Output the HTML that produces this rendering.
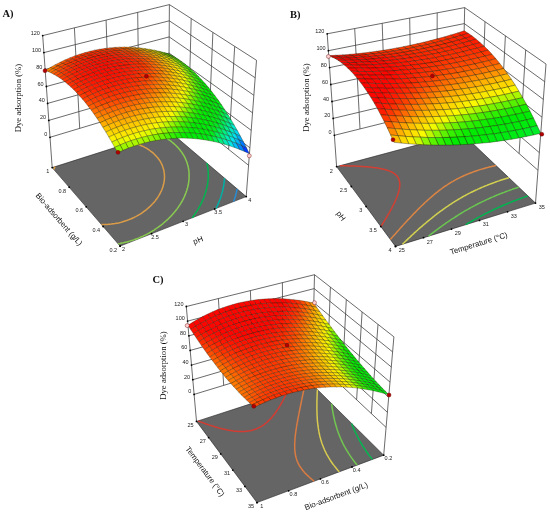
<!DOCTYPE html><html><head><meta charset="utf-8"><title>Response surface plots</title><style>html,body{margin:0;padding:0;background:#fff}svg{display:block}
.tk{font:5.5px "Liberation Sans",sans-serif;fill:#222}
.at{font:7.8px "Liberation Sans",sans-serif;fill:#111}
.zt{font:8.7px "Liberation Serif",serif;fill:#111}
.pl{font:bold 10.5px "Liberation Serif",serif;fill:#111}</style></head><body><svg width="550" height="516" viewBox="0 0 550 516"><rect width="550" height="516" fill="#fff"/><g><path d="M50 137.3L168.7 101.6L248.6 165.3M48.8 120.4L168.8 85.4L249.9 147.8M47.6 103.4L168.9 69.3L251.2 130.3M46.4 86.5L169.1 53.1L252.5 112.8M45.1 69.5L169.2 36.9L253.9 95.3M43.9 52.6L169.3 20.8L255.2 77.8M42.7 35.6L169.4 4.6L256.5 60.3M52.2 167.6L42.7 35.6M79.7 128.4L74.4 27.8M109.4 119.5L106.1 20.1M139 110.5L137.7 12.3M168.5 130.5L169.4 4.6M188.7 117.5L191.2 18.5M208.6 133.5L212.9 32.4M228.6 149.4L234.7 46.4M246.2 196.6L256.5 60.3" fill="none" stroke="#3a3a3a" stroke-width="0.75"/><circle cx="50" cy="137.3" r="0.9" fill="#000"/><text x="47.2" y="136.3" text-anchor="end" class="tk">0</text><circle cx="48.8" cy="120.4" r="0.9" fill="#000"/><text x="46" y="119.4" text-anchor="end" class="tk">20</text><circle cx="47.6" cy="103.4" r="0.9" fill="#000"/><text x="44.8" y="102.4" text-anchor="end" class="tk">40</text><circle cx="46.4" cy="86.5" r="0.9" fill="#000"/><text x="43.6" y="85.5" text-anchor="end" class="tk">60</text><circle cx="45.1" cy="69.5" r="0.9" fill="#000"/><text x="42.3" y="68.5" text-anchor="end" class="tk">80</text><circle cx="43.9" cy="52.6" r="0.9" fill="#000"/><text x="41.1" y="51.6" text-anchor="end" class="tk">100</text><circle cx="42.7" cy="35.6" r="0.9" fill="#000"/><text x="39.9" y="34.6" text-anchor="end" class="tk">120</text><polygon points="52.2,167.6 120.1,246.1 246.2,196.6 168.5,130.5" fill="#656565" stroke="#222" stroke-width="0.6"/><polyline points="233.6,201.5 234.1,200.1 234.2,200.1 234.6,198.7 234.7,198.5 235,197.3 235.2,197 235.5,196 235.6,195.4 235.8,194.6 236.1,193.8 236.2,193.3 236.5,192.2 236.5,191.9 236.8,190.6 236.8,190.6 237.1,189.3 237.2,188.9" fill="none" stroke="#288cd2" stroke-width="1.5"/><polyline points="216,208.5 216.1,208.2 216.8,206.9 216.8,206.8 217.5,205.4 217.5,205.4 218.1,203.9 218.1,203.9 218.7,202.5 218.8,202.4 219.3,201 219.3,201 219.9,199.6 219.9,199.5 220.4,198.2 220.5,197.9 220.9,196.8 221,196.4 221.3,195.4 221.5,194.9 221.7,194 221.9,193.3 222.1,192.6 222.4,191.7 222.5,191.3 222.8,190.1 222.8,190 223.1,188.6 223.1,188.5 223.4,187.3 223.5,186.8 223.6,186 223.8,185.1 223.8,184.8 224,183.5 224,183.4 224.2,182.2 224.2,181.7 224.3,181 224.4,180 224.4,179.8 224.5,178.5 224.6,178.2" fill="none" stroke="#00afa5" stroke-width="1.5"/><polyline points="192.3,217.8 192.5,217.5 193.4,216.3 193.6,216 194.3,215 194.8,214.3 195.2,213.7 195.9,212.6 196,212.4 196.9,211.1 197,210.9 197.7,209.8 198,209.3 198.5,208.5 198.9,207.7 199.3,207.1 199.8,206.1 200,205.7 200.6,204.6 200.7,204.3 201.4,203 201.4,202.9 202.1,201.5 202.1,201.5 202.8,200.1 202.8,200.1 203.4,198.6 203.4,198.6 204,197.2 204,197.1 204.5,195.7 204.5,195.6 205,194.3 205.1,194.1 205.4,192.9 205.6,192.5 205.9,191.6 206,191 206.2,190.2 206.5,189.4 206.6,188.9 206.8,187.8 206.9,187.5 207.2,186.2 207.2,186.1 207.4,184.9 207.5,184.4 207.6,183.6 207.8,182.7 207.8,182.4 208,181.1 208,181 208.1,179.9 208.1,179.2 208.2,178.6 208.3,177.4 208.3,177.4 208.3,176.2 208.3,175.5 208.3,175 208.3,173.8 208.3,173.6 208.2,172.7 208.2,171.7 208.2,171.5 208.1,170.4 208,169.7 208,169.2 207.8,168.1 207.7,167.6 207.7,167 207.5,165.9 207.4,165.4 207.2,164.8 207,163.7 206.9,163.1" fill="none" stroke="#00b450" stroke-width="1.5"/><polyline points="118.1,243.8 120,243.5 120.1,243.5 121.8,243.1 123.5,242.8 125.3,242.3 127,241.9 128.6,241.5 128.7,241.4 130.4,240.9 132,240.4 133.7,239.9 135.3,239.3 136.9,238.7 138.5,238.1 140,237.4 141.5,236.7 143,236.1 144.5,235.3 145.8,234.7 146,234.6 147.5,233.9 148.9,233.1 150.3,232.3 151.7,231.5 153.1,230.7 153.3,230.5 154.4,229.8 155.7,228.9 157,228 157.9,227.4 158.3,227.1 159.6,226.2 160.8,225.3 161.5,224.7 162.1,224.3 163.3,223.3 164.4,222.3 164.5,222.3 165.6,221.3 166.8,220.2 167,220.1 167.9,219.2 169,218.1 169.2,218 170.1,217 171.1,215.9 171.2,215.9 172.2,214.8 172.9,214 173.2,213.6 174.2,212.5 174.5,212.1 175.2,211.3 176,210.3 176.1,210.1 177.1,208.9 177.3,208.6 178,207.6 178.5,206.9 178.8,206.4 179.6,205.2 179.7,205.1 180.5,203.8 180.6,203.6 181.3,202.5 181.6,202 182.1,201.1 182.5,200.4 182.8,199.8 183.3,198.9 183.5,198.4 184,197.4 184.2,197 184.7,195.9 184.8,195.5 185.3,194.4 185.4,194.1 185.8,193 186,192.6 186.4,191.6 186.5,191.1 186.8,190.2 187,189.5 187.2,188.8 187.5,187.9 187.6,187.5 187.9,186.3 187.9,186.1 188.2,184.8 188.2,184.7 188.5,183.5 188.5,183 188.7,182.2 188.8,181.2 188.8,181 189,179.7 189,179.5 189,178.5 189.1,177.6 189.1,177.2 189.1,176 189.1,175.7 189.1,174.8 189.1,173.8 189.1,173.7 189,172.5 188.9,171.7 188.9,171.3 188.8,170.2 188.7,169.6 188.6,169.1 188.4,167.9 188.3,167.4 188.2,166.8 187.9,165.7 187.7,165 187.6,164.7 187.3,163.6 187,162.5 186.9,162.4 186.6,161.5 186.2,160.5 185.8,159.6 185.7,159.4 185.3,158.4 184.8,157.4 184.3,156.4 184.3,156.4 183.7,155.4 183.1,154.5 182.5,153.5 181.9,152.6 181.9,152.5 181.2,151.6 180.5,150.7 179.8,149.8 179.1,148.9 178.3,148 177.5,147.1 176.6,146.2 176.4,146 175.8,145.3 174.8,144.5 173.9,143.6 172.9,142.8 171.9,142 170.9,141.2 170.6,140.9 169.8,140.4 168.7,139.6 167.6,138.8 166.4,138 165.2,137.3 163.9,136.5 162.7,135.9 162.6,135.8 161.3,135.1 159.9,134.4 158.5,133.7" fill="none" stroke="#88ca50" stroke-width="1.5"/><polyline points="101.4,224.5 101.5,224.5 103.5,224.5 104.9,224.5 105.5,224.5 107.5,224.4 108.9,224.3 109.4,224.3 111.3,224.1 113.1,223.8 113.9,223.7 115,223.6 116.7,223.2 118.5,222.9 120.2,222.5 121.7,222.1 121.9,222 123.5,221.5 125.1,221 126.7,220.5 128.3,219.9 129.8,219.3 131.3,218.7 132.8,218 134.1,217.4 134.2,217.3 135.7,216.6 137,215.9 138.4,215.1 139.8,214.3 140.9,213.6 141.1,213.5 142.4,212.6 143.6,211.7 144.8,210.8 144.9,210.8 146.1,209.9 147.2,208.9 147.8,208.5 148.4,207.9 149.5,206.9 150.2,206.3 150.6,205.9 151.7,204.8 152.1,204.3 152.7,203.7 153.7,202.6 153.9,202.4 154.7,201.5 155.4,200.6 155.6,200.3 156.5,199.1 156.7,198.9 157.4,197.9 157.8,197.2 158.2,196.6 158.8,195.6 159,195.3 159.7,194 159.8,194 160.5,192.6 160.5,192.5 161.2,191.2 161.3,191 161.8,189.8 161.9,189.6 162.4,188.3 162.4,188.1 162.9,186.8 162.9,186.7 163.3,185.4 163.3,185.2 163.6,184 163.7,183.5 163.9,182.7 164.1,181.9 164.1,181.4 164.3,180.1 164.3,180.1 164.4,178.9 164.4,178.2 164.5,177.7 164.5,176.4 164.5,176.3 164.4,175.2 164.4,174.3 164.4,174.1 164.2,172.9 164.1,172.1 164.1,171.8 163.9,170.6 163.6,169.7 163.6,169.5 163.3,168.4 163,167.4 162.8,167 162.6,166.3 162.2,165.2 161.7,164.2 161.6,163.9 161.2,163.2 160.7,162.2 160.1,161.2 159.5,160.2 159.2,159.8 158.8,159.3 158.1,158.3 157.3,157.4 156.5,156.5 155.7,155.6 154.8,154.7 153.9,153.8 153,152.9 152,152.1 150.9,151.3 149.8,150.5 148.6,149.7 147.4,148.9 147.2,148.7 146.2,148.1 144.8,147.4 143.5,146.7 142.3,146.1 142,146 140.5,145.3 138.9,144.6 138.6,144.5 137.3,144 135.6,143.3 135.4,143.3 133.7,142.8 132.5,142.4 131.8,142.2" fill="none" stroke="#db9c48" stroke-width="1.5"/><polyline points="55.1,166.7 54.4,168 54.3,168.2 53.8,169.4" fill="none" stroke="#db9c48" stroke-width="1.5"/><circle cx="52.2" cy="167.6" r="0.9" fill="#000"/><text x="49.2" y="173.2" text-anchor="end" class="tk">1</text><circle cx="69.2" cy="187.2" r="0.9" fill="#000"/><text x="66.2" y="192.8" text-anchor="end" class="tk">0.8</text><circle cx="86.2" cy="206.8" r="0.9" fill="#000"/><text x="83.2" y="212.4" text-anchor="end" class="tk">0.6</text><circle cx="103.1" cy="226.5" r="0.9" fill="#000"/><text x="100.1" y="232.1" text-anchor="end" class="tk">0.4</text><circle cx="120.1" cy="246.1" r="0.9" fill="#000"/><text x="117.1" y="251.7" text-anchor="end" class="tk">0.2</text><circle cx="120.1" cy="246.1" r="0.9" fill="#000"/><text x="123.6" y="251.1" text-anchor="middle" class="tk">2</text><circle cx="151.6" cy="233.7" r="0.9" fill="#000"/><text x="155.1" y="238.7" text-anchor="middle" class="tk">2.5</text><circle cx="183.1" cy="221.3" r="0.9" fill="#000"/><text x="186.6" y="226.3" text-anchor="middle" class="tk">3</text><circle cx="214.7" cy="209" r="0.9" fill="#000"/><text x="218.2" y="214" text-anchor="middle" class="tk">3.5</text><circle cx="246.2" cy="196.6" r="0.9" fill="#000"/><text x="249.7" y="201.6" text-anchor="middle" class="tk">4</text><text transform="translate(57.1 221.1) rotate(49.1)" text-anchor="middle" class="at">Bio-adsorbent (g/L)</text><text transform="translate(199 242.6) rotate(-21.4)" text-anchor="middle" class="at">pH</text><text transform="translate(21.3 98) rotate(-90)" text-anchor="middle" class="zt">Dye adsorption (%)</text><text x="2.5" y="16.8" class="pl">A)</text><g stroke="#1a1a00" stroke-opacity="0.8" stroke-width="0.38" stroke-linejoin="round"><polygon points="164.2,52.5 167.5,54.3 172.4,55.7 169,53.9" fill="#31ef00"/><polygon points="159.2,51.3 162.6,53 167.5,54.3 164.2,52.5" fill="#72f300"/><polygon points="167.5,54.3 170.8,56.2 175.7,57.7 172.4,55.7" fill="#39f000"/><polygon points="154.3,50.2 157.6,51.8 162.6,53 159.2,51.3" fill="#bbf700"/><polygon points="162.6,53 165.9,54.9 170.8,56.2 167.5,54.3" fill="#82f400"/><polygon points="149.4,49.3 152.7,50.9 157.6,51.8 154.3,50.2" fill="#faf700"/><polygon points="170.8,56.2 174.1,58.3 179.1,59.8 175.7,57.7" fill="#40f000"/><polygon points="157.6,51.8 160.9,53.7 165.9,54.9 162.6,53" fill="#cff800"/><polygon points="144.4,48.5 147.7,50.1 152.7,50.9 149.4,49.3" fill="#fcde00"/><polygon points="165.9,54.9 169.2,56.9 174.1,58.3 170.8,56.2" fill="#8df400"/><polygon points="152.7,50.9 155.9,52.7 160.9,53.7 157.6,51.8" fill="#fbef00"/><polygon points="139.4,47.9 142.7,49.4 147.7,50.1 144.4,48.5" fill="#fec700"/><polygon points="174.1,58.3 177.5,60.6 182.4,62.2 179.1,59.8" fill="#44f000"/><polygon points="160.9,53.7 164.2,55.7 169.2,56.9 165.9,54.9" fill="#dcf800"/><polygon points="147.7,50.1 151,51.9 155.9,52.7 152.7,50.9" fill="#fdd500"/><polygon points="134.5,47.4 137.7,49 142.7,49.4 139.4,47.9" fill="#ffaf00"/><polygon points="169.2,56.9 172.5,59.2 177.5,60.6 174.1,58.3" fill="#92f500"/><polygon points="155.9,52.7 159.2,54.7 164.2,55.7 160.9,53.7" fill="#fbe900"/><polygon points="142.7,49.4 145.9,51.2 151,51.9 147.7,50.1" fill="#ffbe00"/><polygon points="129.5,47.2 132.7,48.7 137.7,49 134.5,47.4" fill="#ff9600"/><polygon points="177.5,60.6 180.8,63.1 185.8,64.7 182.4,62.2" fill="#43f000"/><polygon points="164.2,55.7 167.5,58 172.5,59.2 169.2,56.9" fill="#e3f900"/><polygon points="151,51.9 154.2,53.8 159.2,54.7 155.9,52.7" fill="#fdd000"/><polygon points="137.7,49 140.9,50.7 145.9,51.2 142.7,49.4" fill="#ffa300"/><polygon points="124.5,47.1 127.7,48.5 132.7,48.7 129.5,47.2" fill="#ff7f00"/><polygon points="172.5,59.2 175.8,61.7 180.8,63.1 177.5,60.6" fill="#92f500"/><polygon points="159.2,54.7 162.5,56.9 167.5,58 164.2,55.7" fill="#fce600"/><polygon points="145.9,51.2 149.2,53.1 154.2,53.8 151,51.9" fill="#ffb700"/><polygon points="132.7,48.7 135.9,50.4 140.9,50.7 137.7,49" fill="#ff8900"/><polygon points="180.8,63.1 184.1,65.9 189.1,67.5 185.8,64.7" fill="#3cf000"/><polygon points="119.5,47.2 122.7,48.6 127.7,48.5 124.5,47.1" fill="#ff6b00"/><polygon points="167.5,58 170.8,60.5 175.8,61.7 172.5,59.2" fill="#e4f900"/><polygon points="154.2,53.8 157.5,56 162.5,56.9 159.2,54.7" fill="#fecc00"/><polygon points="140.9,50.7 144.2,52.6 149.2,53.1 145.9,51.2" fill="#ff9a00"/><polygon points="127.7,48.5 130.9,50.2 135.9,50.4 132.7,48.7" fill="#ff7100"/><polygon points="175.8,61.7 179.1,64.4 184.1,65.9 180.8,63.1" fill="#8cf400"/><polygon points="114.5,47.4 117.6,48.8 122.7,48.6 119.5,47.2" fill="#ff5a00"/><polygon points="162.5,56.9 165.8,59.3 170.8,60.5 167.5,58" fill="#fce500"/><polygon points="149.2,53.1 152.5,55.3 157.5,56 154.2,53.8" fill="#ffb200"/><polygon points="184.1,65.9 187.4,68.8 192.4,70.4 189.1,67.5" fill="#36ef00"/><polygon points="135.9,50.4 139.1,52.2 144.2,52.6 140.9,50.7" fill="#ff7f00"/><polygon points="122.7,48.6 125.8,50.2 130.9,50.2 127.7,48.5" fill="#ff5d00"/><polygon points="109.5,47.9 112.6,49.2 117.6,48.8 114.5,47.4" fill="#ff4c00"/><polygon points="170.8,60.5 174.1,63.1 179.1,64.4 175.8,61.7" fill="#dff900"/><polygon points="157.5,56 160.8,58.4 165.8,59.3 162.5,56.9" fill="#fecb00"/><polygon points="144.2,52.6 147.4,54.7 152.5,55.3 149.2,53.1" fill="#ff9400"/><polygon points="179.1,64.4 182.5,67.3 187.4,68.8 184.1,65.9" fill="#81f400"/><polygon points="130.9,50.2 134.1,52.1 139.1,52.2 135.9,50.4" fill="#ff6700"/><polygon points="117.6,48.8 120.8,50.4 125.8,50.2 122.7,48.6" fill="#ff4c00"/><polygon points="104.5,48.5 107.6,49.8 112.6,49.2 109.5,47.9" fill="#ff4000"/><polygon points="165.8,59.3 169.1,62 174.1,63.1 170.8,60.5" fill="#fbe700"/><polygon points="152.5,55.3 155.7,57.6 160.8,58.4 157.5,56" fill="#ffaf00"/><polygon points="187.4,68.8 190.8,71.9 195.7,73.6 192.4,70.4" fill="#2def00"/><polygon points="139.1,52.2 142.4,54.3 147.4,54.7 144.2,52.6" fill="#ff7800"/><polygon points="125.8,50.2 129,52 134.1,52.1 130.9,50.2" fill="#ff5300"/><polygon points="174.1,63.1 177.4,65.9 182.5,67.3 179.1,64.4" fill="#d4f800"/><polygon points="112.6,49.2 115.7,50.8 120.8,50.4 117.6,48.8" fill="#ff3d00"/><polygon points="99.5,49.3 102.6,50.6 107.6,49.8 104.5,48.5" fill="#ff3900"/><polygon points="160.8,58.4 164.1,61 169.1,62 165.8,59.3" fill="#fecc00"/><polygon points="147.4,54.7 150.7,57 155.7,57.6 152.5,55.3" fill="#ff9100"/><polygon points="182.5,67.3 185.8,70.3 190.8,71.9 187.4,68.8" fill="#72f300"/><polygon points="134.1,52.1 137.3,54.1 142.4,54.3 139.1,52.2" fill="#ff6000"/><polygon points="120.8,50.4 124,52.2 129,52 125.8,50.2" fill="#ff4100"/><polygon points="169.1,62 172.4,64.8 177.4,65.9 174.1,63.1" fill="#fbea00"/><polygon points="107.6,49.8 110.7,51.3 115.7,50.8 112.6,49.2" fill="#ff3500"/><polygon points="94.5,50.2 97.5,51.5 102.6,50.6 99.5,49.3" fill="#ff3500"/><polygon points="190.8,71.9 194.1,75.1 199,76.9 195.7,73.6" fill="#21ee00"/><polygon points="155.7,57.6 159,60.2 164.1,61 160.8,58.4" fill="#ffb000"/><polygon points="142.4,54.3 145.6,56.6 150.7,57 147.4,54.7" fill="#ff7500"/><polygon points="177.4,65.9 180.7,69 185.8,70.3 182.5,67.3" fill="#c4f700"/><polygon points="129,52 132.2,54.1 137.3,54.1 134.1,52.1" fill="#ff4b00"/><polygon points="115.7,50.8 118.9,52.5 124,52.2 120.8,50.4" fill="#ff3500"/><polygon points="102.6,50.6 105.6,52.1 110.7,51.3 107.6,49.8" fill="#ff2e00"/><polygon points="164.1,61 167.3,63.8 172.4,64.8 169.1,62" fill="#fdcf00"/><polygon points="89.5,51.4 92.5,52.6 97.5,51.5 94.5,50.2" fill="#ff3300"/><polygon points="150.7,57 153.9,59.6 159,60.2 155.7,57.6" fill="#ff9100"/><polygon points="185.8,70.3 189,73.6 194.1,75.1 190.8,71.9" fill="#5df200"/><polygon points="137.3,54.1 140.5,56.4 145.6,56.6 142.4,54.3" fill="#ff5c00"/><polygon points="172.4,64.8 175.7,67.8 180.7,69 177.4,65.9" fill="#fbf000"/><polygon points="124,52.2 127.1,54.2 132.2,54.1 129,52" fill="#ff3a00"/><polygon points="110.7,51.3 113.8,53.1 118.9,52.5 115.7,50.8" fill="#ff2c00"/><polygon points="97.5,51.5 100.6,53 105.6,52.1 102.6,50.6" fill="#ff2900"/><polygon points="194.1,75.1 197.3,78.6 202.3,80.4 199,76.9" fill="#12ed00"/><polygon points="84.5,52.8 87.5,54 92.5,52.6 89.5,51.4" fill="#ff3200"/><polygon points="159,60.2 162.3,62.9 167.3,63.8 164.1,61" fill="#ffb300"/><polygon points="145.6,56.6 148.8,59.1 153.9,59.6 150.7,57" fill="#ff7400"/><polygon points="180.7,69 184,72.2 189,73.6 185.8,70.3" fill="#aef600"/><polygon points="132.2,54.1 135.4,56.3 140.5,56.4 137.3,54.1" fill="#ff4600"/><polygon points="118.9,52.5 122,54.5 127.1,54.2 124,52.2" fill="#ff2f00"/><polygon points="167.3,63.8 170.6,66.7 175.7,67.8 172.4,64.8" fill="#fdd400"/><polygon points="105.6,52.1 108.7,53.8 113.8,53.1 110.7,51.3" fill="#ff2500"/><polygon points="92.5,52.6 95.6,54.1 100.6,53 97.5,51.5" fill="#ff2600"/><polygon points="79.6,54.3 82.5,55.5 87.5,54 84.5,52.8" fill="#ff3300"/><polygon points="189,73.6 192.3,77 197.3,78.6 194.1,75.1" fill="#43f000"/><polygon points="153.9,59.6 157.2,62.3 162.3,62.9 159,60.2" fill="#ff9300"/><polygon points="140.5,56.4 143.7,58.8 148.8,59.1 145.6,56.6" fill="#ff5b00"/><polygon points="175.7,67.8 179,70.9 184,72.2 180.7,69" fill="#faf800"/><polygon points="127.1,54.2 130.3,56.4 135.4,56.3 132.2,54.1" fill="#ff3600"/><polygon points="197.3,78.6 200.6,82.3 205.6,84.1 202.3,80.4" fill="#02eb00"/><polygon points="113.8,53.1 116.9,55 122,54.5 118.9,52.5" fill="#ff2500"/><polygon points="162.3,62.9 165.5,65.9 170.6,66.7 167.3,63.8" fill="#ffb900"/><polygon points="100.6,53 103.7,54.6 108.7,53.8 105.6,52.1" fill="#ff2000"/><polygon points="87.5,54 90.5,55.4 95.6,54.1 92.5,52.6" fill="#ff2500"/><polygon points="74.6,56 77.5,57.2 82.5,55.5 79.6,54.3" fill="#ff3700"/><polygon points="148.8,59.1 152.1,61.8 157.2,62.3 153.9,59.6" fill="#ff7600"/><polygon points="184,72.2 187.3,75.6 192.3,77 189,73.6" fill="#93f500"/><polygon points="135.4,56.3 138.6,58.7 143.7,58.8 140.5,56.4" fill="#ff4400"/><polygon points="170.6,66.7 173.9,69.9 179,70.9 175.7,67.8" fill="#fcdb00"/><polygon points="122,54.5 125.2,56.6 130.3,56.4 127.1,54.2" fill="#ff2b00"/><polygon points="108.7,53.8 111.9,55.7 116.9,55 113.8,53.1" fill="#ff1e00"/><polygon points="192.3,77 195.6,80.6 200.6,82.3 197.3,78.6" fill="#2fef00"/><polygon points="95.6,54.1 98.6,55.7 103.7,54.6 100.6,53" fill="#ff1c00"/><polygon points="157.2,62.3 160.4,65.2 165.5,65.9 162.3,62.9" fill="#ff9900"/><polygon points="69.7,57.9 72.6,59.1 77.5,57.2 74.6,56" fill="#ff3c00"/><polygon points="82.5,55.5 85.5,56.9 90.5,55.4 87.5,54" fill="#ff2600"/><polygon points="143.7,58.8 146.9,61.4 152.1,61.8 148.8,59.1" fill="#ff5c00"/><polygon points="179,70.9 182.2,74.3 187.3,75.6 184,72.2" fill="#e6f900"/><polygon points="200.6,82.3 203.9,86.1 208.9,87.9 205.6,84.1" fill="#00eb03"/><polygon points="130.3,56.4 133.5,58.8 138.6,58.7 135.4,56.3" fill="#ff3400"/><polygon points="165.5,65.9 168.8,69 173.9,69.9 170.6,66.7" fill="#fec000"/><polygon points="116.9,55 120.1,57.1 125.2,56.6 122,54.5" fill="#ff2100"/><polygon points="103.7,54.6 106.8,56.5 111.9,55.7 108.7,53.8" fill="#ff1900"/><polygon points="90.5,55.4 93.6,57 98.6,55.7 95.6,54.1" fill="#ff1b00"/><polygon points="64.7,60.1 67.6,61.2 72.6,59.1 69.7,57.9" fill="#ff4500"/><polygon points="77.5,57.2 80.5,58.5 85.5,56.9 82.5,55.5" fill="#ff2900"/><polygon points="187.3,75.6 190.6,79.2 195.6,80.6 192.3,77" fill="#76f300"/><polygon points="152.1,61.8 155.3,64.6 160.4,65.2 157.2,62.3" fill="#ff7b00"/><polygon points="138.6,58.7 141.8,61.3 146.9,61.4 143.7,58.8" fill="#ff4500"/><polygon points="173.9,69.9 177.1,73.2 182.2,74.3 179,70.9" fill="#fce400"/><polygon points="125.2,56.6 128.4,59 133.5,58.8 130.3,56.4" fill="#ff2800"/><polygon points="195.6,80.6 198.9,84.4 203.9,86.1 200.6,82.3" fill="#1ded00"/><polygon points="111.9,55.7 115,57.8 120.1,57.1 116.9,55" fill="#ff1a00"/><polygon points="160.4,65.2 163.7,68.2 168.8,69 165.5,65.9" fill="#ffa100"/><polygon points="98.6,55.7 101.7,57.6 106.8,56.5 103.7,54.6" fill="#ff1700"/><polygon points="59.8,62.4 62.7,63.5 67.6,61.2 64.7,60.1" fill="#ff5200"/><polygon points="85.5,56.9 88.5,58.4 93.6,57 90.5,55.4" fill="#ff1c00"/><polygon points="72.6,59.1 75.5,60.4 80.5,58.5 77.5,57.2" fill="#ff2e00"/><polygon points="182.2,74.3 185.5,77.9 190.6,79.2 187.3,75.6" fill="#c7f700"/><polygon points="146.9,61.4 150.2,64.3 155.3,64.6 152.1,61.8" fill="#ff6000"/><polygon points="203.9,86.1 207.1,90.1 212.1,92 208.9,87.9" fill="#00eb06"/><polygon points="133.5,58.8 136.7,61.3 141.8,61.3 138.6,58.7" fill="#ff3500"/><polygon points="168.8,69 172,72.3 177.1,73.2 173.9,69.9" fill="#fec900"/><polygon points="120.1,57.1 123.2,59.4 128.4,59 125.2,56.6" fill="#ff1e00"/><polygon points="190.6,79.2 193.8,82.9 198.9,84.4 195.6,80.6" fill="#54f100"/><polygon points="106.8,56.5 109.9,58.6 115,57.8 111.9,55.7" fill="#ff1600"/><polygon points="155.3,64.6 158.5,67.7 163.7,68.2 160.4,65.2" fill="#ff8300"/><polygon points="93.6,57 96.6,58.8 101.7,57.6 98.6,55.7" fill="#ff1600"/><polygon points="54.9,64.9 57.8,65.9 62.7,63.5 59.8,62.4" fill="#ff6100"/><polygon points="80.5,58.5 83.5,60.1 88.5,58.4 85.5,56.9" fill="#ff1e00"/><polygon points="67.6,61.2 70.5,62.5 75.5,60.4 72.6,59.1" fill="#ff3500"/><polygon points="141.8,61.3 145,64.1 150.2,64.3 146.9,61.4" fill="#ff4900"/><polygon points="177.1,73.2 180.4,76.7 185.5,77.9 182.2,74.3" fill="#fbef00"/><polygon points="198.9,84.4 202.1,88.4 207.1,90.1 203.9,86.1" fill="#07ec00"/><polygon points="128.4,59 131.5,61.5 136.7,61.3 133.5,58.8" fill="#ff2800"/><polygon points="163.7,68.2 166.9,71.5 172,72.3 168.8,69" fill="#ffad00"/><polygon points="115,57.8 118.1,60 123.2,59.4 120.1,57.1" fill="#ff1800"/><polygon points="101.7,57.6 104.8,59.6 109.9,58.6 106.8,56.5" fill="#ff1300"/><polygon points="185.5,77.9 188.7,81.6 193.8,82.9 190.6,79.2" fill="#a2f600"/><polygon points="50.1,67.6 52.9,68.6 57.8,65.9 54.9,64.9" fill="#ff7400"/><polygon points="88.5,58.4 91.5,60.2 96.6,58.8 93.6,57" fill="#ff1600"/><polygon points="62.7,63.5 65.5,64.7 70.5,62.5 67.6,61.2" fill="#ff3d00"/><polygon points="75.5,60.4 78.4,61.9 83.5,60.1 80.5,58.5" fill="#ff2200"/><polygon points="150.2,64.3 153.4,67.3 158.5,67.7 155.3,64.6" fill="#ff6700"/><polygon points="207.1,90.1 210.4,94.3 215.3,96.2 212.1,92" fill="#00eb0a"/><polygon points="136.7,61.3 139.9,64.1 145,64.1 141.8,61.3" fill="#ff3700"/><polygon points="172,72.3 175.3,75.8 180.4,76.7 177.1,73.2" fill="#fdd400"/><polygon points="123.2,59.4 126.4,61.9 131.5,61.5 128.4,59" fill="#ff1d00"/><polygon points="193.8,82.9 197,86.9 202.1,88.4 198.9,84.4" fill="#34ef00"/><polygon points="109.9,58.6 113,60.8 118.1,60 115,57.8" fill="#ff1300"/><polygon points="158.5,67.7 161.7,70.9 166.9,71.5 163.7,68.2" fill="#ff8d00"/><polygon points="96.6,58.8 99.6,60.8 104.8,59.6 101.7,57.6" fill="#ff1100"/><polygon points="45.2,70.5 48,71.5 52.9,68.6 50.1,67.6" fill="#ff8a00"/><polygon points="83.5,60.1 86.5,61.8 91.5,60.2 88.5,58.4" fill="#ff1700"/><polygon points="57.8,65.9 60.6,67.2 65.5,64.7 62.7,63.5" fill="#ff4c00"/><polygon points="70.5,62.5 73.4,64 78.4,61.9 75.5,60.4" fill="#ff2900"/><polygon points="180.4,76.7 183.6,80.4 188.7,81.6 185.5,77.9" fill="#f3fa00"/><polygon points="145,64.1 148.2,67.1 153.4,67.3 150.2,64.3" fill="#ff4f00"/><polygon points="202.1,88.4 205.3,92.6 210.4,94.3 207.1,90.1" fill="#00eb02"/><polygon points="131.5,61.5 134.7,64.3 139.9,64.1 136.7,61.3" fill="#ff2a00"/><polygon points="166.9,71.5 170.1,75 175.3,75.8 172,72.3" fill="#ffba00"/><polygon points="118.1,60 121.2,62.5 126.4,61.9 123.2,59.4" fill="#ff1700"/><polygon points="188.7,81.6 192,85.5 197,86.9 193.8,82.9" fill="#7cf400"/><polygon points="210.4,94.3 213.6,98.7 218.6,100.6 215.3,96.2" fill="#00eb0e"/><polygon points="104.8,59.6 107.8,61.8 113,60.8 109.9,58.6" fill="#ff1000"/><polygon points="153.4,67.3 156.6,70.5 161.7,70.9 158.5,67.7" fill="#ff7100"/><polygon points="91.5,60.2 94.5,62.2 99.6,60.8 96.6,58.8" fill="#ff1100"/><polygon points="52.9,68.6 55.7,69.9 60.6,67.2 57.8,65.9" fill="#ff5e00"/><polygon points="78.4,61.9 81.4,63.7 86.5,61.8 83.5,60.1" fill="#ff1a00"/><polygon points="65.5,64.7 68.4,66.2 73.4,64 70.5,62.5" fill="#ff3100"/><polygon points="175.3,75.8 178.5,79.4 183.6,80.4 180.4,76.7" fill="#fce000"/><polygon points="139.9,64.1 143,67.1 148.2,67.1 145,64.1" fill="#ff3b00"/><polygon points="197,86.9 200.3,91 205.3,92.6 202.1,88.4" fill="#1ded00"/><polygon points="126.4,61.9 129.5,64.7 134.7,64.3 131.5,61.5" fill="#ff1f00"/><polygon points="161.7,70.9 165,74.3 170.1,75 166.9,71.5" fill="#ff9b00"/><polygon points="113,60.8 116.1,63.3 121.2,62.5 118.1,60" fill="#ff1200"/><polygon points="99.6,60.8 102.7,63 107.8,61.8 104.8,59.6" fill="#ff0e00"/><polygon points="183.6,80.4 186.9,84.3 192,85.5 188.7,81.6" fill="#cbf800"/><polygon points="205.3,92.6 208.5,96.9 213.6,98.7 210.4,94.3" fill="#00eb06"/><polygon points="86.5,61.8 89.5,63.8 94.5,62.2 91.5,60.2" fill="#ff1200"/><polygon points="148.2,67.1 151.4,70.3 156.6,70.5 153.4,67.3" fill="#ff5800"/><polygon points="48,71.5 50.8,72.7 55.7,69.9 52.9,68.6" fill="#ff7300"/><polygon points="73.4,64 76.4,65.7 81.4,63.7 78.4,61.9" fill="#ff1e00"/><polygon points="60.6,67.2 63.5,68.7 68.4,66.2 65.5,64.7" fill="#ff3b00"/><polygon points="134.7,64.3 137.9,67.2 143,67.1 139.9,64.1" fill="#ff2d00"/><polygon points="170.1,75 173.4,78.6 178.5,79.4 175.3,75.8" fill="#fec600"/><polygon points="192,85.5 195.2,89.6 200.3,91 197,86.9" fill="#52f100"/><polygon points="121.2,62.5 124.4,65.2 129.5,64.7 126.4,61.9" fill="#ff1800"/><polygon points="213.6,98.7 216.8,103.2 221.8,105.2 218.6,100.6" fill="#00eb12"/><polygon points="156.6,70.5 159.8,73.9 165,74.3 161.7,70.9" fill="#ff7d00"/><polygon points="107.8,61.8 110.9,64.3 116.1,63.3 113,60.8" fill="#ff0f00"/><polygon points="94.5,62.2 97.6,64.4 102.7,63 99.6,60.8" fill="#ff0e00"/><polygon points="178.5,79.4 181.7,83.3 186.9,84.3 183.6,80.4" fill="#fbef00"/><polygon points="81.4,63.7 84.4,65.6 89.5,63.8 86.5,61.8" fill="#ff1500"/><polygon points="55.7,69.9 58.5,71.3 63.5,68.7 60.6,67.2" fill="#ff4b00"/><polygon points="68.4,66.2 71.3,67.9 76.4,65.7 73.4,64" fill="#ff2600"/><polygon points="143,67.1 146.2,70.2 151.4,70.3 148.2,67.1" fill="#ff4200"/><polygon points="200.3,91 203.5,95.3 208.5,96.9 205.3,92.6" fill="#03eb00"/><polygon points="129.5,64.7 132.7,67.6 137.9,67.2 134.7,64.3" fill="#ff2200"/><polygon points="165,74.3 168.2,78 173.4,78.6 170.1,75" fill="#ffaa00"/><polygon points="116.1,63.3 119.2,65.9 124.4,65.2 121.2,62.5" fill="#ff1300"/><polygon points="186.9,84.3 190.1,88.4 195.2,89.6 192,85.5" fill="#9df500"/><polygon points="208.5,96.9 211.7,101.4 216.8,103.2 213.6,98.7" fill="#00eb0b"/><polygon points="102.7,63 105.8,65.4 110.9,64.3 107.8,61.8" fill="#ff0d00"/><polygon points="151.4,70.3 154.6,73.6 159.8,73.9 156.6,70.5" fill="#ff6300"/><polygon points="89.5,63.8 92.5,65.9 97.6,64.4 94.5,62.2" fill="#ff0f00"/><polygon points="76.4,65.7 79.3,67.6 84.4,65.6 81.4,63.7" fill="#ff1800"/><polygon points="50.8,72.7 53.6,74.2 58.5,71.3 55.7,69.9" fill="#ff5f00"/><polygon points="63.5,68.7 66.3,70.3 71.3,67.9 68.4,66.2" fill="#ff3000"/><polygon points="173.4,78.6 176.6,82.4 181.7,83.3 178.5,79.4" fill="#fdd400"/><polygon points="137.9,67.2 141,70.3 146.2,70.2 143,67.1" fill="#ff3300"/><polygon points="216.8,103.2 219.9,107.9 224.9,109.9 221.8,105.2" fill="#00ec29"/><polygon points="195.2,89.6 198.4,93.9 203.5,95.3 200.3,91" fill="#2fef00"/><polygon points="124.4,65.2 127.5,68.1 132.7,67.6 129.5,64.7" fill="#ff1900"/><polygon points="159.8,73.9 163,77.5 168.2,78 165,74.3" fill="#ff8d00"/><polygon points="110.9,64.3 114,66.9 119.2,65.9 116.1,63.3" fill="#ff0f00"/><polygon points="181.7,83.3 184.9,87.3 190.1,88.4 186.9,84.3" fill="#ecf900"/><polygon points="97.6,64.4 100.6,66.8 105.8,65.4 102.7,63" fill="#ff0c00"/><polygon points="203.5,95.3 206.7,99.8 211.7,101.4 208.5,96.9" fill="#00eb04"/><polygon points="146.2,70.2 149.4,73.5 154.6,73.6 151.4,70.3" fill="#ff4d00"/><polygon points="84.4,65.6 87.4,67.7 92.5,65.9 89.5,63.8" fill="#ff1100"/><polygon points="71.3,67.9 74.3,69.8 79.3,67.6 76.4,65.7" fill="#ff1e00"/><polygon points="58.5,71.3 61.3,72.9 66.3,70.3 63.5,68.7" fill="#ff3c00"/><polygon points="132.7,67.6 135.8,70.6 141,70.3 137.9,67.2" fill="#ff2700"/><polygon points="168.2,78 171.4,81.8 176.6,82.4 173.4,78.6" fill="#ffbc00"/><polygon points="190.1,88.4 193.3,92.6 198.4,93.9 195.2,89.6" fill="#6ff300"/><polygon points="211.7,101.4 214.9,106.1 219.9,107.9 216.8,103.2" fill="#00eb0f"/><polygon points="119.2,65.9 122.3,68.8 127.5,68.1 124.4,65.2" fill="#ff1400"/><polygon points="154.6,73.6 157.8,77.2 163,77.5 159.8,73.9" fill="#ff7200"/><polygon points="105.8,65.4 108.8,68 114,66.9 110.9,64.3" fill="#ff0d00"/><polygon points="92.5,65.9 95.5,68.3 100.6,66.8 97.6,64.4" fill="#ff0d00"/><polygon points="176.6,82.4 179.8,86.4 184.9,87.3 181.7,83.3" fill="#fce400"/><polygon points="219.9,107.9 223.1,112.8 228.1,114.8 224.9,109.9" fill="#00ee4f"/><polygon points="79.3,67.6 82.3,69.7 87.4,67.7 84.4,65.6" fill="#ff1400"/><polygon points="141,70.3 144.2,73.6 149.4,73.5 146.2,70.2" fill="#ff3a00"/><polygon points="198.4,93.9 201.6,98.3 206.7,99.8 203.5,95.3" fill="#14ed00"/><polygon points="66.3,70.3 69.2,72.2 74.3,69.8 71.3,67.9" fill="#ff2700"/><polygon points="53.6,74.2 56.4,75.8 61.3,72.9 58.5,71.3" fill="#ff4f00"/><polygon points="127.5,68.1 130.6,71.1 135.8,70.6 132.7,67.6" fill="#ff1d00"/><polygon points="163,77.5 166.2,81.2 171.4,81.8 168.2,78" fill="#ff9e00"/><polygon points="184.9,87.3 188.1,91.5 193.3,92.6 190.1,88.4" fill="#baf700"/><polygon points="114,66.9 117.1,69.7 122.3,68.8 119.2,65.9" fill="#ff1000"/><polygon points="206.7,99.8 209.9,104.5 214.9,106.1 211.7,101.4" fill="#00eb08"/><polygon points="149.4,73.5 152.6,77.1 157.8,77.2 154.6,73.6" fill="#ff5a00"/><polygon points="100.6,66.8 103.7,69.3 108.8,68 105.8,65.4" fill="#ff0c00"/><polygon points="87.4,67.7 90.4,70 95.5,68.3 92.5,65.9" fill="#ff0e00"/><polygon points="74.3,69.8 77.2,71.8 82.3,69.7 79.3,67.6" fill="#ff1900"/><polygon points="171.4,81.8 174.6,85.7 179.8,86.4 176.6,82.4" fill="#fecb00"/><polygon points="61.3,72.9 64.2,74.8 69.2,72.2 66.3,70.3" fill="#ff3300"/><polygon points="135.8,70.6 139,73.9 144.2,73.6 141,70.3" fill="#ff2e00"/><polygon points="214.9,106.1 218.1,111 223.1,112.8 219.9,107.9" fill="#00eb16"/><polygon points="193.3,92.6 196.5,97.1 201.6,98.3 198.4,93.9" fill="#3ef000"/><polygon points="122.3,68.8 125.4,71.8 130.6,71.1 127.5,68.1" fill="#ff1700"/><polygon points="157.8,77.2 161,80.9 166.2,81.2 163,77.5" fill="#ff8300"/><polygon points="108.8,68 111.9,70.8 117.1,69.7 114,66.9" fill="#ff0e00"/><polygon points="223.1,112.8 226.2,117.9 231.2,119.9 228.1,114.8" fill="#00f078"/><polygon points="179.8,86.4 183,90.6 188.1,91.5 184.9,87.3" fill="#faf600"/><polygon points="201.6,98.3 204.8,103 209.9,104.5 206.7,99.8" fill="#00eb01"/><polygon points="95.5,68.3 98.5,70.8 103.7,69.3 100.6,66.8" fill="#ff0c00"/><polygon points="144.2,73.6 147.4,77.1 152.6,77.1 149.4,73.5" fill="#ff4500"/><polygon points="82.3,69.7 85.2,72 90.4,70 87.4,67.7" fill="#ff1200"/><polygon points="69.2,72.2 72.1,74.2 77.2,71.8 74.3,69.8" fill="#ff2100"/><polygon points="56.4,75.8 59.2,77.6 64.2,74.8 61.3,72.9" fill="#ff4100"/><polygon points="166.2,81.2 169.4,85.2 174.6,85.7 171.4,81.8" fill="#ffb300"/><polygon points="130.6,71.1 133.8,74.4 139,73.9 135.8,70.6" fill="#ff2300"/><polygon points="188.1,91.5 191.3,95.9 196.5,97.1 193.3,92.6" fill="#86f400"/><polygon points="209.9,104.5 213,109.3 218.1,111 214.9,106.1" fill="#00eb0d"/><polygon points="117.1,69.7 120.2,72.7 125.4,71.8 122.3,68.8" fill="#ff1300"/><polygon points="152.6,77.1 155.8,80.8 161,80.9 157.8,77.2" fill="#ff6a00"/><polygon points="103.7,69.3 106.7,72.1 111.9,70.8 108.8,68" fill="#ff0c00"/><polygon points="174.6,85.7 177.8,89.9 183,90.6 179.8,86.4" fill="#fcdd00"/><polygon points="90.4,70 93.4,72.5 98.5,70.8 95.5,68.3" fill="#ff0d00"/><polygon points="218.1,111 221.2,116 226.2,117.9 223.1,112.8" fill="#00ed3e"/><polygon points="196.5,97.1 199.6,101.6 204.8,103 201.6,98.3" fill="#20ee00"/><polygon points="139,73.9 142.1,77.4 147.4,77.1 144.2,73.6" fill="#ff3600"/><polygon points="77.2,71.8 80.1,74.1 85.2,72 82.3,69.7" fill="#ff1600"/><polygon points="64.2,74.8 67.1,76.8 72.1,74.2 69.2,72.2" fill="#ff2b00"/><polygon points="125.4,71.8 128.5,75 133.8,74.4 130.6,71.1" fill="#ff1b00"/><polygon points="161,80.9 164.2,84.8 169.4,85.2 166.2,81.2" fill="#ff9600"/><polygon points="226.2,117.9 229.3,123.1 234.3,125.2 231.2,119.9" fill="#00eda3"/><polygon points="183,90.6 186.1,95 191.3,95.9 188.1,91.5" fill="#d0f800"/><polygon points="204.8,103 207.9,107.8 213,109.3 209.9,104.5" fill="#00eb06"/><polygon points="111.9,70.8 115,73.8 120.2,72.7 117.1,69.7" fill="#ff1000"/><polygon points="147.4,77.1 150.5,80.8 155.8,80.8 152.6,77.1" fill="#ff5500"/><polygon points="98.5,70.8 101.5,73.6 106.7,72.1 103.7,69.3" fill="#ff0c00"/><polygon points="85.2,72 88.2,74.5 93.4,72.5 90.4,70" fill="#ff1000"/><polygon points="169.4,85.2 172.6,89.3 177.8,89.9 174.6,85.7" fill="#fec500"/><polygon points="72.1,74.2 75.1,76.5 80.1,74.1 77.2,71.8" fill="#ff1c00"/><polygon points="133.8,74.4 136.9,77.8 142.1,77.4 139,73.9" fill="#ff2c00"/><polygon points="213,109.3 216.2,114.3 221.2,116 218.1,111" fill="#00eb12"/><polygon points="59.2,77.6 62.1,79.6 67.1,76.8 64.2,74.8" fill="#ff3800"/><polygon points="191.3,95.9 194.5,100.5 199.6,101.6 196.5,97.1" fill="#52f100"/><polygon points="120.2,72.7 123.3,75.9 128.5,75 125.4,71.8" fill="#ff1700"/><polygon points="155.8,80.8 158.9,84.6 164.2,84.8 161,80.9" fill="#ff7d00"/><polygon points="221.2,116 224.3,121.2 229.3,123.1 226.2,117.9" fill="#00ef68"/><polygon points="106.7,72.1 109.8,75 115,73.8 111.9,70.8" fill="#ff0e00"/><polygon points="177.8,89.9 180.9,94.2 186.1,95 183,90.6" fill="#fbf000"/><polygon points="199.6,101.6 202.8,106.4 207.9,107.8 204.8,103" fill="#01eb00"/><polygon points="142.1,77.4 145.3,81 150.5,80.8 147.4,77.1" fill="#ff4200"/><polygon points="93.4,72.5 96.4,75.3 101.5,73.6 98.5,70.8" fill="#ff0d00"/><polygon points="80.1,74.1 83.1,76.6 88.2,74.5 85.2,72" fill="#ff1400"/><polygon points="67.1,76.8 70,79 75.1,76.5 72.1,74.2" fill="#ff2600"/><polygon points="229.3,123.1 232.4,128.4 237.4,130.6 234.3,125.2" fill="#00e9d0"/><polygon points="164.2,84.8 167.3,88.9 172.6,89.3 169.4,85.2" fill="#ffac00"/><polygon points="128.5,75 131.7,78.4 136.9,77.8 133.8,74.4" fill="#ff2300"/><polygon points="207.9,107.8 211.1,112.7 216.2,114.3 213,109.3" fill="#00eb0b"/><polygon points="186.1,95 189.3,99.5 194.5,100.5 191.3,95.9" fill="#97f500"/><polygon points="115,73.8 118.1,76.9 123.3,75.9 120.2,72.7" fill="#ff1300"/><polygon points="150.5,80.8 153.7,84.6 158.9,84.6 155.8,80.8" fill="#ff6600"/><polygon points="101.5,73.6 104.6,76.5 109.8,75 106.7,72.1" fill="#ff0e00"/><polygon points="172.6,89.3 175.7,93.6 180.9,94.2 177.8,89.9" fill="#fdd800"/><polygon points="216.2,114.3 219.3,119.4 224.3,121.2 221.2,116" fill="#00ec30"/><polygon points="194.5,100.5 197.6,105.2 202.8,106.4 199.6,101.6" fill="#29ee00"/><polygon points="88.2,74.5 91.2,77.1 96.4,75.3 93.4,72.5" fill="#ff1000"/><polygon points="136.9,77.8 140,81.4 145.3,81 142.1,77.4" fill="#ff3600"/><polygon points="75.1,76.5 78,78.9 83.1,76.6 80.1,74.1" fill="#ff1a00"/><polygon points="62.1,79.6 64.9,81.8 70,79 67.1,76.8" fill="#ff3300"/><polygon points="158.9,84.6 162.1,88.7 167.3,88.9 164.2,84.8" fill="#ff9200"/><polygon points="123.3,75.9 126.4,79.3 131.7,78.4 128.5,75" fill="#ff1c00"/><polygon points="224.3,121.2 227.4,126.5 232.4,128.4 229.3,123.1" fill="#00ee94"/><polygon points="180.9,94.2 184.1,98.7 189.3,99.5 186.1,95" fill="#def900"/><polygon points="202.8,106.4 205.9,111.3 211.1,112.7 207.9,107.8" fill="#00eb05"/><polygon points="109.8,75 112.8,78.2 118.1,76.9 115,73.8" fill="#ff1100"/><polygon points="145.3,81 148.4,84.8 153.7,84.6 150.5,80.8" fill="#ff5300"/><polygon points="96.4,75.3 99.4,78.1 104.6,76.5 101.5,73.6" fill="#ff0f00"/><polygon points="232.4,128.4 235.5,134 240.4,136.1 237.4,130.6" fill="#00d8f2"/><polygon points="167.3,88.9 170.5,93.2 175.7,93.6 172.6,89.3" fill="#fec200"/><polygon points="83.1,76.6 86.1,79.2 91.2,77.1 88.2,74.5" fill="#ff1400"/><polygon points="211.1,112.7 214.2,117.8 219.3,119.4 216.2,114.3" fill="#00eb11"/><polygon points="131.7,78.4 134.8,82 140,81.4 136.9,77.8" fill="#ff2c00"/><polygon points="189.3,99.5 192.5,104.2 197.6,105.2 194.5,100.5" fill="#5ff200"/><polygon points="70,79 72.9,81.4 78,78.9 75.1,76.5" fill="#ff2300"/><polygon points="118.1,76.9 121.2,80.3 126.4,79.3 123.3,75.9" fill="#ff1800"/><polygon points="153.7,84.6 156.8,88.7 162.1,88.7 158.9,84.6" fill="#ff7b00"/><polygon points="219.3,119.4 222.4,124.7 227.4,126.5 224.3,121.2" fill="#00ee5c"/><polygon points="175.7,93.6 178.9,98.1 184.1,98.7 180.9,94.2" fill="#fbec00"/><polygon points="104.6,76.5 107.6,79.6 112.8,78.2 109.8,75" fill="#ff1100"/><polygon points="197.6,105.2 200.8,110.1 205.9,111.3 202.8,106.4" fill="#09ec00"/><polygon points="140,81.4 143.2,85.2 148.4,84.8 145.3,81" fill="#ff4200"/><polygon points="91.2,77.1 94.2,80 99.4,78.1 96.4,75.3" fill="#ff1100"/><polygon points="78,78.9 80.9,81.5 86.1,79.2 83.1,76.6" fill="#ff1900"/><polygon points="227.4,126.5 230.5,132 235.5,134 232.4,128.4" fill="#00eac3"/><polygon points="162.1,88.7 165.2,92.9 170.5,93.2 167.3,88.9" fill="#ffaa00"/><polygon points="64.9,81.8 67.8,84.2 72.9,81.4 70,79" fill="#ff2f00"/><polygon points="126.4,79.3 129.5,82.8 134.8,82 131.7,78.4" fill="#ff2500"/><polygon points="205.9,111.3 209.1,116.4 214.2,117.8 211.1,112.7" fill="#00eb0a"/><polygon points="184.1,98.7 187.3,103.4 192.5,104.2 189.3,99.5" fill="#a1f600"/><polygon points="112.8,78.2 115.9,81.5 121.2,80.3 118.1,76.9" fill="#ff1600"/><polygon points="235.5,134 238.5,139.6 243.5,141.8 240.4,136.1" fill="#00abf9"/><polygon points="148.4,84.8 151.6,88.8 156.8,88.7 153.7,84.6" fill="#ff6600"/><polygon points="99.4,78.1 102.4,81.2 107.6,79.6 104.6,76.5" fill="#ff1200"/><polygon points="214.2,117.8 217.3,123.1 222.4,124.7 219.3,119.4" fill="#00ec26"/><polygon points="170.5,93.2 173.6,97.6 178.9,98.1 175.7,93.6" fill="#fdd600"/><polygon points="192.5,104.2 195.6,109.1 200.8,110.1 197.6,105.2" fill="#2fef00"/><polygon points="86.1,79.2 89,82.1 94.2,80 91.2,77.1" fill="#ff1500"/><polygon points="134.8,82 137.9,85.8 143.2,85.2 140,81.4" fill="#ff3700"/><polygon points="72.9,81.4 75.8,84 80.9,81.5 78,78.9" fill="#ff2200"/><polygon points="156.8,88.7 160,92.9 165.2,92.9 162.1,88.7" fill="#ff9200"/><polygon points="222.4,124.7 225.4,130.2 230.5,132 227.4,126.5" fill="#00ef8a"/><polygon points="121.2,80.3 124.2,83.8 129.5,82.8 126.4,79.3" fill="#ff1f00"/><polygon points="178.9,98.1 182,102.7 187.3,103.4 184.1,98.7" fill="#e4f900"/><polygon points="200.8,110.1 203.9,115.2 209.1,116.4 205.9,111.3" fill="#00eb04"/><polygon points="107.6,79.6 110.7,82.9 115.9,81.5 112.8,78.2" fill="#ff1500"/><polygon points="143.2,85.2 146.3,89.2 151.6,88.8 148.4,84.8" fill="#ff5500"/><polygon points="230.5,132 233.5,137.6 238.5,139.6 235.5,134" fill="#00e2f1"/><polygon points="94.2,80 97.2,83.1 102.4,81.2 99.4,78.1" fill="#ff1400"/><polygon points="165.2,92.9 168.4,97.3 173.6,97.6 170.5,93.2" fill="#fec100"/><polygon points="209.1,116.4 212.2,121.6 217.3,123.1 214.2,117.8" fill="#00eb10"/><polygon points="80.9,81.5 83.9,84.4 89,82.1 86.1,79.2" fill="#ff1a00"/><polygon points="187.3,103.4 190.4,108.2 195.6,109.1 192.5,104.2" fill="#66f200"/><polygon points="129.5,82.8 132.6,86.6 137.9,85.8 134.8,82" fill="#ff2f00"/><polygon points="67.8,84.2 70.7,86.8 75.8,84 72.9,81.4" fill="#ff2d00"/><polygon points="238.5,139.6 241.5,145.5 246.5,147.7 243.5,141.8" fill="#007aff"/><polygon points="115.9,81.5 119,85 124.2,83.8 121.2,80.3" fill="#ff1c00"/><polygon points="151.6,88.8 154.7,93 160,92.9 156.8,88.7" fill="#ff7d00"/><polygon points="217.3,123.1 220.4,128.5 225.4,130.2 222.4,124.7" fill="#00ee54"/><polygon points="173.6,97.6 176.8,102.2 182,102.7 178.9,98.1" fill="#fbeb00"/><polygon points="195.6,109.1 198.7,114.1 203.9,115.2 200.8,110.1" fill="#0dec00"/><polygon points="102.4,81.2 105.4,84.5 110.7,82.9 107.6,79.6" fill="#ff1500"/><polygon points="137.9,85.8 141,89.7 146.3,89.2 143.2,85.2" fill="#ff4700"/><polygon points="89,82.1 92,85.1 97.2,83.1 94.2,80" fill="#ff1700"/><polygon points="225.4,130.2 228.5,135.8 233.5,137.6 230.5,132" fill="#00ebba"/><polygon points="75.8,84 78.7,86.8 83.9,84.4 80.9,81.5" fill="#ff2200"/><polygon points="160,92.9 163.1,97.3 168.4,97.3 165.2,92.9" fill="#ffac00"/><polygon points="124.2,83.8 127.3,87.5 132.6,86.6 129.5,82.8" fill="#ff2900"/><polygon points="203.9,115.2 207,120.4 212.2,121.6 209.1,116.4" fill="#00eb09"/><polygon points="182,102.7 185.2,107.5 190.4,108.2 187.3,103.4" fill="#a5f600"/><polygon points="233.5,137.6 236.5,143.4 241.5,145.5 238.5,139.6" fill="#00b4f7"/><polygon points="110.7,82.9 113.7,86.4 119,85 115.9,81.5" fill="#ff1a00"/><polygon points="146.3,89.2 149.4,93.3 154.7,93 151.6,88.8" fill="#ff6a00"/><polygon points="212.2,121.6 215.2,127.1 220.4,128.5 217.3,123.1" fill="#00ec20"/><polygon points="168.4,97.3 171.5,101.9 176.8,102.2 173.6,97.6" fill="#fdd600"/><polygon points="97.2,83.1 100.2,86.3 105.4,84.5 102.4,81.2" fill="#ff1700"/><polygon points="190.4,108.2 193.5,113.2 198.7,114.1 195.6,109.1" fill="#31ef00"/><polygon points="241.5,145.5 244.5,151.5 249.4,153.7 246.5,147.7" fill="#003bff"/><polygon points="132.6,86.6 135.7,90.5 141,89.7 137.9,85.8" fill="#ff3c00"/><polygon points="83.9,84.4 86.8,87.4 92,85.1 89,82.1" fill="#ff1c00"/><polygon points="70.7,86.8 73.6,89.5 78.7,86.8 75.8,84" fill="#ff2d00"/><polygon points="220.4,128.5 223.4,134.1 228.5,135.8 225.4,130.2" fill="#00f083"/><polygon points="154.7,93 157.8,97.4 163.1,97.3 160,92.9" fill="#ff9600"/><polygon points="119,85 122,88.7 127.3,87.5 124.2,83.8" fill="#ff2500"/><polygon points="198.7,114.1 201.8,119.3 207,120.4 203.9,115.2" fill="#00eb03"/><polygon points="176.8,102.2 179.9,107 185.2,107.5 182,102.7" fill="#e3f900"/><polygon points="105.4,84.5 108.5,88 113.7,86.4 110.7,82.9" fill="#ff1b00"/><polygon points="141,89.7 144.1,93.9 149.4,93.3 146.3,89.2" fill="#ff5b00"/><polygon points="228.5,135.8 231.5,141.6 236.5,143.4 233.5,137.6" fill="#00e6ec"/><polygon points="92,85.1 95,88.3 100.2,86.3 97.2,83.1" fill="#ff1a00"/><polygon points="163.1,97.3 166.2,101.8 171.5,101.9 168.4,97.3" fill="#fec400"/><polygon points="207,120.4 210.1,125.7 215.2,127.1 212.2,121.6" fill="#00eb0f"/><polygon points="185.2,107.5 188.3,112.5 193.5,113.2 190.4,108.2" fill="#66f200"/><polygon points="78.7,86.8 81.7,89.8 86.8,87.4 83.9,84.4" fill="#ff2400"/><polygon points="127.3,87.5 130.4,91.4 135.7,90.5 132.6,86.6" fill="#ff3500"/><polygon points="236.5,143.4 239.5,149.4 244.5,151.5 241.5,145.5" fill="#0084ff"/><polygon points="149.4,93.3 152.5,97.7 157.8,97.4 154.7,93" fill="#ff8300"/><polygon points="113.7,86.4 116.8,90 122,88.7 119,85" fill="#ff2300"/><polygon points="215.2,127.1 218.3,132.6 223.4,134.1 220.4,128.5" fill="#00ee4f"/><polygon points="171.5,101.9 174.6,106.7 179.9,107 176.8,102.2" fill="#fbed00"/><polygon points="193.5,113.2 196.6,118.3 201.8,119.3 198.7,114.1" fill="#0eec00"/><polygon points="100.2,86.3 103.2,89.7 108.5,88 105.4,84.5" fill="#ff1c00"/><polygon points="135.7,90.5 138.8,94.6 144.1,93.9 141,89.7" fill="#ff4f00"/><polygon points="86.8,87.4 89.8,90.6 95,88.3 92,85.1" fill="#ff2000"/><polygon points="223.4,134.1 226.4,139.9 231.5,141.6 228.5,135.8" fill="#00ebb5"/><polygon points="157.8,97.4 160.9,101.9 166.2,101.8 163.1,97.3" fill="#ffb100"/><polygon points="73.6,89.5 76.5,92.5 81.7,89.8 78.7,86.8" fill="#ff2f00"/><polygon points="201.8,119.3 204.9,124.6 210.1,125.7 207,120.4" fill="#00eb09"/><polygon points="179.9,107 183,111.9 188.3,112.5 185.2,107.5" fill="#a1f600"/><polygon points="122,88.7 125.1,92.5 130.4,91.4 127.3,87.5" fill="#ff3100"/><polygon points="231.5,141.6 234.5,147.5 239.5,149.4 236.5,143.4" fill="#00baf7"/><polygon points="108.5,88 111.5,91.6 116.8,90 113.7,86.4" fill="#ff2300"/><polygon points="144.1,93.9 147.2,98.2 152.5,97.7 149.4,93.3" fill="#ff7200"/><polygon points="210.1,125.7 213.1,131.3 218.3,132.6 215.2,127.1" fill="#00eb1e"/><polygon points="166.2,101.8 169.3,106.5 174.6,106.7 171.5,101.9" fill="#fcda00"/><polygon points="188.3,112.5 191.4,117.6 196.6,118.3 193.5,113.2" fill="#30ef00"/><polygon points="95,88.3 98,91.7 103.2,89.7 100.2,86.3" fill="#ff2000"/><polygon points="130.4,91.4 133.5,95.5 138.8,94.6 135.7,90.5" fill="#ff4500"/><polygon points="81.7,89.8 84.6,93 89.8,90.6 86.8,87.4" fill="#ff2800"/><polygon points="218.3,132.6 221.3,138.3 226.4,139.9 223.4,134.1" fill="#00f080"/><polygon points="152.5,97.7 155.6,102.2 160.9,101.9 157.8,97.4" fill="#ff9d00"/><polygon points="116.8,90 119.8,93.9 125.1,92.5 122,88.7" fill="#ff2e00"/><polygon points="196.6,118.3 199.7,123.7 204.9,124.6 201.8,119.3" fill="#00eb04"/><polygon points="174.6,106.7 177.7,111.6 183,111.9 179.9,107" fill="#dbf800"/><polygon points="103.2,89.7 106.2,93.4 111.5,91.6 108.5,88" fill="#ff2500"/><polygon points="226.4,139.9 229.5,145.8 234.5,147.5 231.5,141.6" fill="#00e7e8"/><polygon points="138.8,94.6 141.9,98.8 147.2,98.2 144.1,93.9" fill="#ff6500"/><polygon points="89.8,90.6 92.8,94 98,91.7 95,88.3" fill="#ff2600"/><polygon points="204.9,124.6 208,130.1 213.1,131.3 210.1,125.7" fill="#00eb0f"/><polygon points="160.9,101.9 164,106.6 169.3,106.5 166.2,101.8" fill="#fec900"/><polygon points="183,111.9 186.1,117 191.4,117.6 188.3,112.5" fill="#60f200"/><polygon points="125.1,92.5 128.2,96.6 133.5,95.5 130.4,91.4" fill="#ff3e00"/><polygon points="76.5,92.5 79.4,95.7 84.6,93 81.7,89.8" fill="#ff3300"/><polygon points="147.2,98.2 150.3,102.6 155.6,102.2 152.5,97.7" fill="#ff8c00"/><polygon points="213.1,131.3 216.2,137 221.3,138.3 218.3,132.6" fill="#00ee4e"/><polygon points="111.5,91.6 114.5,95.4 119.8,93.9 116.8,90" fill="#ff2e00"/><polygon points="169.3,106.5 172.4,111.4 177.7,111.6 174.6,106.7" fill="#fbf200"/><polygon points="191.4,117.6 194.4,122.9 199.7,123.7 196.6,118.3" fill="#0bec00"/><polygon points="98,91.7 101,95.3 106.2,93.4 103.2,89.7" fill="#ff2800"/><polygon points="133.5,95.5 136.6,99.7 141.9,98.8 138.8,94.6" fill="#ff5b00"/><polygon points="221.3,138.3 224.3,144.2 229.5,145.8 226.4,139.9" fill="#00ecb3"/><polygon points="84.6,93 87.5,96.4 92.8,94 89.8,90.6" fill="#ff2e00"/><polygon points="155.6,102.2 158.7,106.8 164,106.6 160.9,101.9" fill="#ffba00"/><polygon points="199.7,123.7 202.8,129.1 208,130.1 204.9,124.6" fill="#00eb09"/><polygon points="177.7,111.6 180.8,116.7 186.1,117 183,111.9" fill="#95f500"/><polygon points="119.8,93.9 122.9,97.9 128.2,96.6 125.1,92.5" fill="#ff3b00"/><polygon points="141.9,98.8 145,103.3 150.3,102.6 147.2,98.2" fill="#ff7e00"/><polygon points="106.2,93.4 109.2,97.1 114.5,95.4 111.5,91.6" fill="#ff2f00"/><polygon points="208,130.1 211,135.8 216.2,137 213.1,131.3" fill="#00ec1f"/><polygon points="164,106.6 167.1,111.4 172.4,111.4 169.3,106.5" fill="#fce000"/><polygon points="186.1,117 189.2,122.3 194.4,122.9 191.4,117.6" fill="#2bef00"/><polygon points="92.8,94 95.7,97.5 101,95.3 98,91.7" fill="#ff2e00"/><polygon points="128.2,96.6 131.2,100.8 136.6,99.7 133.5,95.5" fill="#ff5300"/><polygon points="79.4,95.7 82.4,99 87.5,96.4 84.6,93" fill="#ff3800"/><polygon points="216.2,137 219.2,142.8 224.3,144.2 221.3,138.3" fill="#00f080"/><polygon points="150.3,102.6 153.4,107.3 158.7,106.8 155.6,102.2" fill="#ffa800"/><polygon points="194.4,122.9 197.5,128.3 202.8,129.1 199.7,123.7" fill="#00eb04"/><polygon points="114.5,95.4 117.6,99.4 122.9,97.9 119.8,93.9" fill="#ff3a00"/><polygon points="172.4,111.4 175.5,116.5 180.8,116.7 177.7,111.6" fill="#ccf800"/><polygon points="101,95.3 104,99.1 109.2,97.1 106.2,93.4" fill="#ff3200"/><polygon points="136.6,99.7 139.6,104.1 145,103.3 141.9,98.8" fill="#ff7300"/><polygon points="202.8,129.1 205.8,134.8 211,135.8 208,130.1" fill="#00eb10"/><polygon points="158.7,106.8 161.8,111.7 167.1,111.4 164,106.6" fill="#fdd100"/><polygon points="87.5,96.4 90.5,99.9 95.7,97.5 92.8,94" fill="#ff3600"/><polygon points="180.8,116.7 183.9,121.9 189.2,122.3 186.1,117" fill="#53f100"/><polygon points="122.9,97.9 125.9,102.1 131.2,100.8 128.2,96.6" fill="#ff4f00"/><polygon points="211,135.8 214,141.6 219.2,142.8 216.2,137" fill="#00ee51"/><polygon points="145,103.3 148,107.9 153.4,107.3 150.3,102.6" fill="#ff9a00"/><polygon points="109.2,97.1 112.3,101.1 117.6,99.4 114.5,95.4" fill="#ff3b00"/><polygon points="189.2,122.3 192.2,127.7 197.5,128.3 194.4,122.9" fill="#05eb00"/><polygon points="167.1,111.4 170.2,116.5 175.5,116.5 172.4,111.4" fill="#faf900"/><polygon points="95.7,97.5 98.7,101.3 104,99.1 101,95.3" fill="#ff3800"/><polygon points="131.2,100.8 134.3,105.2 139.6,104.1 136.6,99.7" fill="#ff6a00"/><polygon points="82.4,99 85.3,102.5 90.5,99.9 87.5,96.4" fill="#ff4000"/><polygon points="153.4,107.3 156.4,112.1 161.8,111.7 158.7,106.8" fill="#fec300"/><polygon points="197.5,128.3 200.6,133.9 205.8,134.8 202.8,129.1" fill="#00eb0a"/><polygon points="175.5,116.5 178.6,121.7 183.9,121.9 180.8,116.7" fill="#85f400"/><polygon points="117.6,99.4 120.6,103.6 125.9,102.1 122.9,97.9" fill="#ff4c00"/><polygon points="139.6,104.1 142.7,108.7 148,107.9 145,103.3" fill="#ff8e00"/><polygon points="104,99.1 107,103 112.3,101.1 109.2,97.1" fill="#ff3e00"/><polygon points="205.8,134.8 208.8,140.6 214,141.6 211,135.8" fill="#00ec24"/><polygon points="161.8,111.7 164.9,116.7 170.2,116.5 167.1,111.4" fill="#fbe900"/><polygon points="183.9,121.9 187,127.3 192.2,127.7 189.2,122.3" fill="#23ee00"/><polygon points="90.5,99.9 93.5,103.6 98.7,101.3 95.7,97.5" fill="#ff3f00"/><polygon points="125.9,102.1 129,106.4 134.3,105.2 131.2,100.8" fill="#ff6500"/><polygon points="148,107.9 151.1,112.7 156.4,112.1 153.4,107.3" fill="#ffb700"/><polygon points="192.2,127.7 195.3,133.3 200.6,133.9 197.5,128.3" fill="#00eb05"/><polygon points="170.2,116.5 173.3,121.6 178.6,121.7 175.5,116.5" fill="#b5f700"/><polygon points="112.3,101.1 115.3,105.3 120.6,103.6 117.6,99.4" fill="#ff4d00"/><polygon points="98.7,101.3 101.7,105.2 107,103 104,99.1" fill="#ff4500"/><polygon points="134.3,105.2 137.3,109.7 142.7,108.7 139.6,104.1" fill="#ff8500"/><polygon points="200.6,133.9 203.6,139.7 208.8,140.6 205.8,134.8" fill="#00eb11"/><polygon points="156.4,112.1 159.5,117 164.9,116.7 161.8,111.7" fill="#fcdb00"/><polygon points="178.6,121.7 181.6,127 187,127.3 183.9,121.9" fill="#40f000"/><polygon points="85.3,102.5 88.2,106.2 93.5,103.6 90.5,99.9" fill="#ff4c00"/><polygon points="120.6,103.6 123.6,107.9 129,106.4 125.9,102.1" fill="#ff6200"/><polygon points="142.7,108.7 145.7,113.5 151.1,112.7 148,107.9" fill="#ffab00"/><polygon points="107,103 110,107.2 115.3,105.3 112.3,101.1" fill="#ff5100"/><polygon points="187,127.3 190,132.8 195.3,133.3 192.2,127.7" fill="#00eb01"/><polygon points="164.9,116.7 167.9,121.8 173.3,121.6 170.2,116.5" fill="#e1f900"/><polygon points="93.5,103.6 96.4,107.5 101.7,105.2 98.7,101.3" fill="#ff4f00"/><polygon points="129,106.4 132,111 137.3,109.7 134.3,105.2" fill="#ff7e00"/><polygon points="195.3,133.3 198.3,139 203.6,139.7 200.6,133.9" fill="#00eb0c"/><polygon points="151.1,112.7 154.2,117.6 159.5,117 156.4,112.1" fill="#fdcf00"/><polygon points="173.3,121.6 176.3,127 181.6,127 178.6,121.7" fill="#6ef300"/><polygon points="115.3,105.3 118.3,109.6 123.6,107.9 120.6,103.6" fill="#ff6300"/><polygon points="137.3,109.7 140.4,114.5 145.7,113.5 142.7,108.7" fill="#ffa100"/><polygon points="101.7,105.2 104.7,109.3 110,107.2 107,103" fill="#ff5700"/><polygon points="159.5,117 162.6,122.2 167.9,121.8 164.9,116.7" fill="#faf500"/><polygon points="181.6,127 184.7,132.6 190,132.8 187,127.3" fill="#18ed00"/><polygon points="88.2,106.2 91.2,110.1 96.4,107.5 93.5,103.6" fill="#ff5b00"/><polygon points="123.6,107.9 126.6,112.4 132,111 129,106.4" fill="#ff7b00"/><polygon points="145.7,113.5 148.8,118.4 154.2,117.6 151.1,112.7" fill="#fec600"/><polygon points="190,132.8 193,138.5 198.3,139 195.3,133.3" fill="#00eb07"/><polygon points="167.9,121.8 171,127.1 176.3,127 173.3,121.6" fill="#97f500"/><polygon points="110,107.2 113,111.5 118.3,109.6 115.3,105.3" fill="#ff6600"/><polygon points="132,111 135,115.7 140.4,114.5 137.3,109.7" fill="#ff9a00"/><polygon points="96.4,107.5 99.4,111.6 104.7,109.3 101.7,105.2" fill="#ff6000"/><polygon points="154.2,117.6 157.2,122.7 162.6,122.2 159.5,117" fill="#fbe900"/><polygon points="176.3,127 179.4,132.5 184.7,132.6 181.6,127" fill="#31ef00"/><polygon points="118.3,109.6 121.3,114.1 126.6,112.4 123.6,107.9" fill="#ff7b00"/><polygon points="140.4,114.5 143.4,119.4 148.8,118.4 145.7,113.5" fill="#ffbe00"/><polygon points="184.7,132.6 187.7,138.2 193,138.5 190,132.8" fill="#00eb03"/><polygon points="104.7,109.3 107.6,113.6 113,111.5 110,107.2" fill="#ff6b00"/><polygon points="162.6,122.2 165.6,127.5 171,127.1 167.9,121.8" fill="#bff700"/><polygon points="91.2,110.1 94.1,114.2 99.4,111.6 96.4,107.5" fill="#ff6c00"/><polygon points="126.6,112.4 129.7,117.1 135,115.7 132,111" fill="#ff9600"/><polygon points="148.8,118.4 151.8,123.5 157.2,122.7 154.2,117.6" fill="#fcde00"/><polygon points="171,127.1 174,132.6 179.4,132.5 176.3,127" fill="#51f100"/><polygon points="113,111.5 116,115.9 121.3,114.1 118.3,109.6" fill="#ff7d00"/><polygon points="135,115.7 138,120.6 143.4,119.4 140.4,114.5" fill="#ffb800"/><polygon points="99.4,111.6 102.3,115.9 107.6,113.6 104.7,109.3" fill="#ff7400"/><polygon points="179.4,132.5 182.4,138.1 187.7,138.2 184.7,132.6" fill="#09ec00"/><polygon points="157.2,122.7 160.2,128 165.6,127.5 162.6,122.2" fill="#e1f900"/><polygon points="121.3,114.1 124.3,118.7 129.7,117.1 126.6,112.4" fill="#ff9500"/><polygon points="143.4,119.4 146.4,124.4 151.8,123.5 148.8,118.4" fill="#fdd600"/><polygon points="165.6,127.5 168.6,132.9 174,132.6 171,127.1" fill="#76f300"/><polygon points="107.6,113.6 110.6,118 116,115.9 113,111.5" fill="#ff8200"/><polygon points="129.7,117.1 132.7,122 138,120.6 135,115.7" fill="#ffb400"/><polygon points="94.1,114.2 97,118.4 102.3,115.9 99.4,111.6" fill="#ff8000"/><polygon points="151.8,123.5 154.9,128.7 160.2,128 157.2,122.7" fill="#faf800"/><polygon points="174,132.6 177,138.2 182.4,138.1 179.4,132.5" fill="#20ee00"/><polygon points="116,115.9 118.9,120.6 124.3,118.7 121.3,114.1" fill="#ff9700"/><polygon points="138,120.6 141.1,125.6 146.4,124.4 143.4,119.4" fill="#fdd000"/><polygon points="160.2,128 163.3,133.4 168.6,132.9 165.6,127.5" fill="#96f500"/><polygon points="102.3,115.9 105.3,120.3 110.6,118 107.6,113.6" fill="#ff8b00"/><polygon points="124.3,118.7 127.3,123.6 132.7,122 129.7,117.1" fill="#ffb200"/><polygon points="146.4,124.4 149.5,129.6 154.9,128.7 151.8,123.5" fill="#fbf000"/><polygon points="168.6,132.9 171.7,138.5 177,138.2 174,132.6" fill="#34ef00"/><polygon points="110.6,118 113.6,122.6 118.9,120.6 116,115.9" fill="#ff9c00"/><polygon points="132.7,122 135.7,127 141.1,125.6 138,120.6" fill="#fecc00"/><polygon points="97,118.4 100,122.8 105.3,120.3 102.3,115.9" fill="#ff9600"/><polygon points="154.9,128.7 157.9,134.1 163.3,133.4 160.2,128" fill="#b4f600"/><polygon points="118.9,120.6 121.9,125.4 127.3,123.6 124.3,118.7" fill="#ffb300"/><polygon points="141.1,125.6 144.1,130.8 149.5,129.6 146.4,124.4" fill="#fbea00"/><polygon points="163.3,133.4 166.3,139 171.7,138.5 168.6,132.9" fill="#4ff100"/><polygon points="105.3,120.3 108.3,124.9 113.6,122.6 110.6,118" fill="#ffa400"/><polygon points="127.3,123.6 130.3,128.5 135.7,127 132.7,122" fill="#fecb00"/><polygon points="149.5,129.6 152.5,135 157.9,134.1 154.9,128.7" fill="#ccf800"/><polygon points="113.6,122.6 116.6,127.4 121.9,125.4 118.9,120.6" fill="#ffb800"/><polygon points="135.7,127 138.7,132.1 144.1,130.8 141.1,125.6" fill="#fce500"/><polygon points="157.9,134.1 160.9,139.7 166.3,139 163.3,133.4" fill="#6bf300"/><polygon points="100,122.8 102.9,127.4 108.3,124.9 105.3,120.3" fill="#ffae00"/><polygon points="121.9,125.4 124.9,130.3 130.3,128.5 127.3,123.6" fill="#fecb00"/><polygon points="144.1,130.8 147.1,136.1 152.5,135 149.5,129.6" fill="#def900"/><polygon points="108.3,124.9 111.2,129.6 116.6,127.4 113.6,122.6" fill="#ffbd00"/><polygon points="130.3,128.5 133.3,133.7 138.7,132.1 135.7,127" fill="#fce300"/><polygon points="152.5,135 155.5,140.5 160.9,139.7 157.9,134.1" fill="#82f400"/><polygon points="116.6,127.4 119.5,132.3 124.9,130.3 121.9,125.4" fill="#fdce00"/><polygon points="138.7,132.1 141.7,137.5 147.1,136.1 144.1,130.8" fill="#ebf900"/><polygon points="102.9,127.4 105.9,132.1 111.2,129.6 108.3,124.9" fill="#fec500"/><polygon points="124.9,130.3 127.9,135.5 133.3,133.7 130.3,128.5" fill="#fce300"/><polygon points="147.1,136.1 150.1,141.6 155.5,140.5 152.5,135" fill="#93f500"/><polygon points="111.2,129.6 114.2,134.6 119.5,132.3 116.6,127.4" fill="#fdd300"/><polygon points="133.3,133.7 136.3,139 141.7,137.5 138.7,132.1" fill="#f2fa00"/><polygon points="119.5,132.3 122.5,137.5 127.9,135.5 124.9,130.3" fill="#fce500"/><polygon points="141.7,137.5 144.7,142.9 150.1,141.6 147.1,136.1" fill="#a1f600"/><polygon points="105.9,132.1 108.8,137 114.2,134.6 111.2,129.6" fill="#fcda00"/><polygon points="127.9,135.5 130.9,140.7 136.3,139 133.3,133.7" fill="#f3fa00"/><polygon points="114.2,134.6 117.1,139.7 122.5,137.5 119.5,132.3" fill="#fbea00"/><polygon points="136.3,139 139.2,144.5 144.7,142.9 141.7,137.5" fill="#a9f600"/><polygon points="122.5,137.5 125.5,142.7 130.9,140.7 127.9,135.5" fill="#eff900"/><polygon points="108.8,137 111.8,142.1 117.1,139.7 114.2,134.6" fill="#fbf000"/><polygon points="130.9,140.7 133.8,146.2 139.2,144.5 136.3,139" fill="#abf600"/><polygon points="117.1,139.7 120.1,144.9 125.5,142.7 122.5,137.5" fill="#e4f900"/><polygon points="125.5,142.7 128.4,148.1 133.8,146.2 130.9,140.7" fill="#a8f600"/><polygon points="111.8,142.1 114.7,147.3 120.1,144.9 117.1,139.7" fill="#d4f800"/><polygon points="120.1,144.9 123,150.3 128.4,148.1 125.5,142.7" fill="#9ef500"/><polygon points="114.7,147.3 117.6,152.7 123,150.3 120.1,144.9" fill="#90f500"/></g><circle cx="45" cy="70.7" r="2" fill="#b00000" stroke="#600" stroke-width="0.4"/><circle cx="118" cy="152.3" r="2" fill="#b00000" stroke="#600" stroke-width="0.4"/><circle cx="249.3" cy="155.8" r="2" fill="#ffd0d0" stroke="#600" stroke-width="0.4"/><circle cx="146.4" cy="76.3" r="2" fill="#b00000" stroke="#600" stroke-width="0.4"/></g><g><path d="M334.4 135.3L462.5 103.4L538 170.3M333.2 118.4L462.9 87.5L539.3 152.6M332 101.5L463.2 71.5L540.6 134.9M330.8 84.5L463.6 55.5L542 117.2M329.6 67.6L464 39.5L543.3 99.4M328.4 50.7L464.3 23.6L544.7 81.7M327.2 33.8L464.7 7.6L546 64M336.6 166.6L327.2 33.8M360 128.9L354.7 28.6M385.6 122.6L382.2 23.3M411.2 116.2L409.7 18.1M436.9 109.8L437.2 12.8M461.8 133L464.7 7.6M481.4 120.2L485 21.7M500.2 136.9L505.4 35.8M519.1 153.6L525.7 49.9M535.5 203.1L546 64" fill="none" stroke="#3a3a3a" stroke-width="0.75"/><circle cx="334.4" cy="135.3" r="0.9" fill="#000"/><text x="331.6" y="134.3" text-anchor="end" class="tk">0</text><circle cx="333.2" cy="118.4" r="0.9" fill="#000"/><text x="330.4" y="117.4" text-anchor="end" class="tk">20</text><circle cx="332" cy="101.5" r="0.9" fill="#000"/><text x="329.2" y="100.5" text-anchor="end" class="tk">40</text><circle cx="330.8" cy="84.5" r="0.9" fill="#000"/><text x="328" y="83.5" text-anchor="end" class="tk">60</text><circle cx="329.6" cy="67.6" r="0.9" fill="#000"/><text x="326.8" y="66.6" text-anchor="end" class="tk">80</text><circle cx="328.4" cy="50.7" r="0.9" fill="#000"/><text x="325.6" y="49.7" text-anchor="end" class="tk">100</text><circle cx="327.2" cy="33.8" r="0.9" fill="#000"/><text x="324.4" y="32.8" text-anchor="end" class="tk">120</text><polygon points="336.6,166.6 395.5,246.4 535.5,203.1 461.8,133" fill="#656565" stroke="#222" stroke-width="0.6"/><polyline points="465.6,224.7 467,223.9 468.4,223 469.8,222.2 469.9,222.2 471.4,221.3 472.8,220.5 474.3,219.7 474.3,219.6 475.8,218.8 477.3,218 478.8,217.2 479.3,216.9 480.3,216.4 481.8,215.6 483.3,214.8 484.8,214 484.8,214 486.3,213.3 487.9,212.5 489.4,211.8 490.9,211 491,211 492.5,210.3 494,209.5 495.6,208.8 497.1,208.1 498.4,207.5 498.7,207.4 500.3,206.7 501.8,206 503.4,205.3 505,204.6 506.6,204 507.7,203.5 508.2,203.3 509.8,202.6 511.4,202 513,201.3 514.7,200.7 516.3,200.1 517.9,199.5 519.6,198.9 521.2,198.2 522.2,197.9 522.9,197.6 524.6,197.1 526.2,196.5 527.9,195.9" fill="none" stroke="#00b450" stroke-width="1.5"/><polyline points="428.5,236.2 428.7,236 430,235 431,234.2 431.4,233.9 432.7,232.9 433.6,232.2 434,231.9 435.4,230.8 436.3,230.2 436.7,229.8 438.1,228.8 439,228.1 439.4,227.8 440.8,226.8 441.9,226 442.2,225.8 443.5,224.9 444.8,223.9 444.9,223.9 446.3,222.9 447.6,222 447.9,221.8 449,221 450.4,220.1 451.1,219.6 451.8,219.2 453.2,218.3 454.5,217.4 454.6,217.4 456,216.5 457.4,215.6 458.1,215.1 458.8,214.7 460.2,213.8 461.6,213 462,212.7 463.1,212.1 464.5,211.2 465.9,210.4 466.1,210.3 467.4,209.6 468.8,208.8 470.3,208 470.7,207.7 471.7,207.2 473.2,206.4 474.7,205.6 475.7,205 476.2,204.8 477.6,204 479.1,203.3 480.6,202.5 481.5,202.1 482.1,201.8 483.7,201.1 485.2,200.3 486.7,199.6 488.2,198.9 488.4,198.9 489.8,198.2 491.3,197.5 492.9,196.9 494.4,196.2 496,195.5 497.3,195 497.6,194.9 499.2,194.2 500.7,193.6 502.3,193 504,192.4 505.6,191.7 507.2,191.1 508.8,190.6 510.4,190 512.1,189.4 512.3,189.3 513.7,188.8 515.4,188.3 517.1,187.7 518.7,187.2" fill="none" stroke="#6ac650" stroke-width="1.5"/><polyline points="402.4,244.3 402.5,244.2 403.7,243 404.3,242.5 405,241.8 406.1,240.7 406.2,240.6 407.5,239.4 408,238.9 408.7,238.2 410,237.1 410,237.1 411.2,235.9 411.9,235.2 412.5,234.7 413.7,233.6 413.9,233.4 415,232.4 415.9,231.6 416.2,231.3 417.5,230.2 417.9,229.8 418.7,229 420,227.9 420,227.9 421.3,226.8 422.2,226.1 422.5,225.7 423.8,224.6 424.3,224.2 425.1,223.6 426.3,222.5 426.5,222.3 427.6,221.4 428.8,220.4 428.9,220.4 430.2,219.3 431.2,218.5 431.5,218.3 432.8,217.2 433.6,216.6 434,216.2 435.3,215.2 436.1,214.6 436.6,214.2 437.9,213.2 438.7,212.7 439.3,212.2 440.6,211.2 441.4,210.7 441.9,210.3 443.2,209.3 444.2,208.6 444.5,208.4 445.9,207.4 447.2,206.5 447.2,206.5 448.6,205.6 449.9,204.7 450.4,204.4 451.3,203.8 452.6,202.9 453.8,202.2 454,202.1 455.4,201.2 456.8,200.3 457.5,199.9 458.2,199.5 459.6,198.7 461,197.8 461.6,197.5 462.4,197 463.8,196.2 465.2,195.5 466.1,195 466.7,194.7 468.1,193.9 469.6,193.2 471,192.4 471.4,192.2 472.5,191.7 474,191 475.5,190.3 477,189.6 477.9,189.1 478.5,188.9 480,188.2 481.5,187.5 483.1,186.9 484.6,186.2 486.2,185.6 486.8,185.4 487.7,185 489.3,184.4 490.9,183.8 492.5,183.2 494.1,182.6 495.7,182 497.3,181.4 498.9,180.9 500.5,180.3 502.2,179.8 503.8,179.3 505.5,178.8 507.2,178.3 508.9,177.8" fill="none" stroke="#d2d150" stroke-width="1.5"/><polyline points="390.4,239.4 390.4,239.4 391.5,238.1 391.8,237.7 392.7,236.8 393.3,236.1 393.8,235.5 394.8,234.4 395,234.2 396.1,232.9 396.3,232.7 397.3,231.6 397.8,231.1 398.4,230.4 399.3,229.4 399.5,229.1 400.7,227.8 400.8,227.7 401.8,226.5 402.3,226 403,225.3 403.8,224.4 404.1,224 405.3,222.8 405.4,222.7 406.4,221.6 406.9,221 407.5,220.3 408.5,219.4 408.7,219.1 409.8,217.9 410,217.7 411,216.7 411.6,216 412.1,215.5 413.2,214.3 413.3,214.3 414.4,213.1 414.9,212.6 415.6,211.9 416.5,210.9 416.7,210.7 417.9,209.6 418.2,209.2 419,208.4 419.9,207.5 420.2,207.3 421.3,206.1 421.7,205.8 422.5,205 423.5,204.1 423.7,203.9 424.8,202.8 425.3,202.3 426,201.7 427.2,200.6 427.2,200.6 428.4,199.5 429.2,198.8 429.6,198.5 430.8,197.4 431.2,197.1 432,196.4 433.2,195.4 433.3,195.3 434.4,194.3 435.5,193.4 435.6,193.3 436.8,192.4 437.9,191.6 438.1,191.4 439.3,190.4 440.4,189.7 440.6,189.5 441.9,188.5 443,187.7 443.1,187.6 444.4,186.7 445.7,185.8 446,185.7 447,185 448.3,184.1 449.2,183.5 449.7,183.3 451,182.4 452.4,181.6 453,181.3 453.7,180.9 455.1,180.1 456.5,179.3 457.4,178.8 457.9,178.6 459.3,177.9 460.8,177.1 462.2,176.5 463.3,176 463.7,175.8 465.2,175.1 466.7,174.5 468.2,173.9 469.7,173.3 471.2,172.7 472.8,172.1 473,172 474.4,171.5 475.9,171 477.5,170.5 479.1,169.9 480.8,169.4 482.4,168.9 484,168.5 485.7,168 487.4,167.6 489.1,167.1 490.8,166.7 492.5,166.3 494.2,165.9 494.6,165.8 496,165.5" fill="none" stroke="#db8544" stroke-width="1.5"/><polyline points="380.9,226.6 381,226.4 381.8,225.1 381.9,224.9 382.8,223.5 382.9,223.4 383.7,222 383.8,221.9 384.7,220.5 384.7,220.4 385.6,219 385.6,218.9 386.5,217.5 386.5,217.5 387.4,216 387.4,215.9 388.2,214.5 388.3,214.4 389,213.1 389.2,212.8 389.9,211.6 390,211.3 390.6,210.2 390.9,209.7 391.4,208.8 391.7,208.2 392.2,207.3 392.5,206.6 392.9,205.9 393.4,205 393.6,204.5 394.1,203.4 394.3,203.1 394.9,201.7 394.9,201.7 395.5,200.3 395.6,200.1 396.1,199 396.3,198.4 396.7,197.6 397,196.7 397.2,196.3 397.7,195 397.7,194.9 398.1,193.6 398.2,193.2 398.5,192.3 398.8,191.3 398.9,191 399.2,189.7 399.2,189.4 399.4,188.5 399.6,187.4 399.6,187.2 399.7,186 399.8,185.2 399.8,184.8 399.8,183.6 399.7,182.6 399.7,182.5 399.5,181.3 399.2,180.2 398.9,179.3 398.9,179.2 398.4,178.1 397.8,177.1 397.1,176.1 396.2,175.2 395.2,174.3 394.1,173.4 394,173.4 392.8,172.6 391.3,171.8 390.4,171.5 389.6,171.1 387.8,170.4 387.5,170.4 385.8,169.8 384.9,169.6 383.6,169.2 382.5,169 381.3,168.7 380.1,168.5 378.7,168.2 377.9,168.1 376,167.8 375.6,167.8 373.5,167.5 373,167.4 371.3,167.2 370,167.1 369.2,167 367.2,166.8 366.7,166.8 365.1,166.7 363.3,166.5 363.1,166.5 361.1,166.4 359.7,166.3 359.1,166.3 357.1,166.2 356,166.1 355.1,166.1 353.1,166 352.2,166 351.2,166 349.3,165.9 348.2,165.9 347.3,165.8 345.4,165.8 344.1,165.8 343.5,165.8 341.6,165.7 339.9,165.7" fill="none" stroke="#d23f33" stroke-width="1.5"/><circle cx="336.6" cy="166.6" r="0.9" fill="#000"/><text x="332.7" y="172.5" text-anchor="end" class="tk">2</text><circle cx="351.3" cy="186.5" r="0.9" fill="#000"/><text x="347.4" y="192.4" text-anchor="end" class="tk">2.5</text><circle cx="366.1" cy="206.5" r="0.9" fill="#000"/><text x="362.2" y="212.4" text-anchor="end" class="tk">3</text><circle cx="380.8" cy="226.5" r="0.9" fill="#000"/><text x="376.9" y="232.4" text-anchor="end" class="tk">3.5</text><circle cx="395.5" cy="246.4" r="0.9" fill="#000"/><text x="391.6" y="252.3" text-anchor="end" class="tk">4</text><circle cx="395.5" cy="246.4" r="0.9" fill="#000"/><text x="401.7" y="252.3" text-anchor="middle" class="tk">25</text><circle cx="423.5" cy="237.7" r="0.9" fill="#000"/><text x="429.7" y="243.6" text-anchor="middle" class="tk">27</text><circle cx="451.5" cy="229.1" r="0.9" fill="#000"/><text x="457.7" y="235" text-anchor="middle" class="tk">29</text><circle cx="479.5" cy="220.4" r="0.9" fill="#000"/><text x="485.7" y="226.3" text-anchor="middle" class="tk">31</text><circle cx="507.5" cy="211.8" r="0.9" fill="#000"/><text x="513.7" y="217.7" text-anchor="middle" class="tk">33</text><circle cx="535.5" cy="203.1" r="0.9" fill="#000"/><text x="541.7" y="209" text-anchor="middle" class="tk">35</text><text transform="translate(339 217.4) rotate(53.6)" text-anchor="middle" class="at">pH</text><text transform="translate(479.5 245.9) rotate(-17.2)" text-anchor="middle" class="at">Temperature (°C)</text><text transform="translate(309.2 97.5) rotate(-90)" text-anchor="middle" class="zt">Dye adsorption (%)</text><text x="290" y="17.5" class="pl">B)</text><g stroke="#1a1a00" stroke-opacity="0.8" stroke-width="0.45" stroke-linejoin="round"><polygon points="457.4,33 461.4,35.4 468.2,33.3 464.2,30.8" fill="#ff1e00"/><polygon points="450.6,35 454.5,37.4 461.4,35.4 457.4,33" fill="#ff2500"/><polygon points="443.9,37 447.7,39.3 454.5,37.4 450.6,35" fill="#ff2b00"/><polygon points="461.4,35.4 465.3,38.2 472.2,36.1 468.2,33.3" fill="#ff1b00"/><polygon points="437.1,38.8 441,41.1 447.7,39.3 443.9,37" fill="#ff3000"/><polygon points="454.5,37.4 458.5,40.1 465.3,38.2 461.4,35.4" fill="#ff2100"/><polygon points="430.4,40.6 434.2,42.8 441,41.1 437.1,38.8" fill="#ff3500"/><polygon points="447.7,39.3 451.6,42 458.5,40.1 454.5,37.4" fill="#ff2600"/><polygon points="465.3,38.2 469.3,41.2 476.2,39.2 472.2,36.1" fill="#ff1b00"/><polygon points="423.6,42.3 427.4,44.5 434.2,42.8 430.4,40.6" fill="#ff3800"/><polygon points="441,41.1 444.8,43.7 451.6,42 447.7,39.3" fill="#ff2b00"/><polygon points="458.5,40.1 462.4,43.1 469.3,41.2 465.3,38.2" fill="#ff2000"/><polygon points="416.9,43.8 420.6,46 427.4,44.5 423.6,42.3" fill="#ff3a00"/><polygon points="434.2,42.8 438,45.4 444.8,43.7 441,41.1" fill="#ff2e00"/><polygon points="451.6,42 455.5,44.9 462.4,43.1 458.5,40.1" fill="#ff2400"/><polygon points="469.3,41.2 473.2,44.5 480.1,42.6 476.2,39.2" fill="#ff1d00"/><polygon points="410.1,45.3 413.8,47.4 420.6,46 416.9,43.8" fill="#ff3b00"/><polygon points="427.4,44.5 431.1,47 438,45.4 434.2,42.8" fill="#ff3000"/><polygon points="444.8,43.7 448.6,46.6 455.5,44.9 451.6,42" fill="#ff2800"/><polygon points="462.4,43.1 466.3,46.4 473.2,44.5 469.3,41.2" fill="#ff2100"/><polygon points="403.4,46.7 407,48.8 413.8,47.4 410.1,45.3" fill="#ff3b00"/><polygon points="420.6,46 424.3,48.4 431.1,47 427.4,44.5" fill="#ff3100"/><polygon points="438,45.4 441.8,48.3 448.6,46.6 444.8,43.7" fill="#ff2a00"/><polygon points="473.2,44.5 477.2,48.1 484.1,46.2 480.1,42.6" fill="#ff2200"/><polygon points="455.5,44.9 459.4,48.2 466.3,46.4 462.4,43.1" fill="#ff2500"/><polygon points="396.6,48 400.2,50 407,48.8 403.4,46.7" fill="#ff3a00"/><polygon points="413.8,47.4 417.5,49.8 424.3,48.4 420.6,46" fill="#ff3200"/><polygon points="431.1,47 434.9,49.8 441.8,48.3 438,45.4" fill="#ff2c00"/><polygon points="448.6,46.6 452.5,49.8 459.4,48.2 455.5,44.9" fill="#ff2800"/><polygon points="466.3,46.4 470.2,49.9 477.2,48.1 473.2,44.5" fill="#ff2600"/><polygon points="389.9,49.2 393.4,51.1 400.2,50 396.6,48" fill="#ff3800"/><polygon points="407,48.8 410.6,51.1 417.5,49.8 413.8,47.4" fill="#ff3100"/><polygon points="424.3,48.4 428,51.2 434.9,49.8 431.1,47" fill="#ff2c00"/><polygon points="477.2,48.1 481.1,52 488.1,50.1 484.1,46.2" fill="#ff2a00"/><polygon points="441.8,48.3 445.6,51.4 452.5,49.8 448.6,46.6" fill="#ff2900"/><polygon points="459.4,48.2 463.2,51.7 470.2,49.9 466.3,46.4" fill="#ff2900"/><polygon points="383.1,50.3 386.6,52.2 393.4,51.1 389.9,49.2" fill="#ff3500"/><polygon points="400.2,50 403.8,52.3 410.6,51.1 407,48.8" fill="#ff2f00"/><polygon points="417.5,49.8 421.2,52.5 428,51.2 424.3,48.4" fill="#ff2b00"/><polygon points="434.9,49.8 438.7,52.9 445.6,51.4 441.8,48.3" fill="#ff2a00"/><polygon points="470.2,49.9 474.1,53.8 481.1,52 477.2,48.1" fill="#ff2d00"/><polygon points="452.5,49.8 456.3,53.3 463.2,51.7 459.4,48.2" fill="#ff2b00"/><polygon points="376.4,51.3 379.8,53.1 386.6,52.2 383.1,50.3" fill="#ff3100"/><polygon points="393.4,51.1 397,53.3 403.8,52.3 400.2,50" fill="#ff2c00"/><polygon points="410.6,51.1 414.3,53.7 421.2,52.5 417.5,49.8" fill="#ff2a00"/><polygon points="481.1,52 485,56.1 492,54.3 488.1,50.1" fill="#ff3500"/><polygon points="428,51.2 431.7,54.2 438.7,52.9 434.9,49.8" fill="#ff2a00"/><polygon points="463.2,51.7 467.1,55.5 474.1,53.8 470.2,49.9" fill="#ff3000"/><polygon points="445.6,51.4 449.4,54.8 456.3,53.3 452.5,49.8" fill="#ff2c00"/><polygon points="369.6,52.2 373,53.9 379.8,53.1 376.4,51.3" fill="#ff2d00"/><polygon points="386.6,52.2 390.1,54.3 397,53.3 393.4,51.1" fill="#ff2800"/><polygon points="403.8,52.3 407.4,54.8 414.3,53.7 410.6,51.1" fill="#ff2700"/><polygon points="421.2,52.5 424.8,55.5 431.7,54.2 428,51.2" fill="#ff2800"/><polygon points="474.1,53.8 478,57.9 485,56.1 481.1,52" fill="#ff3800"/><polygon points="438.7,52.9 442.4,56.2 449.4,54.8 445.6,51.4" fill="#ff2c00"/><polygon points="456.3,53.3 460.1,57.1 467.1,55.5 463.2,51.7" fill="#ff3100"/><polygon points="362.8,53.1 366.2,54.7 373,53.9 369.6,52.2" fill="#ff2700"/><polygon points="379.8,53.1 383.3,55.2 390.1,54.3 386.6,52.2" fill="#ff2400"/><polygon points="397,53.3 400.5,55.8 407.4,54.8 403.8,52.3" fill="#ff2300"/><polygon points="485,56.1 488.9,60.6 495.9,58.7 492,54.3" fill="#ff4400"/><polygon points="414.3,53.7 417.9,56.6 424.8,55.5 421.2,52.5" fill="#ff2600"/><polygon points="467.1,55.5 470.9,59.5 478,57.9 474.1,53.8" fill="#ff3900"/><polygon points="431.7,54.2 435.5,57.6 442.4,56.2 438.7,52.9" fill="#ff2a00"/><polygon points="449.4,54.8 453.1,58.5 460.1,57.1 456.3,53.3" fill="#ff3100"/><polygon points="356,53.8 359.3,55.3 366.2,54.7 362.8,53.1" fill="#ff2000"/><polygon points="373,53.9 376.4,56 383.3,55.2 379.8,53.1" fill="#ff1e00"/><polygon points="390.1,54.3 393.6,56.8 400.5,55.8 397,53.3" fill="#ff1f00"/><polygon points="407.4,54.8 411,57.7 417.9,56.6 414.3,53.7" fill="#ff2200"/><polygon points="478,57.9 481.8,62.3 488.9,60.6 485,56.1" fill="#ff4700"/><polygon points="424.8,55.5 428.5,58.8 435.5,57.6 431.7,54.2" fill="#ff2800"/><polygon points="460.1,57.1 463.9,61.1 470.9,59.5 467.1,55.5" fill="#ff3a00"/><polygon points="442.4,56.2 446.2,59.9 453.1,58.5 449.4,54.8" fill="#ff3000"/><polygon points="349.2,54.4 352.5,55.9 359.3,55.3 356,53.8" fill="#ff1a00"/><polygon points="366.2,54.7 369.5,56.6 376.4,56 373,53.9" fill="#ff1900"/><polygon points="383.3,55.2 386.7,57.6 393.6,56.8 390.1,54.3" fill="#ff1a00"/><polygon points="488.9,60.6 492.7,65.3 499.8,63.5 495.9,58.7" fill="#ff5b00"/><polygon points="400.5,55.8 404.1,58.7 411,57.7 407.4,54.8" fill="#ff1e00"/><polygon points="470.9,59.5 474.8,63.9 481.8,62.3 478,57.9" fill="#ff4800"/><polygon points="417.9,56.6 421.6,59.9 428.5,58.8 424.8,55.5" fill="#ff2500"/><polygon points="453.1,58.5 456.9,62.5 463.9,61.1 460.1,57.1" fill="#ff3900"/><polygon points="435.5,57.6 439.2,61.2 446.2,59.9 442.4,56.2" fill="#ff2e00"/><polygon points="342.4,54.9 345.6,56.3 352.5,55.9 349.2,54.4" fill="#ff1400"/><polygon points="359.3,55.3 362.6,57.2 369.5,56.6 366.2,54.7" fill="#ff1400"/><polygon points="376.4,56 379.8,58.3 386.7,57.6 383.3,55.2" fill="#ff1600"/><polygon points="393.6,56.8 397.2,59.5 404.1,58.7 400.5,55.8" fill="#ff1a00"/><polygon points="481.8,62.3 485.7,67 492.7,65.3 488.9,60.6" fill="#ff5d00"/><polygon points="411,57.7 414.6,60.9 421.6,59.9 417.9,56.6" fill="#ff2100"/><polygon points="463.9,61.1 467.7,65.4 474.8,63.9 470.9,59.5" fill="#ff4800"/><polygon points="428.5,58.8 432.2,62.4 439.2,61.2 435.5,57.6" fill="#ff2b00"/><polygon points="446.2,59.9 449.9,63.9 456.9,62.5 453.1,58.5" fill="#ff3800"/><polygon points="335.6,55.3 338.7,56.6 345.6,56.3 342.4,54.9" fill="#ff0d00"/><polygon points="352.5,55.9 355.7,57.7 362.6,57.2 359.3,55.3" fill="#ff0e00"/><polygon points="369.5,56.6 372.9,58.9 379.8,58.3 376.4,56" fill="#ff1000"/><polygon points="492.7,65.3 496.6,70.3 503.7,68.5 499.8,63.5" fill="#ff7600"/><polygon points="386.7,57.6 390.2,60.3 397.2,59.5 393.6,56.8" fill="#ff1500"/><polygon points="474.8,63.9 478.6,68.6 485.7,67 481.8,62.3" fill="#ff5e00"/><polygon points="404.1,58.7 407.7,61.8 414.6,60.9 411,57.7" fill="#ff1c00"/><polygon points="456.9,62.5 460.7,66.8 467.7,65.4 463.9,61.1" fill="#ff4700"/><polygon points="421.6,59.9 425.2,63.4 432.2,62.4 428.5,58.8" fill="#ff2700"/><polygon points="439.2,61.2 442.9,65.1 449.9,63.9 446.2,59.9" fill="#ff3500"/><polygon points="328.7,55.6 331.8,56.9 338.7,56.6 335.6,55.3" fill="#ff0600"/><polygon points="345.6,56.3 348.8,58 355.7,57.7 352.5,55.9" fill="#ff0700"/><polygon points="362.6,57.2 366,59.4 372.9,58.9 369.5,56.6" fill="#ff0b00"/><polygon points="379.8,58.3 383.3,60.9 390.2,60.3 386.7,57.6" fill="#ff1000"/><polygon points="485.7,67 489.5,71.9 496.6,70.3 492.7,65.3" fill="#ff7700"/><polygon points="397.2,59.5 400.7,62.6 407.7,61.8 404.1,58.7" fill="#ff1700"/><polygon points="467.7,65.4 471.5,70 478.6,68.6 474.8,63.9" fill="#ff5d00"/><polygon points="414.6,60.9 418.2,64.4 425.2,63.4 421.6,59.9" fill="#ff2200"/><polygon points="449.9,63.9 453.7,68.1 460.7,66.8 456.9,62.5" fill="#ff4300"/><polygon points="432.2,62.4 435.9,66.2 442.9,65.1 439.2,61.2" fill="#ff3100"/><polygon points="338.7,56.6 341.9,58.3 348.8,58 345.6,56.3" fill="#ff0500"/><polygon points="355.7,57.7 359,59.8 366,59.4 362.6,57.2" fill="#ff0500"/><polygon points="496.6,70.3 500.4,75.5 507.5,73.8 503.7,68.5" fill="#ff9600"/><polygon points="372.9,58.9 376.3,61.5 383.3,60.9 379.8,58.3" fill="#ff0a00"/><polygon points="478.6,68.6 482.4,73.5 489.5,71.9 485.7,67" fill="#ff7700"/><polygon points="390.2,60.3 393.7,63.3 400.7,62.6 397.2,59.5" fill="#ff1200"/><polygon points="460.7,66.8 464.5,71.4 471.5,70 467.7,65.4" fill="#ff5a00"/><polygon points="407.7,61.8 411.2,65.2 418.2,64.4 414.6,60.9" fill="#ff1c00"/><polygon points="442.9,65.1 446.6,69.3 453.7,68.1 449.9,63.9" fill="#ff3f00"/><polygon points="425.2,63.4 428.9,67.2 435.9,66.2 432.2,62.4" fill="#ff2c00"/><polygon points="331.8,56.9 335,58.4 341.9,58.3 338.7,56.6" fill="#ff0500"/><polygon points="348.8,58 352.1,60.1 359,59.8 355.7,57.7" fill="#ff0500"/><polygon points="366,59.4 369.3,61.9 376.3,61.5 372.9,58.9" fill="#ff0500"/><polygon points="489.5,71.9 493.3,77.2 500.4,75.5 496.6,70.3" fill="#ff9600"/><polygon points="383.3,60.9 386.7,63.9 393.7,63.3 390.2,60.3" fill="#ff0d00"/><polygon points="471.5,70 475.3,74.9 482.4,73.5 478.6,68.6" fill="#ff7500"/><polygon points="400.7,62.6 404.2,66 411.2,65.2 407.7,61.8" fill="#ff1700"/><polygon points="453.7,68.1 457.4,72.7 464.5,71.4 460.7,66.8" fill="#ff5600"/><polygon points="418.2,64.4 421.9,68.2 428.9,67.2 425.2,63.4" fill="#ff2700"/><polygon points="435.9,66.2 439.6,70.4 446.6,69.3 442.9,65.1" fill="#ff3a00"/><polygon points="341.9,58.3 345.1,60.3 352.1,60.1 348.8,58" fill="#ff0500"/><polygon points="500.4,75.5 504.2,81 511.4,79.3 507.5,73.8" fill="#ffb900"/><polygon points="359,59.8 362.4,62.2 369.3,61.9 366,59.4" fill="#ff0500"/><polygon points="482.4,73.5 486.2,78.7 493.3,77.2 489.5,71.9" fill="#ff9500"/><polygon points="376.3,61.5 379.7,64.3 386.7,63.9 383.3,60.9" fill="#ff0600"/><polygon points="464.5,71.4 468.2,76.3 475.3,74.9 471.5,70" fill="#ff7100"/><polygon points="393.7,63.3 397.2,66.6 404.2,66 400.7,62.6" fill="#ff1200"/><polygon points="446.6,69.3 450.3,73.8 457.4,72.7 453.7,68.1" fill="#ff5000"/><polygon points="411.2,65.2 414.8,69 421.9,68.2 418.2,64.4" fill="#ff2000"/><polygon points="428.9,67.2 432.5,71.4 439.6,70.4 435.9,66.2" fill="#ff3500"/><polygon points="335,58.4 338.1,60.3 345.1,60.3 341.9,58.3" fill="#ff0500"/><polygon points="352.1,60.1 355.4,62.4 362.4,62.2 359,59.8" fill="#ff0500"/><polygon points="493.3,77.2 497.1,82.7 504.2,81 500.4,75.5" fill="#ffb900"/><polygon points="369.3,61.9 372.7,64.7 379.7,64.3 376.3,61.5" fill="#ff0500"/><polygon points="475.3,74.9 479,80.1 486.2,78.7 482.4,73.5" fill="#ff9200"/><polygon points="386.7,63.9 390.2,67.1 397.2,66.6 393.7,63.3" fill="#ff0c00"/><polygon points="457.4,72.7 461.1,77.5 468.2,76.3 464.5,71.4" fill="#ff6c00"/><polygon points="404.2,66 407.8,69.6 414.8,69 411.2,65.2" fill="#ff1900"/><polygon points="439.6,70.4 443.2,74.9 450.3,73.8 446.6,69.3" fill="#ff4900"/><polygon points="421.9,68.2 425.5,72.2 432.5,71.4 428.9,67.2" fill="#ff2e00"/><polygon points="504.2,81 508,86.9 515.2,85.1 511.4,79.3" fill="#fdd600"/><polygon points="345.1,60.3 348.3,62.6 355.4,62.4 352.1,60.1" fill="#ff0500"/><polygon points="486.2,78.7 489.9,84.2 497.1,82.7 493.3,77.2" fill="#ffb600"/><polygon points="362.4,62.2 365.7,65 372.7,64.7 369.3,61.9" fill="#ff0500"/><polygon points="468.2,76.3 471.9,81.4 479,80.1 475.3,74.9" fill="#ff8d00"/><polygon points="379.7,64.3 383.2,67.5 390.2,67.1 386.7,63.9" fill="#ff0500"/><polygon points="450.3,73.8 454,78.6 461.1,77.5 457.4,72.7" fill="#ff6500"/><polygon points="397.2,66.6 400.7,70.2 407.8,69.6 404.2,66" fill="#ff1300"/><polygon points="432.5,71.4 436.2,75.8 443.2,74.9 439.6,70.4" fill="#ff4000"/><polygon points="414.8,69 418.4,73 425.5,72.2 421.9,68.2" fill="#ff2600"/><polygon points="338.1,60.3 341.3,62.6 348.3,62.6 345.1,60.3" fill="#ff0500"/><polygon points="497.1,82.7 500.8,88.5 508,86.9 504.2,81" fill="#fdd500"/><polygon points="355.4,62.4 358.7,65.1 365.7,65 362.4,62.2" fill="#ff0500"/><polygon points="479,80.1 482.8,85.6 489.9,84.2 486.2,78.7" fill="#ffb300"/><polygon points="372.7,64.7 376.1,67.9 383.2,67.5 379.7,64.3" fill="#ff0500"/><polygon points="461.1,77.5 464.8,82.6 471.9,81.4 468.2,76.3" fill="#ff8700"/><polygon points="390.2,67.1 393.7,70.7 400.7,70.2 397.2,66.6" fill="#ff0c00"/><polygon points="443.2,74.9 446.9,79.6 454,78.6 450.3,73.8" fill="#ff5d00"/><polygon points="407.8,69.6 411.3,73.6 418.4,73 414.8,69" fill="#ff1e00"/><polygon points="425.5,72.2 429.1,76.6 436.2,75.8 432.5,71.4" fill="#ff3800"/><polygon points="508,86.9 511.7,92.9 518.9,91.2 515.2,85.1" fill="#faf500"/><polygon points="489.9,84.2 493.6,89.9 500.8,88.5 497.1,82.7" fill="#fdd300"/><polygon points="348.3,62.6 351.6,65.2 358.7,65.1 355.4,62.4" fill="#ff0500"/><polygon points="471.9,81.4 475.6,86.9 482.8,85.6 479,80.1" fill="#ffad00"/><polygon points="365.7,65 369.1,68.1 376.1,67.9 372.7,64.7" fill="#ff0500"/><polygon points="454,78.6 457.7,83.7 464.8,82.6 461.1,77.5" fill="#ff7f00"/><polygon points="383.2,67.5 386.6,71.1 393.7,70.7 390.2,67.1" fill="#ff0500"/><polygon points="436.2,75.8 439.8,80.5 446.9,79.6 443.2,74.9" fill="#ff5400"/><polygon points="400.7,70.2 404.3,74.2 411.3,73.6 407.8,69.6" fill="#ff1700"/><polygon points="418.4,73 422,77.3 429.1,76.6 425.5,72.2" fill="#ff3000"/><polygon points="500.8,88.5 504.5,94.5 511.7,92.9 508,86.9" fill="#faf400"/><polygon points="341.3,62.6 344.5,65.1 351.6,65.2 348.3,62.6" fill="#ff0500"/><polygon points="482.8,85.6 486.5,91.3 493.6,89.9 489.9,84.2" fill="#fdcf00"/><polygon points="358.7,65.1 362,68.2 369.1,68.1 365.7,65" fill="#ff0500"/><polygon points="464.8,82.6 468.5,88 475.6,86.9 471.9,81.4" fill="#ffa600"/><polygon points="376.1,67.9 379.5,71.3 386.6,71.1 383.2,67.5" fill="#ff0500"/><polygon points="446.9,79.6 450.6,84.7 457.7,83.7 454,78.6" fill="#ff7600"/><polygon points="393.7,70.7 397.2,74.6 404.3,74.2 400.7,70.2" fill="#ff0f00"/><polygon points="429.1,76.6 432.7,81.3 439.8,80.5 436.2,75.8" fill="#ff4800"/><polygon points="411.3,73.6 414.9,77.9 422,77.3 418.4,73" fill="#ff2700"/><polygon points="511.7,92.9 515.4,99.3 522.7,97.6 518.9,91.2" fill="#aaf600"/><polygon points="493.6,89.9 497.3,96 504.5,94.5 500.8,88.5" fill="#fbf100"/><polygon points="475.6,86.9 479.3,92.6 486.5,91.3 482.8,85.6" fill="#fecb00"/><polygon points="351.6,65.2 354.9,68.1 362,68.2 358.7,65.1" fill="#ff0500"/><polygon points="457.7,83.7 461.3,89.1 468.5,88 464.8,82.6" fill="#ff9d00"/><polygon points="369.1,68.1 372.4,71.5 379.5,71.3 376.1,67.9" fill="#ff0500"/><polygon points="439.8,80.5 443.4,85.5 450.6,84.7 446.9,79.6" fill="#ff6b00"/><polygon points="386.6,71.1 390.1,74.9 397.2,74.6 393.7,70.7" fill="#ff0700"/><polygon points="422,77.3 425.6,82 432.7,81.3 429.1,76.6" fill="#ff3c00"/><polygon points="404.3,74.2 407.8,78.4 414.9,77.9 411.3,73.6" fill="#ff1c00"/><polygon points="504.5,94.5 508.2,100.8 515.4,99.3 511.7,92.9" fill="#b0f600"/><polygon points="486.5,91.3 490.2,97.3 497.3,96 493.6,89.9" fill="#fbed00"/><polygon points="344.5,65.1 347.7,68 354.9,68.1 351.6,65.2" fill="#ff0500"/><polygon points="468.5,88 472.1,93.7 479.3,92.6 475.6,86.9" fill="#fec500"/><polygon points="362,68.2 365.3,71.5 372.4,71.5 369.1,68.1" fill="#ff0500"/><polygon points="450.6,84.7 454.2,90 461.3,89.1 457.7,83.7" fill="#ff9300"/><polygon points="379.5,71.3 382.9,75.1 390.1,74.9 386.6,71.1" fill="#ff0500"/><polygon points="432.7,81.3 436.3,86.3 443.4,85.5 439.8,80.5" fill="#ff5f00"/><polygon points="397.2,74.6 400.6,78.8 407.8,78.4 404.3,74.2" fill="#ff1400"/><polygon points="414.9,77.9 418.4,82.5 425.6,82 422,77.3" fill="#ff3200"/><polygon points="515.4,99.3 519.1,105.9 526.3,104.2 522.7,97.6" fill="#50f100"/><polygon points="497.3,96 501,102.3 508.2,100.8 504.5,94.5" fill="#b9f700"/><polygon points="479.3,92.6 483,98.6 490.2,97.3 486.5,91.3" fill="#fbe800"/><polygon points="461.3,89.1 465,94.8 472.1,93.7 468.5,88" fill="#ffbe00"/><polygon points="354.9,68.1 358.2,71.4 365.3,71.5 362,68.2" fill="#ff0500"/><polygon points="443.4,85.5 447,90.9 454.2,90 450.6,84.7" fill="#ff8700"/><polygon points="372.4,71.5 375.8,75.2 382.9,75.1 379.5,71.3" fill="#ff0500"/><polygon points="425.6,82 429.1,86.9 436.3,86.3 432.7,81.3" fill="#ff5100"/><polygon points="390.1,74.9 393.5,79 400.6,78.8 397.2,74.6" fill="#ff0c00"/><polygon points="407.8,78.4 411.3,83 418.4,82.5 414.9,77.9" fill="#ff2700"/><polygon points="508.2,100.8 511.9,107.5 519.1,105.9 515.4,99.3" fill="#56f100"/><polygon points="490.2,97.3 493.8,103.6 501,102.3 497.3,96" fill="#c5f700"/><polygon points="472.1,93.7 475.8,99.7 483,98.6 479.3,92.6" fill="#fce200"/><polygon points="347.7,68 351,71.2 358.2,71.4 354.9,68.1" fill="#ff0500"/><polygon points="454.2,90 457.8,95.7 465,94.8 461.3,89.1" fill="#ffb400"/><polygon points="365.3,71.5 368.6,75.2 375.8,75.2 372.4,71.5" fill="#ff0500"/><polygon points="519.1,105.9 522.8,112.8 530,111.1 526.3,104.2" fill="#14ed00"/><polygon points="436.3,86.3 439.9,91.6 447,90.9 443.4,85.5" fill="#ff7a00"/><polygon points="382.9,75.1 386.4,79.2 393.5,79 390.1,74.9" fill="#ff0500"/><polygon points="418.4,82.5 422,87.4 429.1,86.9 425.6,82" fill="#ff4200"/><polygon points="400.6,78.8 404.1,83.3 411.3,83 407.8,78.4" fill="#ff1b00"/><polygon points="501,102.3 504.7,108.9 511.9,107.5 508.2,100.8" fill="#5ff200"/><polygon points="483,98.6 486.6,104.9 493.8,103.6 490.2,97.3" fill="#d4f800"/><polygon points="465,94.8 468.6,100.7 475.8,99.7 472.1,93.7" fill="#fcda00"/><polygon points="447,90.9 450.6,96.5 457.8,95.7 454.2,90" fill="#ffa800"/><polygon points="358.2,71.4 361.5,75 368.6,75.2 365.3,71.5" fill="#ff0500"/><polygon points="429.1,86.9 432.7,92.2 439.9,91.6 436.3,86.3" fill="#ff6b00"/><polygon points="375.8,75.2 379.2,79.2 386.4,79.2 382.9,75.1" fill="#ff0500"/><polygon points="511.9,107.5 515.5,114.3 522.8,112.8 519.1,105.9" fill="#18ed00"/><polygon points="411.3,83 414.8,87.8 422,87.4 418.4,82.5" fill="#ff3500"/><polygon points="393.5,79 397,83.5 404.1,83.3 400.6,78.8" fill="#ff1200"/><polygon points="493.8,103.6 497.4,110.2 504.7,108.9 501,102.3" fill="#6bf300"/><polygon points="475.8,99.7 479.4,106 486.6,104.9 483,98.6" fill="#e7f900"/><polygon points="457.8,95.7 461.4,101.6 468.6,100.7 465,94.8" fill="#fdd100"/><polygon points="522.8,112.8 526.4,119.9 533.6,118.2 530,111.1" fill="#00eb05"/><polygon points="351,71.2 354.3,74.8 361.5,75 358.2,71.4" fill="#ff0500"/><polygon points="439.9,91.6 443.4,97.1 450.6,96.5 447,90.9" fill="#ff9900"/><polygon points="368.6,75.2 372,79.1 379.2,79.2 375.8,75.2" fill="#ff0500"/><polygon points="422,87.4 425.5,92.6 432.7,92.2 429.1,86.9" fill="#ff5b00"/><polygon points="386.4,79.2 389.8,83.6 397,83.5 393.5,79" fill="#ff0900"/><polygon points="404.1,83.3 407.6,88.1 414.8,87.8 411.3,83" fill="#ff2800"/><polygon points="504.7,108.9 508.3,115.8 515.5,114.3 511.9,107.5" fill="#1ded00"/><polygon points="486.6,104.9 490.2,111.4 497.4,110.2 493.8,103.6" fill="#7af300"/><polygon points="468.6,100.7 472.2,106.9 479.4,106 475.8,99.7" fill="#faf900"/><polygon points="450.6,96.5 454.2,102.4 461.4,101.6 457.8,95.7" fill="#fec700"/><polygon points="515.5,114.3 519.1,121.5 526.4,119.9 522.8,112.8" fill="#00eb04"/><polygon points="432.7,92.2 436.2,97.7 443.4,97.1 439.9,91.6" fill="#ff8900"/><polygon points="361.5,75 364.8,78.9 372,79.1 368.6,75.2" fill="#ff0500"/><polygon points="414.8,87.8 418.3,93 425.5,92.6 422,87.4" fill="#ff4900"/><polygon points="379.2,79.2 382.6,83.6 389.8,83.6 386.4,79.2" fill="#ff0500"/><polygon points="397,83.5 400.4,88.3 407.6,88.1 404.1,83.3" fill="#ff1b00"/><polygon points="497.4,110.2 501,117.1 508.3,115.8 504.7,108.9" fill="#24ee00"/><polygon points="479.4,106 483,112.5 490.2,111.4 486.6,104.9" fill="#8df400"/><polygon points="526.4,119.9 529.9,127.3 537.2,125.7 533.6,118.2" fill="#00eb0e"/><polygon points="461.4,101.6 465,107.8 472.2,106.9 468.6,100.7" fill="#fbef00"/><polygon points="443.4,97.1 447,103 454.2,102.4 450.6,96.5" fill="#ffbc00"/><polygon points="354.3,74.8 357.5,78.6 364.8,78.9 361.5,75" fill="#ff0500"/><polygon points="508.3,115.8 511.8,122.9 519.1,121.5 515.5,114.3" fill="#00eb04"/><polygon points="425.5,92.6 429,98.1 436.2,97.7 432.7,92.2" fill="#ff7800"/><polygon points="372,79.1 375.4,83.4 382.6,83.6 379.2,79.2" fill="#ff0500"/><polygon points="407.6,88.1 411.1,93.2 418.3,93 414.8,87.8" fill="#ff3800"/><polygon points="389.8,83.6 393.2,88.3 400.4,88.3 397,83.5" fill="#ff1100"/><polygon points="490.2,111.4 493.8,118.3 501,117.1 497.4,110.2" fill="#2def00"/><polygon points="472.2,106.9 475.8,113.5 483,112.5 479.4,106" fill="#a3f600"/><polygon points="519.1,121.5 522.7,128.9 529.9,127.3 526.4,119.9" fill="#00eb0d"/><polygon points="454.2,102.4 457.7,108.6 465,107.8 461.4,101.6" fill="#fce500"/><polygon points="436.2,97.7 439.8,103.5 447,103 443.4,97.1" fill="#ffac00"/><polygon points="418.3,93 421.8,98.5 429,98.1 425.5,92.6" fill="#ff6500"/><polygon points="364.8,78.9 368.1,83.2 375.4,83.4 372,79.1" fill="#ff0500"/><polygon points="501,117.1 504.6,124.2 511.8,122.9 508.3,115.8" fill="#00eb02"/><polygon points="400.4,88.3 403.9,93.4 411.1,93.2 407.6,88.1" fill="#ff2a00"/><polygon points="382.6,83.6 386,88.3 393.2,88.3 389.8,83.6" fill="#ff0600"/><polygon points="483,112.5 486.5,119.3 493.8,118.3 490.2,111.4" fill="#38f000"/><polygon points="529.9,127.3 533.5,135 540.8,133.3 537.2,125.7" fill="#00ec29"/><polygon points="465,107.8 468.5,114.3 475.8,113.5 472.2,106.9" fill="#bef700"/><polygon points="447,103 450.5,109.2 457.7,108.6 454.2,102.4" fill="#fdd900"/><polygon points="511.8,122.9 515.4,130.3 522.7,128.9 519.1,121.5" fill="#00eb0c"/><polygon points="429,98.1 432.5,103.9 439.8,103.5 436.2,97.7" fill="#ff9900"/><polygon points="357.5,78.6 360.8,82.8 368.1,83.2 364.8,78.9" fill="#ff0500"/><polygon points="411.1,93.2 414.6,98.7 421.8,98.5 418.3,93" fill="#ff5100"/><polygon points="375.4,83.4 378.7,88.1 386,88.3 382.6,83.6" fill="#ff0500"/><polygon points="393.2,88.3 396.6,93.4 403.9,93.4 400.4,88.3" fill="#ff1b00"/><polygon points="493.8,118.3 497.3,125.4 504.6,124.2 501,117.1" fill="#00eb01"/><polygon points="475.8,113.5 479.3,120.3 486.5,119.3 483,112.5" fill="#4af100"/><polygon points="522.7,128.9 526.2,136.5 533.5,135 529.9,127.3" fill="#00ec23"/><polygon points="457.7,108.6 461.3,115 468.5,114.3 465,107.8" fill="#dcf900"/><polygon points="439.8,103.5 443.3,109.7 450.5,109.2 447,103" fill="#fecc00"/><polygon points="504.6,124.2 508.1,131.6 515.4,130.3 511.8,122.9" fill="#00eb0b"/><polygon points="421.8,98.5 425.3,104.2 432.5,103.9 429,98.1" fill="#ff8500"/><polygon points="403.9,93.4 407.3,98.7 414.6,98.7 411.1,93.2" fill="#ff3c00"/><polygon points="368.1,83.2 371.4,87.8 378.7,88.1 375.4,83.4" fill="#ff0500"/><polygon points="386,88.3 389.4,93.2 396.6,93.4 393.2,88.3" fill="#ff0f00"/><polygon points="486.5,119.3 490.1,126.4 497.3,125.4 493.8,118.3" fill="#05eb00"/><polygon points="468.5,114.3 472,121.1 479.3,120.3 475.8,113.5" fill="#64f200"/><polygon points="515.4,130.3 518.9,138 526.2,136.5 522.7,128.9" fill="#00eb1a"/><polygon points="450.5,109.2 454,115.6 461.3,115 457.7,108.6" fill="#faf900"/><polygon points="432.5,103.9 436,110 443.3,109.7 439.8,103.5" fill="#ffbd00"/><polygon points="414.6,98.7 418,104.4 425.3,104.2 421.8,98.5" fill="#ff6f00"/><polygon points="497.3,125.4 500.8,132.8 508.1,131.6 504.6,124.2" fill="#00eb09"/><polygon points="360.8,82.8 364.1,87.3 371.4,87.8 368.1,83.2" fill="#ff0500"/><polygon points="396.6,93.4 400,98.7 407.3,98.7 403.9,93.4" fill="#ff2c00"/><polygon points="378.7,88.1 382.1,93 389.4,93.2 386,88.3" fill="#ff0500"/><polygon points="479.3,120.3 482.8,127.4 490.1,126.4 486.5,119.3" fill="#11ec00"/><polygon points="461.3,115 464.8,121.8 472,121.1 468.5,114.3" fill="#80f400"/><polygon points="508.1,131.6 511.6,139.3 518.9,138 515.4,130.3" fill="#00eb14"/><polygon points="443.3,109.7 446.8,116.1 454,115.6 450.5,109.2" fill="#fbeb00"/><polygon points="425.3,104.2 428.8,110.3 436,110 432.5,103.9" fill="#ffaa00"/><polygon points="407.3,98.7 410.7,104.4 418,104.4 414.6,98.7" fill="#ff5900"/><polygon points="389.4,93.2 392.8,98.5 400,98.7 396.6,93.4" fill="#ff1b00"/><polygon points="371.4,87.8 374.8,92.6 382.1,93 378.7,88.1" fill="#ff0500"/><polygon points="490.1,126.4 493.6,133.8 500.8,132.8 497.3,125.4" fill="#00eb07"/><polygon points="472,121.1 475.5,128.2 482.8,127.4 479.3,120.3" fill="#20ee00"/><polygon points="454,115.6 457.5,122.4 464.8,121.8 461.3,115" fill="#a1f600"/><polygon points="436,110 439.5,116.4 446.8,116.1 443.3,109.7" fill="#fcdc00"/><polygon points="500.8,132.8 504.3,140.4 511.6,139.3 508.1,131.6" fill="#00eb12"/><polygon points="418,104.4 421.5,110.4 428.8,110.3 425.3,104.2" fill="#ff9300"/><polygon points="400,98.7 403.5,104.4 410.7,104.4 407.3,98.7" fill="#ff4100"/><polygon points="364.1,87.3 367.5,92.2 374.8,92.6 371.4,87.8" fill="#ff0500"/><polygon points="382.1,93 385.5,98.3 392.8,98.5 389.4,93.2" fill="#ff0e00"/><polygon points="482.8,127.4 486.3,134.7 493.6,133.8 490.1,126.4" fill="#00eb05"/><polygon points="464.8,121.8 468.3,128.8 475.5,128.2 472,121.1" fill="#30ef00"/><polygon points="446.8,116.1 450.2,122.8 457.5,122.4 454,115.6" fill="#c7f700"/><polygon points="428.8,110.3 432.2,116.7 439.5,116.4 436,110" fill="#fecc00"/><polygon points="493.6,133.8 497,141.4 504.3,140.4 500.8,132.8" fill="#00eb10"/><polygon points="410.7,104.4 414.2,110.4 421.5,110.4 418,104.4" fill="#ff7b00"/><polygon points="392.8,98.5 396.1,104.2 403.5,104.4 400,98.7" fill="#ff2e00"/><polygon points="374.8,92.6 378.1,97.9 385.5,98.3 382.1,93" fill="#ff0500"/><polygon points="475.5,128.2 479,135.5 486.3,134.7 482.8,127.4" fill="#00eb03"/><polygon points="457.5,122.4 461,129.4 468.3,128.8 464.8,121.8" fill="#45f100"/><polygon points="439.5,116.4 442.9,123.1 450.2,122.8 446.8,116.1" fill="#f1fa00"/><polygon points="421.5,110.4 424.9,116.8 432.2,116.7 428.8,110.3" fill="#ffba00"/><polygon points="403.5,104.4 406.9,110.3 414.2,110.4 410.7,104.4" fill="#ff6200"/><polygon points="486.3,134.7 489.7,142.4 497,141.4 493.6,133.8" fill="#00eb0e"/><polygon points="385.5,98.3 388.8,103.8 396.1,104.2 392.8,98.5" fill="#ff1b00"/><polygon points="367.5,92.2 370.8,97.3 378.1,97.9 374.8,92.6" fill="#ff0500"/><polygon points="468.3,128.8 471.7,136.2 479,135.5 475.5,128.2" fill="#00eb01"/><polygon points="450.2,122.8 453.7,129.8 461,129.4 457.5,122.4" fill="#69f300"/><polygon points="432.2,116.7 435.6,123.3 442.9,123.1 439.5,116.4" fill="#fbed00"/><polygon points="414.2,110.4 417.6,116.7 424.9,116.8 421.5,110.4" fill="#ffa200"/><polygon points="396.1,104.2 399.5,110.1 406.9,110.3 403.5,104.4" fill="#ff4800"/><polygon points="378.1,97.9 381.5,103.4 388.8,103.8 385.5,98.3" fill="#ff0e00"/><polygon points="479,135.5 482.4,143.1 489.7,142.4 486.3,134.7" fill="#00eb0c"/><polygon points="461,129.4 464.4,136.7 471.7,136.2 468.3,128.8" fill="#0dec00"/><polygon points="442.9,123.1 446.4,130.1 453.7,129.8 450.2,122.8" fill="#90f500"/><polygon points="424.9,116.8 428.3,123.4 435.6,123.3 432.2,116.7" fill="#fcdb00"/><polygon points="406.9,110.3 410.3,116.6 417.6,116.7 414.2,110.4" fill="#ff8700"/><polygon points="388.8,103.8 392.2,109.7 399.5,110.1 396.1,104.2" fill="#ff3100"/><polygon points="370.8,97.3 374.1,102.8 381.5,103.4 378.1,97.9" fill="#ff0500"/><polygon points="471.7,136.2 475.1,143.8 482.4,143.1 479,135.5" fill="#00eb09"/><polygon points="453.7,129.8 457.1,137.1 464.4,136.7 461,129.4" fill="#21ee00"/><polygon points="435.6,123.3 439.1,130.3 446.4,130.1 442.9,123.1" fill="#bef700"/><polygon points="417.6,116.7 421,123.3 428.3,123.4 424.9,116.8" fill="#fec800"/><polygon points="399.5,110.1 402.9,116.3 410.3,116.6 406.9,110.3" fill="#ff6b00"/><polygon points="381.5,103.4 384.8,109.2 392.2,109.7 388.8,103.8" fill="#ff1c00"/><polygon points="464.4,136.7 467.8,144.3 475.1,143.8 471.7,136.2" fill="#00eb06"/><polygon points="446.4,130.1 449.8,137.4 457.1,137.1 453.7,129.8" fill="#36f000"/><polygon points="428.3,123.4 431.7,130.3 439.1,130.3 435.6,123.3" fill="#eff900"/><polygon points="410.3,116.6 413.6,123.2 421,123.3 417.6,116.7" fill="#ffb100"/><polygon points="392.2,109.7 395.5,115.9 402.9,116.3 399.5,110.1" fill="#ff4f00"/><polygon points="374.1,102.8 377.4,108.6 384.8,109.2 381.5,103.4" fill="#ff0d00"/><polygon points="457.1,137.1 460.5,144.7 467.8,144.3 464.4,136.7" fill="#00eb03"/><polygon points="439.1,130.3 442.5,137.5 449.8,137.4 446.4,130.1" fill="#5df200"/><polygon points="421,123.3 424.4,130.3 431.7,130.3 428.3,123.4" fill="#fbea00"/><polygon points="402.9,116.3 406.3,122.9 413.6,123.2 410.3,116.6" fill="#ff9400"/><polygon points="384.8,109.2 388.1,115.4 395.5,115.9 392.2,109.7" fill="#ff3400"/><polygon points="449.8,137.4 453.2,145 460.5,144.7 457.1,137.1" fill="#01eb00"/><polygon points="431.7,130.3 435.1,137.6 442.5,137.5 439.1,130.3" fill="#8bf400"/><polygon points="413.6,123.2 417,130 424.4,130.3 421,123.3" fill="#fdd500"/><polygon points="395.5,115.9 398.9,122.4 406.3,122.9 402.9,116.3" fill="#ff7600"/><polygon points="377.4,108.6 380.7,114.7 388.1,115.4 384.8,109.2" fill="#ff1e00"/><polygon points="442.5,137.5 445.8,145.1 453.2,145 449.8,137.4" fill="#18ed00"/><polygon points="424.4,130.3 427.7,137.5 435.1,137.6 431.7,130.3" fill="#c0f700"/><polygon points="406.3,122.9 409.6,129.7 417,130 413.6,123.2" fill="#ffbf00"/><polygon points="388.1,115.4 391.5,121.9 398.9,122.4 395.5,115.9" fill="#ff5600"/><polygon points="435.1,137.6 438.5,145.1 445.8,145.1 442.5,137.5" fill="#32ef00"/><polygon points="417,130 420.4,137.2 427.7,137.5 424.4,130.3" fill="#fafa00"/><polygon points="398.9,122.4 402.2,129.2 409.6,129.7 406.3,122.9" fill="#ffa200"/><polygon points="380.7,114.7 384,121.2 391.5,121.9 388.1,115.4" fill="#ff3800"/><polygon points="427.7,137.5 431.1,145 438.5,145.1 435.1,137.6" fill="#5bf200"/><polygon points="409.6,129.7 412.9,136.9 420.4,137.2 417,130" fill="#fce300"/><polygon points="391.5,121.9 394.8,128.6 402.2,129.2 398.9,122.4" fill="#ff8100"/><polygon points="420.4,137.2 423.7,144.7 431.1,145 427.7,137.5" fill="#90f500"/><polygon points="402.2,129.2 405.5,136.4 412.9,136.9 409.6,129.7" fill="#fecb00"/><polygon points="384,121.2 387.3,127.9 394.8,128.6 391.5,121.9" fill="#ff5f00"/><polygon points="412.9,136.9 416.3,144.3 423.7,144.7 420.4,137.2" fill="#cef800"/><polygon points="394.8,128.6 398.1,135.7 405.5,136.4 402.2,129.2" fill="#ffb000"/><polygon points="405.5,136.4 408.8,143.8 416.3,144.3 412.9,136.9" fill="#fbf200"/><polygon points="387.3,127.9 390.6,135 398.1,135.7 394.8,128.6" fill="#ff8c00"/><polygon points="398.1,135.7 401.4,143.1 408.8,143.8 405.5,136.4" fill="#fdd800"/><polygon points="390.6,135 393.9,142.3 401.4,143.1 398.1,135.7" fill="#ffbd00"/></g><circle cx="328.4" cy="56.5" r="2" fill="#ffd0d0" stroke="#600" stroke-width="0.4"/><circle cx="393" cy="139.7" r="2" fill="#b00000" stroke="#600" stroke-width="0.4"/><circle cx="541.8" cy="134.2" r="2" fill="#b00000" stroke="#600" stroke-width="0.4"/><circle cx="432.4" cy="75.9" r="2" fill="#b00000" stroke="#600" stroke-width="0.4"/></g><g><path d="M194.1 394.4L312.4 358.3L386.1 427.4M192.8 379.7L312.8 344.4L387.4 412.3M191.5 365.1L313.1 330.4L388.7 397.2M190.2 350.4L313.5 316.5L390 382.1M188.9 335.8L313.8 302.6L391.3 367M187.6 321.1L314.2 288.6L392.6 351.9M186.3 306.5L314.5 274.7L393.9 336.8M196.5 421.4L186.3 306.5M223.7 385.4L218.4 298.6M253.3 376.4L250.4 290.6M282.9 367.3L282.4 282.6M311.8 384L314.5 274.7M327.2 372.1L330.4 287.1M341.9 385.9L346.3 299.5M356.6 399.8L362.1 312M371.4 413.6L378 324.4M383.7 455.2L393.9 336.8" fill="none" stroke="#3a3a3a" stroke-width="0.75"/><circle cx="194.1" cy="394.4" r="0.9" fill="#000"/><text x="191.3" y="393.4" text-anchor="end" class="tk">0</text><circle cx="192.8" cy="379.7" r="0.9" fill="#000"/><text x="190" y="378.7" text-anchor="end" class="tk">20</text><circle cx="191.5" cy="365.1" r="0.9" fill="#000"/><text x="188.7" y="364.1" text-anchor="end" class="tk">40</text><circle cx="190.2" cy="350.4" r="0.9" fill="#000"/><text x="187.4" y="349.4" text-anchor="end" class="tk">60</text><circle cx="188.9" cy="335.8" r="0.9" fill="#000"/><text x="186.1" y="334.8" text-anchor="end" class="tk">80</text><circle cx="187.6" cy="321.1" r="0.9" fill="#000"/><text x="184.8" y="320.1" text-anchor="end" class="tk">100</text><circle cx="186.3" cy="306.5" r="0.9" fill="#000"/><text x="183.5" y="305.5" text-anchor="end" class="tk">120</text><polygon points="196.5,421.4 257,502.6 383.7,455.2 311.8,384" fill="#656565" stroke="#222" stroke-width="0.6"/><polyline points="372.3,459.4 371.6,458.5 371,457.7 370.9,457.5 370.1,456.6 369.4,455.6 368.7,454.7 368,453.7 367.3,452.7 366.6,451.7 365.9,450.8 365.3,449.8 365.2,449.6 364.6,448.8 364,447.8 363.3,446.8 362.7,445.8 362.1,444.8 361.5,443.8 361.4,443.7 360.9,442.8 360.3,441.8 359.7,440.8 359.2,439.8 358.6,438.8 358.6,438.7 358.1,437.7 357.5,436.7 357,435.7 356.5,434.6 356.4,434.4 356,433.6 355.5,432.6 355,431.5 354.5,430.5 354.5,430.4 354.1,429.4 353.6,428.4 353.2,427.3 353,426.8 352.7,426.3 352.3,425.2 351.9,424.2 351.6,423.4" fill="none" stroke="#07b550" stroke-width="1.5"/><polyline points="357.2,465.1 356.4,464.2 355.6,463.2 354.9,462.3 354.1,461.3 353.4,460.3 352.7,459.4 352,458.4 351.3,457.4 350.8,456.7 350.6,456.4 349.9,455.4 349.3,454.4 348.6,453.4 348,452.4 347.4,451.4 346.7,450.4 346.5,450 346.1,449.4 345.6,448.4 345,447.4 344.4,446.3 343.9,445.3 343.6,444.8 343.3,444.3 342.8,443.2 342.3,442.2 341.8,441.2 341.5,440.4 341.3,440.1 340.9,439 340.4,438 340,436.9 339.8,436.5 339.5,435.9 339.1,434.8 338.7,433.7 338.4,433 338.3,432.6 337.9,431.6 337.5,430.5 337.3,429.7 337.2,429.4 336.8,428.3 336.5,427.2 336.3,426.6 336.1,426.1 335.8,425 335.5,423.9 335.4,423.6 335.2,422.8 334.9,421.7 334.7,420.8 334.6,420.6 334.4,419.4 334.1,418.3 334.1,418.1 333.9,417.2 333.6,416.1 333.5,415.5 333.4,415 333.2,413.8 333,413 333,412.7 332.8,411.6 332.6,410.6 332.6,410.4 332.4,409.3 332.2,408.2 332.2,408.1 332,407 331.9,405.9 331.9,405.9 331.7,404.7 331.6,403.6" fill="none" stroke="#71c750" stroke-width="1.5"/><polyline points="339.3,471.8 338.5,470.9 337.6,469.9 337.2,469.4 336.8,469 336,468 335.2,467.1 334.5,466.1 333.7,465.1 333,464.2 332.3,463.2 331.6,462.2 330.9,461.2 330.2,460.2 329.6,459.2 329,458.2 328.8,457.9 328.4,457.2 327.8,456.1 327.2,455.1 326.6,454.1 326.1,453 325.7,452.2 325.6,452 325,450.9 324.5,449.8 324.1,448.8 323.7,447.8 323.6,447.7 323.2,446.6 322.8,445.5 322.4,444.5 322.2,444 322,443.4 321.6,442.3 321.3,441.2 321.1,440.6 320.9,440 320.6,438.9 320.3,437.8 320.2,437.4 320,436.7 319.7,435.5 319.5,434.5 319.5,434.4 319.2,433.3 319,432.1 318.9,431.7 318.8,431 318.6,429.8 318.5,429.1 318.4,428.7 318.2,427.5 318.1,426.6 318.1,426.3 317.9,425.2 317.8,424.1 317.8,424 317.6,422.8 317.5,421.8 317.5,421.7 317.4,420.5 317.3,419.5 317.3,419.3 317.2,418.1 317.2,417.2 317.2,416.9 317.1,415.7 317.1,415 317,414.5 317,413.3 317,412.9 317,412.2 316.9,411 316.9,410.8 316.9,409.8 316.9,408.7 316.9,408.6 316.9,407.4 316.9,406.7 316.9,406.2 316.9,405 316.9,404.7 316.9,403.8 316.9,402.7 316.9,402.5 316.9,401.3 316.9,400.8 317,400.1 317,398.9 317,398.9 317,397.7 317.1,397 317.1,396.5 317.1,395.3 317.1,395.1 317.2,394.1 317.2,393.2 317.2,392.9 317.3,391.7 317.3,391.4 317.4,390.5 317.4,389.6" fill="none" stroke="#d8cb4f" stroke-width="1.5"/><polyline points="314.2,481.2 313.4,480.6 313.1,480.3 312,479.5 311,478.6 310,477.7 308.9,476.8 308,475.9 307,475 306.1,474.1 305.2,473.2 304.3,472.2 303.5,471.3 302.7,470.3 301.9,469.3 301.2,468.3 300.5,467.3 299.8,466.3 299.2,465.3 298.7,464.2 298.1,463.2 297.7,462.2 297.6,462.1 297.2,461 296.8,459.9 296.4,458.8 296.2,458.1 296.1,457.6 295.8,456.5 295.5,455.3 295.5,454.9 295.3,454.1 295.1,453 295,452.1 295,451.8 294.9,450.6 294.8,449.5 294.8,449.3 294.7,448.1 294.7,447.1 294.7,446.9 294.7,445.6 294.7,444.8 294.7,444.4 294.7,443.1 294.7,442.6 294.8,441.9 294.9,440.6 294.9,440.5 294.9,439.3 295,438.4 295.1,438.1 295.2,436.8 295.2,436.4 295.3,435.5 295.4,434.4 295.5,434.2 295.6,432.9 295.7,432.5 295.8,431.6 296,430.6 296,430.3 296.2,429 296.2,428.7 296.4,427.7 296.5,426.8 296.6,426.4 296.8,425.1 296.8,425 297,423.8 297.1,423.2 297.3,422.5 297.5,421.4 297.5,421.2 297.7,419.9 297.8,419.6 298,418.6 298.1,417.9 298.2,417.3 298.5,416.1 298.5,416 298.7,414.7 298.8,414.4 299,413.4 299.1,412.7 299.2,412.1 299.5,411 299.5,410.8 299.8,409.5 299.8,409.3 300,408.2 300.2,407.6 300.3,406.9 300.5,405.9 300.5,405.6 300.8,404.3 300.8,404.2 301.1,403 301.2,402.5 301.3,401.7 301.5,400.9 301.6,400.4 301.9,399.2 301.9,399.2 302.1,397.9 302.2,397.6 302.4,396.6 302.5,396 302.7,395.3 302.9,394.3 302.9,394 303.2,392.7 303.2,392.7 303.5,391.5 303.6,391.1 303.7,390.2 303.9,389.5 304,388.9 304.2,387.9 304.3,387.6 304.5,386.4" fill="none" stroke="#da7b42" stroke-width="1.5"/><polyline points="197.9,420.9 199.7,421.6 200.4,421.9 201.5,422.3 202.9,422.8 203.4,422.9 205.2,423.6 205.4,423.7 207.1,424.3 207.9,424.5 208.9,424.9 210.3,425.4 210.8,425.5 212.7,426.1 212.8,426.1 214.7,426.8 215.1,426.9 216.8,427.3 217.5,427.6 218.8,427.9 219.8,428.2 220.9,428.5 222.1,428.8 223.1,429 224.4,429.3 225.3,429.5 226.6,429.8 227.6,430 228.8,430.2 230,430.5 230.9,430.6 232.6,430.8 233,430.9 235.1,431.2 235.4,431.2 237.1,431.3 238.4,431.4 239.1,431.5 241,431.5 241.9,431.5 242.8,431.5 244.7,431.4 246.2,431.3 246.4,431.2 248.1,431 249.8,430.8 251.4,430.4 253,430 254.5,429.5 255.9,429 257.3,428.4 258.7,427.8 260,427.1 261.3,426.4 262.1,425.9 262.6,425.6 263.8,424.8 264.9,423.9 265.4,423.5 266.1,423 267.2,422.1 267.8,421.5 268.2,421.1 269.3,420.1 269.7,419.6 270.3,419.1 271.2,418 271.4,417.8 272.2,416.9 272.9,416.1 273.1,415.8 274,414.7 274.2,414.4 274.9,413.5 275.4,412.8 275.7,412.3 276.5,411.2 276.6,411.1 277.4,409.9 277.6,409.6 278.2,408.7 278.6,408.1 279,407.5 279.5,406.6 279.7,406.2 280.4,405.1 280.5,404.9 281.2,403.7 281.2,403.6 281.9,402.4 282.1,402.1 282.6,401.1 282.8,400.6 283.3,399.8 283.6,399.2 284,398.4 284.3,397.7 284.6,397.1 285,396.3 285.3,395.8 285.7,394.9 285.9,394.5 286.3,393.5 286.5,393.1 287,392.1" fill="none" stroke="#d23c32" stroke-width="1.5"/><circle cx="196.5" cy="421.4" r="0.9" fill="#000"/><text x="193.7" y="426.6" text-anchor="end" class="tk">25</text><circle cx="208.6" cy="437.6" r="0.9" fill="#000"/><text x="205.8" y="442.8" text-anchor="end" class="tk">27</text><circle cx="220.7" cy="453.9" r="0.9" fill="#000"/><text x="217.9" y="459.1" text-anchor="end" class="tk">29</text><circle cx="232.8" cy="470.1" r="0.9" fill="#000"/><text x="230" y="475.3" text-anchor="end" class="tk">31</text><circle cx="244.9" cy="486.4" r="0.9" fill="#000"/><text x="242.1" y="491.6" text-anchor="end" class="tk">33</text><circle cx="257" cy="502.6" r="0.9" fill="#000"/><text x="254.2" y="507.8" text-anchor="end" class="tk">35</text><circle cx="257" cy="502.6" r="0.9" fill="#000"/><text x="261.7" y="507.7" text-anchor="middle" class="tk">1</text><circle cx="288.7" cy="490.8" r="0.9" fill="#000"/><text x="293.4" y="495.9" text-anchor="middle" class="tk">0.8</text><circle cx="320.4" cy="478.9" r="0.9" fill="#000"/><text x="325.1" y="484" text-anchor="middle" class="tk">0.6</text><circle cx="352" cy="467" r="0.9" fill="#000"/><text x="356.7" y="472.1" text-anchor="middle" class="tk">0.4</text><circle cx="383.7" cy="455.2" r="0.9" fill="#000"/><text x="388.4" y="460.3" text-anchor="middle" class="tk">0.2</text><text transform="translate(203 473) rotate(53.3)" text-anchor="middle" class="at">Temperature (°C)</text><text transform="translate(337.1 498.5) rotate(-20.5)" text-anchor="middle" class="at">Bio-adsorbent (g/L)</text><text transform="translate(166 365.5) rotate(-90)" text-anchor="middle" class="zt">Dye adsorption (%)</text><text x="152.5" y="283.3" class="pl">C)</text><g stroke="#1a1a00" stroke-opacity="0.8" stroke-width="0.38" stroke-linejoin="round"><polygon points="308.9,302 311.9,306.4 316.8,307.4 313.8,303.1" fill="#ff9700"/><polygon points="303.9,301.1 306.9,305.4 311.9,306.4 308.9,302" fill="#ff6d00"/><polygon points="311.9,306.4 314.9,310.7 319.9,311.7 316.8,307.4" fill="#ffb600"/><polygon points="298.9,300.3 301.9,304.6 306.9,305.4 303.9,301.1" fill="#ff4800"/><polygon points="306.9,305.4 310,309.7 314.9,310.7 311.9,306.4" fill="#ff8c00"/><polygon points="293.9,299.7 296.9,304 301.9,304.6 298.9,300.3" fill="#ff2c00"/><polygon points="314.9,310.7 318,314.9 322.9,316 319.9,311.7" fill="#fdcd00"/><polygon points="301.9,304.6 305,308.9 310,309.7 306.9,305.4" fill="#ff6500"/><polygon points="288.8,299.2 291.9,303.5 296.9,304 293.9,299.7" fill="#ff1700"/><polygon points="310,309.7 313,313.9 318,314.9 314.9,310.7" fill="#ffa900"/><polygon points="296.9,304 299.9,308.3 305,308.9 301.9,304.6" fill="#ff4100"/><polygon points="283.8,298.8 286.8,303.2 291.9,303.5 288.8,299.2" fill="#ff0900"/><polygon points="318,314.9 321,319.1 326,320.2 322.9,316" fill="#fce200"/><polygon points="305,308.9 308,313.1 313,313.9 310,309.7" fill="#ff8100"/><polygon points="291.9,303.5 294.9,307.8 299.9,308.3 296.9,304" fill="#ff2900"/><polygon points="278.7,298.6 281.7,303 286.8,303.2 283.8,298.8" fill="#ff0500"/><polygon points="313,313.9 316,318.1 321,319.1 318,314.9" fill="#fec200"/><polygon points="299.9,308.3 302.9,312.5 308,313.1 305,308.9" fill="#ff5d00"/><polygon points="286.8,303.2 289.8,307.4 294.9,307.8 291.9,303.5" fill="#ff1700"/><polygon points="273.7,298.6 276.7,302.9 281.7,303 278.7,298.6" fill="#ff0500"/><polygon points="321,319.1 324,323.2 329,324.3 326,320.2" fill="#faf600"/><polygon points="308,313.1 311,317.3 316,318.1 313,313.9" fill="#ff9d00"/><polygon points="294.9,307.8 297.9,312 302.9,312.5 299.9,308.3" fill="#ff3d00"/><polygon points="281.7,303 284.7,307.2 289.8,307.4 286.8,303.2" fill="#ff0a00"/><polygon points="268.6,298.8 271.6,303.1 276.7,302.9 273.7,298.6" fill="#ff0500"/><polygon points="316,318.1 319,322.2 324,323.2 321,319.1" fill="#fdd600"/><polygon points="302.9,312.5 306,316.6 311,317.3 308,313.1" fill="#ff7800"/><polygon points="289.8,307.4 292.8,311.6 297.9,312 294.9,307.8" fill="#ff2700"/><polygon points="276.7,302.9 279.6,307.2 284.7,307.2 281.7,303" fill="#ff0500"/><polygon points="263.5,299.1 266.5,303.4 271.6,303.1 268.6,298.8" fill="#ff0500"/><polygon points="324,323.2 327,327.2 332,328.3 329,324.3" fill="#d0f800"/><polygon points="311,317.3 314,321.4 319,322.2 316,318.1" fill="#ffb800"/><polygon points="297.9,312 300.9,316.1 306,316.6 302.9,312.5" fill="#ff5600"/><polygon points="284.7,307.2 287.7,311.4 292.8,311.6 289.8,307.4" fill="#ff1600"/><polygon points="271.6,303.1 274.5,307.3 279.6,307.2 276.7,302.9" fill="#ff0500"/><polygon points="258.4,299.5 261.4,303.8 266.5,303.4 263.5,299.1" fill="#ff0500"/><polygon points="319,322.2 322,326.2 327,327.2 324,323.2" fill="#fbe900"/><polygon points="306,316.6 309,320.7 314,321.4 311,317.3" fill="#ff9200"/><polygon points="292.8,311.6 295.8,315.8 300.9,316.1 297.9,312" fill="#ff3900"/><polygon points="279.6,307.2 282.6,311.4 287.7,311.4 284.7,307.2" fill="#ff0a00"/><polygon points="266.5,303.4 269.4,307.6 274.5,307.3 271.6,303.1" fill="#ff0500"/><polygon points="253.3,300.2 256.2,304.5 261.4,303.8 258.4,299.5" fill="#ff0500"/><polygon points="327,327.2 330,331.2 335,332.3 332,328.3" fill="#9ff500"/><polygon points="314,321.4 317,325.4 322,326.2 319,322.2" fill="#fecb00"/><polygon points="300.9,316.1 303.9,320.2 309,320.7 306,316.6" fill="#ff6f00"/><polygon points="287.7,311.4 290.7,315.6 295.8,315.8 292.8,311.6" fill="#ff2500"/><polygon points="274.5,307.3 277.5,311.5 282.6,311.4 279.6,307.2" fill="#ff0500"/><polygon points="248.2,301 251.1,305.3 256.2,304.5 253.3,300.2" fill="#ff0500"/><polygon points="261.4,303.8 264.3,308.1 269.4,307.6 266.5,303.4" fill="#ff0500"/><polygon points="322,326.2 325,330.2 330,331.2 327,327.2" fill="#f7fa00"/><polygon points="309,320.7 311.9,324.7 317,325.4 314,321.4" fill="#ffaa00"/><polygon points="295.8,315.8 298.8,319.8 303.9,320.2 300.9,316.1" fill="#ff4f00"/><polygon points="282.6,311.4 285.6,315.5 290.7,315.6 287.7,311.4" fill="#ff1600"/><polygon points="269.4,307.6 272.4,311.8 277.5,311.5 274.5,307.3" fill="#ff0500"/><polygon points="243.1,302 246,306.3 251.1,305.3 248.2,301" fill="#ff0500"/><polygon points="256.2,304.5 259.2,308.7 264.3,308.1 261.4,303.8" fill="#ff0500"/><polygon points="330,331.2 333,335.1 338,336.3 335,332.3" fill="#74f300"/><polygon points="317,325.4 320,329.4 325,330.2 322,326.2" fill="#fcdc00"/><polygon points="303.9,320.2 306.9,324.2 311.9,324.7 309,320.7" fill="#ff8700"/><polygon points="290.7,315.6 293.7,319.6 298.8,319.8 295.8,315.8" fill="#ff3600"/><polygon points="277.5,311.5 280.5,315.6 285.6,315.5 282.6,311.4" fill="#ff0c00"/><polygon points="238,303.1 240.9,307.4 246,306.3 243.1,302" fill="#ff0500"/><polygon points="264.3,308.1 267.3,312.3 272.4,311.8 269.4,307.6" fill="#ff0500"/><polygon points="251.1,305.3 254.1,309.5 259.2,308.7 256.2,304.5" fill="#ff0500"/><polygon points="325,330.2 328,334.1 333,335.1 330,331.2" fill="#c9f800"/><polygon points="311.9,324.7 314.9,328.7 320,329.4 317,325.4" fill="#fec000"/><polygon points="298.8,319.8 301.8,323.8 306.9,324.2 303.9,320.2" fill="#ff6600"/><polygon points="285.6,315.5 288.6,319.6 293.7,319.6 290.7,315.6" fill="#ff2400"/><polygon points="272.4,311.8 275.4,315.9 280.5,315.6 277.5,311.5" fill="#ff0500"/><polygon points="232.9,304.5 235.8,308.8 240.9,307.4 238,303.1" fill="#ff0500"/><polygon points="259.2,308.7 262.1,312.9 267.3,312.3 264.3,308.1" fill="#ff0500"/><polygon points="246,306.3 249,310.5 254.1,309.5 251.1,305.3" fill="#ff0500"/><polygon points="333,335.1 336,339 341,340.1 338,336.3" fill="#4bf100"/><polygon points="320,329.4 323,333.3 328,334.1 325,330.2" fill="#fbed00"/><polygon points="306.9,324.2 309.9,328.2 314.9,328.7 311.9,324.7" fill="#ff9e00"/><polygon points="293.7,319.6 296.7,323.6 301.8,323.8 298.8,319.8" fill="#ff4a00"/><polygon points="280.5,315.6 283.5,319.7 288.6,319.6 285.6,315.5" fill="#ff1700"/><polygon points="227.8,306 230.7,310.3 235.8,308.8 232.9,304.5" fill="#ff0500"/><polygon points="267.3,312.3 270.2,316.4 275.4,315.9 272.4,311.8" fill="#ff0500"/><polygon points="240.9,307.4 243.8,311.7 249,310.5 246,306.3" fill="#ff0500"/><polygon points="254.1,309.5 257,313.7 262.1,312.9 259.2,308.7" fill="#ff0500"/><polygon points="328,334.1 331,338 336,339 333,335.1" fill="#9df500"/><polygon points="314.9,328.7 317.9,332.6 323,333.3 320,329.4" fill="#fdd000"/><polygon points="301.8,323.8 304.8,327.8 309.9,328.2 306.9,324.2" fill="#ff7d00"/><polygon points="288.6,319.6 291.5,323.6 296.7,323.6 293.7,319.6" fill="#ff3400"/><polygon points="275.4,315.9 278.3,320 283.5,319.7 280.5,315.6" fill="#ff0d00"/><polygon points="222.8,307.7 225.7,312 230.7,310.3 227.8,306" fill="#ff0500"/><polygon points="262.1,312.9 265.1,317 270.2,316.4 267.3,312.3" fill="#ff0500"/><polygon points="235.8,308.8 238.7,313 243.8,311.7 240.9,307.4" fill="#ff0500"/><polygon points="249,310.5 251.9,314.7 257,313.7 254.1,309.5" fill="#ff0500"/><polygon points="336,339 339,342.8 344,344 341,340.1" fill="#30ef00"/><polygon points="323,333.3 326,337.1 331,338 328,334.1" fill="#f1fa00"/><polygon points="309.9,328.2 312.8,332 317.9,332.6 314.9,328.7" fill="#ffb400"/><polygon points="296.7,323.6 299.6,327.5 304.8,327.8 301.8,323.8" fill="#ff5f00"/><polygon points="283.5,319.7 286.4,323.7 291.5,323.6 288.6,319.6" fill="#ff2300"/><polygon points="217.7,309.6 220.6,313.9 225.7,312 222.8,307.7" fill="#ff0500"/><polygon points="270.2,316.4 273.2,320.4 278.3,320 275.4,315.9" fill="#ff0500"/><polygon points="230.7,310.3 233.6,314.5 238.7,313 235.8,308.8" fill="#ff0500"/><polygon points="257,313.7 259.9,317.8 265.1,317 262.1,312.9" fill="#ff0500"/><polygon points="243.8,311.7 246.7,315.8 251.9,314.7 249,310.5" fill="#ff0500"/><polygon points="331,338 334,341.8 339,342.8 336,339" fill="#77f300"/><polygon points="317.9,332.6 320.9,336.4 326,337.1 323,333.3" fill="#fce000"/><polygon points="304.8,327.8 307.7,331.6 312.8,332 309.9,328.2" fill="#ff9200"/><polygon points="291.5,323.6 294.5,327.5 299.6,327.5 296.7,323.6" fill="#ff4500"/><polygon points="278.3,320 281.3,323.9 286.4,323.7 283.5,319.7" fill="#ff1700"/><polygon points="339,342.8 342,346.6 347,347.7 344,344" fill="#1ded00"/><polygon points="212.7,311.7 215.6,316 220.6,313.9 217.7,309.6" fill="#ff0500"/><polygon points="265.1,317 268,321 273.2,320.4 270.2,316.4" fill="#ff0500"/><polygon points="225.7,312 228.5,316.2 233.6,314.5 230.7,310.3" fill="#ff0500"/><polygon points="251.9,314.7 254.8,318.7 259.9,317.8 257,313.7" fill="#ff0500"/><polygon points="238.7,313 241.6,317.1 246.7,315.8 243.8,311.7" fill="#ff0500"/><polygon points="326,337.1 329,340.9 334,341.8 331,338" fill="#c8f800"/><polygon points="312.8,332 315.8,335.9 320.9,336.4 317.9,332.6" fill="#fec500"/><polygon points="299.6,327.5 302.6,331.4 307.7,331.6 304.8,327.8" fill="#ff7400"/><polygon points="286.4,323.7 289.4,327.6 294.5,327.5 291.5,323.6" fill="#ff3200"/><polygon points="207.7,314 210.5,318.3 215.6,316 212.7,311.7" fill="#ff0500"/><polygon points="273.2,320.4 276.1,324.4 281.3,323.9 278.3,320" fill="#ff0f00"/><polygon points="220.6,313.9 223.5,318.1 228.5,316.2 225.7,312" fill="#ff0500"/><polygon points="334,341.8 337,345.5 342,346.6 339,342.8" fill="#53f100"/><polygon points="259.9,317.8 262.8,321.8 268,321 265.1,317" fill="#ff0500"/><polygon points="233.6,314.5 236.5,318.7 241.6,317.1 238.7,313" fill="#ff0500"/><polygon points="246.7,315.8 249.6,319.9 254.8,318.7 251.9,314.7" fill="#ff0500"/><polygon points="320.9,336.4 323.9,340.2 329,340.9 326,337.1" fill="#fbef00"/><polygon points="307.7,331.6 310.7,335.5 315.8,335.9 312.8,332" fill="#ffa700"/><polygon points="294.5,327.5 297.5,331.3 302.6,331.4 299.6,327.5" fill="#ff5800"/><polygon points="342,346.6 345,350.3 350,351.5 347,347.7" fill="#0aec00"/><polygon points="281.3,323.9 284.2,327.8 289.4,327.6 286.4,323.7" fill="#ff2300"/><polygon points="202.7,316.5 205.6,320.8 210.5,318.3 207.7,314" fill="#ff0500"/><polygon points="268,321 270.9,325 276.1,324.4 273.2,320.4" fill="#ff0800"/><polygon points="215.6,316 218.4,320.2 223.5,318.1 220.6,313.9" fill="#ff0500"/><polygon points="254.8,318.7 257.7,322.8 262.8,321.8 259.9,317.8" fill="#ff0500"/><polygon points="228.5,316.2 231.4,320.4 236.5,318.7 233.6,314.5" fill="#ff0500"/><polygon points="241.6,317.1 244.5,321.2 249.6,319.9 246.7,315.8" fill="#ff0500"/><polygon points="329,340.9 331.9,344.6 337,345.5 334,341.8" fill="#a2f600"/><polygon points="315.8,335.9 318.8,339.6 323.9,340.2 320.9,336.4" fill="#fdd300"/><polygon points="302.6,331.4 305.6,335.2 310.7,335.5 307.7,331.6" fill="#ff8700"/><polygon points="289.4,327.6 292.3,331.4 297.5,331.3 294.5,327.5" fill="#ff4000"/><polygon points="197.8,319.2 200.6,323.5 205.6,320.8 202.7,316.5" fill="#ff0500"/><polygon points="337,345.5 340,349.2 345,350.3 342,346.6" fill="#37f000"/><polygon points="276.1,324.4 279,328.2 284.2,327.8 281.3,323.9" fill="#ff1800"/><polygon points="210.5,318.3 213.4,322.5 218.4,320.2 215.6,316" fill="#ff0500"/><polygon points="262.8,321.8 265.8,325.7 270.9,325 268,321" fill="#ff0500"/><polygon points="223.5,318.1 226.3,322.3 231.4,320.4 228.5,316.2" fill="#ff0500"/><polygon points="249.6,319.9 252.5,323.9 257.7,322.8 254.8,318.7" fill="#ff0500"/><polygon points="236.5,318.7 239.4,322.7 244.5,321.2 241.6,317.1" fill="#ff0500"/><polygon points="323.9,340.2 326.9,343.9 331.9,344.6 329,340.9" fill="#f3fa00"/><polygon points="310.7,335.5 313.7,339.2 318.8,339.6 315.8,335.9" fill="#ffb900"/><polygon points="297.5,331.3 300.4,335.1 305.6,335.2 302.6,331.4" fill="#ff6b00"/><polygon points="345,350.3 348,353.9 353,355.1 350,351.5" fill="#00eb01"/><polygon points="284.2,327.8 287.1,331.7 292.3,331.4 289.4,327.6" fill="#ff3100"/><polygon points="192.9,322.1 195.6,326.4 200.6,323.5 197.8,319.2" fill="#ff0500"/><polygon points="270.9,325 273.8,328.8 279,328.2 276.1,324.4" fill="#ff1100"/><polygon points="205.6,320.8 208.4,325 213.4,322.5 210.5,318.3" fill="#ff0500"/><polygon points="331.9,344.6 334.9,348.3 340,349.2 337,345.5" fill="#80f400"/><polygon points="257.7,322.8 260.6,326.7 265.8,325.7 262.8,321.8" fill="#ff0500"/><polygon points="218.4,320.2 221.2,324.4 226.3,322.3 223.5,318.1" fill="#ff0500"/><polygon points="244.5,321.2 247.4,325.2 252.5,323.9 249.6,319.9" fill="#ff0500"/><polygon points="231.4,320.4 234.3,324.4 239.4,322.7 236.5,318.7" fill="#ff0500"/><polygon points="318.8,339.6 321.7,343.3 326.9,343.9 323.9,340.2" fill="#fce100"/><polygon points="305.6,335.2 308.5,338.9 313.7,339.2 310.7,335.5" fill="#ff9a00"/><polygon points="292.3,331.4 295.2,335.2 300.4,335.1 297.5,331.3" fill="#ff5200"/><polygon points="340,349.2 343,352.8 348,353.9 345,350.3" fill="#26ee00"/><polygon points="188,325.3 190.7,329.5 195.6,326.4 192.9,322.1" fill="#ff0600"/><polygon points="279,328.2 281.9,332.1 287.1,331.7 284.2,327.8" fill="#ff2300"/><polygon points="200.6,323.5 203.4,327.7 208.4,325 205.6,320.8" fill="#ff0500"/><polygon points="265.8,325.7 268.7,329.6 273.8,328.8 270.9,325" fill="#ff0b00"/><polygon points="213.4,322.5 216.2,326.6 221.2,324.4 218.4,320.2" fill="#ff0500"/><polygon points="252.5,323.9 255.4,327.8 260.6,326.7 257.7,322.8" fill="#ff0500"/><polygon points="326.9,343.9 329.8,347.6 334.9,348.3 331.9,344.6" fill="#d0f800"/><polygon points="226.3,322.3 229.1,326.3 234.3,324.4 231.4,320.4" fill="#ff0500"/><polygon points="239.4,322.7 242.2,326.7 247.4,325.2 244.5,321.2" fill="#ff0500"/><polygon points="313.7,339.2 316.6,342.9 321.7,343.3 318.8,339.6" fill="#fec700"/><polygon points="348,353.9 351,357.5 356,358.7 353,355.1" fill="#00eb03"/><polygon points="300.4,335.1 303.3,338.8 308.5,338.9 305.6,335.2" fill="#ff7d00"/><polygon points="287.1,331.7 290,335.4 295.2,335.2 292.3,331.4" fill="#ff3d00"/><polygon points="334.9,348.3 337.9,351.9 343,352.8 340,349.2" fill="#62f200"/><polygon points="273.8,328.8 276.7,332.7 281.9,332.1 279,328.2" fill="#ff1a00"/><polygon points="195.6,326.4 198.4,330.6 203.4,327.7 200.6,323.5" fill="#ff0500"/><polygon points="260.6,326.7 263.5,330.6 268.7,329.6 265.8,325.7" fill="#ff0700"/><polygon points="208.4,325 211.1,329.1 216.2,326.6 213.4,322.5" fill="#ff0500"/><polygon points="247.4,325.2 250.2,329.1 255.4,327.8 252.5,323.9" fill="#ff0500"/><polygon points="221.2,324.4 224.1,328.4 229.1,326.3 226.3,322.3" fill="#ff0500"/><polygon points="234.3,324.4 237.1,328.4 242.2,326.7 239.4,322.7" fill="#ff0500"/><polygon points="321.7,343.3 324.7,347 329.8,347.6 326.9,343.9" fill="#fbed00"/><polygon points="308.5,338.9 311.5,342.6 316.6,342.9 313.7,339.2" fill="#ffab00"/><polygon points="343,352.8 345.9,356.4 351,357.5 348,353.9" fill="#16ed00"/><polygon points="295.2,335.2 298.2,338.9 303.3,338.8 300.4,335.1" fill="#ff6300"/><polygon points="281.9,332.1 284.9,335.8 290,335.4 287.1,331.7" fill="#ff3000"/><polygon points="190.7,329.5 193.5,333.7 198.4,330.6 195.6,326.4" fill="#ff1000"/><polygon points="329.8,347.6 332.8,351.2 337.9,351.9 334.9,348.3" fill="#aff600"/><polygon points="268.7,329.6 271.6,333.4 276.7,332.7 273.8,328.8" fill="#ff1300"/><polygon points="203.4,327.7 206.1,331.8 211.1,329.1 208.4,325" fill="#ff0500"/><polygon points="255.4,327.8 258.3,331.7 263.5,330.6 260.6,326.7" fill="#ff0500"/><polygon points="216.2,326.6 219,330.7 224.1,328.4 221.2,324.4" fill="#ff0500"/><polygon points="242.2,326.7 245.1,330.6 250.2,329.1 247.4,325.2" fill="#ff0500"/><polygon points="229.1,326.3 232,330.3 237.1,328.4 234.3,324.4" fill="#ff0500"/><polygon points="316.6,342.9 319.6,346.5 324.7,347 321.7,343.3" fill="#fdd300"/><polygon points="351,357.5 354,361 359,362.3 356,358.7" fill="#00eb06"/><polygon points="303.3,338.8 306.3,342.5 311.5,342.6 308.5,338.9" fill="#ff8e00"/><polygon points="290,335.4 293,339.1 298.2,338.9 295.2,335.2" fill="#ff4d00"/><polygon points="337.9,351.9 340.9,355.5 345.9,356.4 343,352.8" fill="#45f100"/><polygon points="276.7,332.7 279.6,336.4 284.9,335.8 281.9,332.1" fill="#ff2400"/><polygon points="263.5,330.6 266.4,334.3 271.6,333.4 268.7,329.6" fill="#ff0f00"/><polygon points="198.4,330.6 201.2,334.7 206.1,331.8 203.4,327.7" fill="#ff0c00"/><polygon points="324.7,347 327.7,350.5 332.8,351.2 329.8,347.6" fill="#faf900"/><polygon points="250.2,329.1 253.1,333 258.3,331.7 255.4,327.8" fill="#ff0500"/><polygon points="211.1,329.1 213.9,333.2 219,330.7 216.2,326.6" fill="#ff0500"/><polygon points="237.1,328.4 239.9,332.3 245.1,330.6 242.2,326.7" fill="#ff0500"/><polygon points="224.1,328.4 226.9,332.4 232,330.3 229.1,326.3" fill="#ff0500"/><polygon points="311.5,342.6 314.4,346.2 319.6,346.5 316.6,342.9" fill="#ffbb00"/><polygon points="345.9,356.4 348.9,359.9 354,361 351,357.5" fill="#08ec00"/><polygon points="298.2,338.9 301.1,342.5 306.3,342.5 303.3,338.8" fill="#ff7300"/><polygon points="284.9,335.8 287.8,339.5 293,339.1 290,335.4" fill="#ff3b00"/><polygon points="332.8,351.2 335.8,354.7 340.9,355.5 337.9,351.9" fill="#91f500"/><polygon points="271.6,333.4 274.4,337.1 279.6,336.4 276.7,332.7" fill="#ff1b00"/><polygon points="193.5,333.7 196.2,337.8 201.2,334.7 198.4,330.6" fill="#ff1900"/><polygon points="258.3,331.7 261.2,335.5 266.4,334.3 263.5,330.6" fill="#ff0b00"/><polygon points="206.1,331.8 208.9,335.8 213.9,333.2 211.1,329.1" fill="#ff0900"/><polygon points="245.1,330.6 247.9,334.5 253.1,333 250.2,329.1" fill="#ff0500"/><polygon points="319.6,346.5 322.5,350.1 327.7,350.5 324.7,347" fill="#fcdf00"/><polygon points="219,330.7 221.8,334.6 226.9,332.4 224.1,328.4" fill="#ff0500"/><polygon points="232,330.3 234.8,334.2 239.9,332.3 237.1,328.4" fill="#ff0500"/><polygon points="354,361 357,364.5 362,365.7 359,362.3" fill="#00eb08"/><polygon points="306.3,342.5 309.2,346.1 314.4,346.2 311.5,342.6" fill="#ff9d00"/><polygon points="340.9,355.5 343.8,359 348.9,359.9 345.9,356.4" fill="#33ef00"/><polygon points="293,339.1 295.9,342.8 301.1,342.5 298.2,338.9" fill="#ff5c00"/><polygon points="279.6,336.4 282.5,340.1 287.8,339.5 284.9,335.8" fill="#ff2f00"/><polygon points="327.7,350.5 330.6,354.1 335.8,354.7 332.8,351.2" fill="#def900"/><polygon points="266.4,334.3 269.2,338.1 274.4,337.1 271.6,333.4" fill="#ff1600"/><polygon points="253.1,333 256,336.7 261.2,335.5 258.3,331.7" fill="#ff0900"/><polygon points="201.2,334.7 203.9,338.7 208.9,335.8 206.1,331.8" fill="#ff1400"/><polygon points="239.9,332.3 242.8,336.1 247.9,334.5 245.1,330.6" fill="#ff0500"/><polygon points="213.9,333.2 216.7,337.1 221.8,334.6 219,330.7" fill="#ff0800"/><polygon points="226.9,332.4 229.7,336.3 234.8,334.2 232,330.3" fill="#ff0500"/><polygon points="314.4,346.2 317.3,349.8 322.5,350.1 319.6,346.5" fill="#fec600"/><polygon points="348.9,359.9 351.9,363.4 357,364.5 354,361" fill="#00eb01"/><polygon points="301.1,342.5 304,346.1 309.2,346.1 306.3,342.5" fill="#ff8200"/><polygon points="335.8,354.7 338.7,358.2 343.8,359 340.9,355.5" fill="#77f300"/><polygon points="287.8,339.5 290.7,343.1 295.9,342.8 293,339.1" fill="#ff4800"/><polygon points="274.4,337.1 277.3,340.8 282.5,340.1 279.6,336.4" fill="#ff2500"/><polygon points="322.5,350.1 325.5,353.6 330.6,354.1 327.7,350.5" fill="#fbe900"/><polygon points="261.2,335.5 264,339.2 269.2,338.1 266.4,334.3" fill="#ff1300"/><polygon points="357,364.5 359.9,367.9 365,369.2 362,365.7" fill="#00eb0a"/><polygon points="196.2,337.8 198.9,341.8 203.9,338.7 201.2,334.7" fill="#ff2300"/><polygon points="247.9,334.5 250.8,338.2 256,336.7 253.1,333" fill="#ff0900"/><polygon points="208.9,335.8 211.7,339.8 216.7,337.1 213.9,333.2" fill="#ff1100"/><polygon points="234.8,334.2 237.6,338 242.8,336.1 239.9,332.3" fill="#ff0500"/><polygon points="221.8,334.6 224.6,338.5 229.7,336.3 226.9,332.4" fill="#ff0800"/><polygon points="309.2,346.1 312.1,349.6 317.3,349.8 314.4,346.2" fill="#ffac00"/><polygon points="343.8,359 346.8,362.4 351.9,363.4 348.9,359.9" fill="#26ee00"/><polygon points="295.9,342.8 298.8,346.3 304,346.1 301.1,342.5" fill="#ff6a00"/><polygon points="282.5,340.1 285.4,343.7 290.7,343.1 287.8,339.5" fill="#ff3900"/><polygon points="330.6,354.1 333.6,357.5 338.7,358.2 335.8,354.7" fill="#c3f700"/><polygon points="269.2,338.1 272.1,341.7 277.3,340.8 274.4,337.1" fill="#ff1e00"/><polygon points="256,336.7 258.8,340.4 264,339.2 261.2,335.5" fill="#ff1000"/><polygon points="317.3,349.8 320.3,353.2 325.5,353.6 322.5,350.1" fill="#fdd000"/><polygon points="351.9,363.4 354.9,366.8 359.9,367.9 357,364.5" fill="#00eb03"/><polygon points="242.8,336.1 245.6,339.9 250.8,338.2 247.9,334.5" fill="#ff0a00"/><polygon points="203.9,338.7 206.6,342.7 211.7,339.8 208.9,335.8" fill="#ff1c00"/><polygon points="229.7,336.3 232.5,340.1 237.6,338 234.8,334.2" fill="#ff0a00"/><polygon points="216.7,337.1 219.5,341 224.6,338.5 221.8,334.6" fill="#ff1000"/><polygon points="304,346.1 306.9,349.6 312.1,349.6 309.2,346.1" fill="#ff9000"/><polygon points="338.7,358.2 341.7,361.6 346.8,362.4 343.8,359" fill="#5ff200"/><polygon points="290.7,343.1 293.6,346.7 298.8,346.3 295.9,342.8" fill="#ff5600"/><polygon points="277.3,340.8 280.2,344.4 285.4,343.7 282.5,340.1" fill="#ff2f00"/><polygon points="359.9,367.9 362.9,371.3 368,372.6 365,369.2" fill="#00eb0c"/><polygon points="325.5,353.6 328.4,357 333.6,357.5 330.6,354.1" fill="#fbf300"/><polygon points="264,339.2 266.9,342.8 272.1,341.7 269.2,338.1" fill="#ff1900"/><polygon points="250.8,338.2 253.6,341.9 258.8,340.4 256,336.7" fill="#ff1000"/><polygon points="198.9,341.8 201.6,345.7 206.6,342.7 203.9,338.7" fill="#ff2e00"/><polygon points="237.6,338 240.4,341.7 245.6,339.9 242.8,336.1" fill="#ff0c00"/><polygon points="312.1,349.6 315.1,353.1 320.3,353.2 317.3,349.8" fill="#ffb900"/><polygon points="211.7,339.8 214.4,343.6 219.5,341 216.7,337.1" fill="#ff1900"/><polygon points="224.6,338.5 227.3,342.3 232.5,340.1 229.7,336.3" fill="#ff0f00"/><polygon points="346.8,362.4 349.8,365.8 354.9,366.8 351.9,363.4" fill="#1aed00"/><polygon points="298.8,346.3 301.7,349.8 306.9,349.6 304,346.1" fill="#ff7800"/><polygon points="333.6,357.5 336.5,360.9 341.7,361.6 338.7,358.2" fill="#aaf600"/><polygon points="285.4,343.7 288.3,347.2 293.6,346.7 290.7,343.1" fill="#ff4400"/><polygon points="272.1,341.7 275,345.3 280.2,344.4 277.3,340.8" fill="#ff2700"/><polygon points="354.9,366.8 357.8,370.1 362.9,371.3 359.9,367.9" fill="#00eb05"/><polygon points="320.3,353.2 323.2,356.7 328.4,357 325.5,353.6" fill="#fcda00"/><polygon points="258.8,340.4 261.6,344.1 266.9,342.8 264,339.2" fill="#ff1700"/><polygon points="245.6,339.9 248.4,343.6 253.6,341.9 250.8,338.2" fill="#ff1100"/><polygon points="232.5,340.1 235.2,343.8 240.4,341.7 237.6,338" fill="#ff1000"/><polygon points="206.6,342.7 209.3,346.5 214.4,343.6 211.7,339.8" fill="#ff2700"/><polygon points="219.5,341 222.2,344.8 227.3,342.3 224.6,338.5" fill="#ff1600"/><polygon points="306.9,349.6 309.8,353.1 315.1,353.1 312.1,349.6" fill="#ff9d00"/><polygon points="341.7,361.6 344.6,364.9 349.8,365.8 346.8,362.4" fill="#4af100"/><polygon points="293.6,346.7 296.5,350.2 301.7,349.8 298.8,346.3" fill="#ff6200"/><polygon points="362.9,371.3 365.9,374.6 370.9,375.9 368,372.6" fill="#00eb0d"/><polygon points="328.4,357 331.4,360.4 336.5,360.9 333.6,357.5" fill="#f5fa00"/><polygon points="280.2,344.4 283.1,347.9 288.3,347.2 285.4,343.7" fill="#ff3800"/><polygon points="266.9,342.8 269.7,346.4 275,345.3 272.1,341.7" fill="#ff2100"/><polygon points="253.6,341.9 256.4,345.5 261.6,344.1 258.8,340.4" fill="#ff1600"/><polygon points="315.1,353.1 318,356.5 323.2,356.7 320.3,353.2" fill="#fec200"/><polygon points="349.8,365.8 352.7,369.1 357.8,370.1 354.9,366.8" fill="#0eec00"/><polygon points="240.4,341.7 243.2,345.4 248.4,343.6 245.6,339.9" fill="#ff1300"/><polygon points="201.6,345.7 204.3,349.6 209.3,346.5 206.6,342.7" fill="#ff3800"/><polygon points="227.3,342.3 230.1,346 235.2,343.8 232.5,340.1" fill="#ff1600"/><polygon points="214.4,343.6 217.1,347.4 222.2,344.8 219.5,341" fill="#ff2100"/><polygon points="301.7,349.8 304.6,353.2 309.8,353.1 306.9,349.6" fill="#ff8400"/><polygon points="336.5,360.9 339.5,364.2 344.6,364.9 341.7,361.6" fill="#93f500"/><polygon points="288.3,347.2 291.2,350.7 296.5,350.2 293.6,346.7" fill="#ff5000"/><polygon points="357.8,370.1 360.8,373.4 365.9,374.6 362.9,371.3" fill="#00eb06"/><polygon points="275,345.3 277.8,348.8 283.1,347.9 280.2,344.4" fill="#ff3000"/><polygon points="323.2,356.7 326.1,360 331.4,360.4 328.4,357" fill="#fce200"/><polygon points="261.6,344.1 264.5,347.6 269.7,346.4 266.9,342.8" fill="#ff1d00"/><polygon points="248.4,343.6 251.2,347.2 256.4,345.5 253.6,341.9" fill="#ff1600"/><polygon points="309.8,353.1 312.8,356.5 318,356.5 315.1,353.1" fill="#ffa900"/><polygon points="235.2,343.8 238,347.4 243.2,345.4 240.4,341.7" fill="#ff1600"/><polygon points="344.6,364.9 347.6,368.2 352.7,369.1 349.8,365.8" fill="#39f000"/><polygon points="222.2,344.8 225,348.5 230.1,346 227.3,342.3" fill="#ff1d00"/><polygon points="209.3,346.5 212.1,350.3 217.1,347.4 214.4,343.6" fill="#ff3000"/><polygon points="296.5,350.2 299.3,353.6 304.6,353.2 301.7,349.8" fill="#ff6e00"/><polygon points="365.9,374.6 368.9,377.8 373.9,379.2 370.9,375.9" fill="#00eb0f"/><polygon points="331.4,360.4 334.3,363.7 339.5,364.2 336.5,360.9" fill="#dff900"/><polygon points="283.1,347.9 285.9,351.4 291.2,350.7 288.3,347.2" fill="#ff4100"/><polygon points="269.7,346.4 272.6,349.9 277.8,348.8 275,345.3" fill="#ff2900"/><polygon points="352.7,369.1 355.7,372.3 360.8,373.4 357.8,370.1" fill="#04eb00"/><polygon points="318,356.5 320.9,359.8 326.1,360 323.2,356.7" fill="#feca00"/><polygon points="256.4,345.5 259.2,349.1 264.5,347.6 261.6,344.1" fill="#ff1c00"/><polygon points="243.2,345.4 246,349 251.2,347.2 248.4,343.6" fill="#ff1800"/><polygon points="230.1,346 232.8,349.7 238,347.4 235.2,343.8" fill="#ff1c00"/><polygon points="204.3,349.6 207,353.4 212.1,350.3 209.3,346.5" fill="#ff4300"/><polygon points="304.6,353.2 307.5,356.6 312.8,356.5 309.8,353.1" fill="#ff8f00"/><polygon points="217.1,347.4 219.8,351.1 225,348.5 222.2,344.8" fill="#ff2a00"/><polygon points="339.5,364.2 342.4,367.5 347.6,368.2 344.6,364.9" fill="#80f400"/><polygon points="291.2,350.7 294.1,354.1 299.3,353.6 296.5,350.2" fill="#ff5b00"/><polygon points="360.8,373.4 363.8,376.6 368.9,377.8 365.9,374.6" fill="#00eb08"/><polygon points="326.1,360 329.1,363.3 334.3,363.7 331.4,360.4" fill="#fbea00"/><polygon points="277.8,348.8 280.7,352.2 285.9,351.4 283.1,347.9" fill="#ff3700"/><polygon points="264.5,347.6 267.3,351.1 272.6,349.9 269.7,346.4" fill="#ff2500"/><polygon points="347.6,368.2 350.6,371.5 355.7,372.3 352.7,369.1" fill="#2fef00"/><polygon points="312.8,356.5 315.7,359.8 320.9,359.8 318,356.5" fill="#ffb300"/><polygon points="251.2,347.2 254,350.7 259.2,349.1 256.4,345.5" fill="#ff1c00"/><polygon points="238,347.4 240.8,351 246,349 243.2,345.4" fill="#ff1c00"/><polygon points="225,348.5 227.7,352.1 232.8,349.7 230.1,346" fill="#ff2500"/><polygon points="368.9,377.8 371.9,381 376.9,382.4 373.9,379.2" fill="#00eb10"/><polygon points="212.1,350.3 214.8,354 219.8,351.1 217.1,347.4" fill="#ff3800"/><polygon points="299.3,353.6 302.2,356.9 307.5,356.6 304.6,353.2" fill="#ff7800"/><polygon points="334.3,363.7 337.2,367 342.4,367.5 339.5,364.2" fill="#cbf800"/><polygon points="285.9,351.4 288.8,354.8 294.1,354.1 291.2,350.7" fill="#ff4b00"/><polygon points="355.7,372.3 358.7,375.6 363.8,376.6 360.8,373.4" fill="#00eb01"/><polygon points="272.6,349.9 275.4,353.3 280.7,352.2 277.8,348.8" fill="#ff3100"/><polygon points="320.9,359.8 323.8,363.1 329.1,363.3 326.1,360" fill="#fdd200"/><polygon points="259.2,349.1 262,352.5 267.3,351.1 264.5,347.6" fill="#ff2300"/><polygon points="246,349 248.8,352.5 254,350.7 251.2,347.2" fill="#ff1e00"/><polygon points="307.5,356.6 310.4,359.9 315.7,359.8 312.8,356.5" fill="#ff9900"/><polygon points="342.4,367.5 345.4,370.7 350.6,371.5 347.6,368.2" fill="#6ff300"/><polygon points="232.8,349.7 235.6,353.2 240.8,351 238,347.4" fill="#ff2300"/><polygon points="219.8,351.1 222.6,354.7 227.7,352.1 225,348.5" fill="#ff3100"/><polygon points="207,353.4 209.7,357 214.8,354 212.1,350.3" fill="#ff4e00"/><polygon points="363.8,376.6 366.8,379.8 371.9,381 368.9,377.8" fill="#00eb09"/><polygon points="294.1,354.1 297,357.4 302.2,356.9 299.3,353.6" fill="#ff6500"/><polygon points="329.1,363.3 332,366.6 337.2,367 334.3,363.7" fill="#fbf100"/><polygon points="280.7,352.2 283.5,355.6 288.8,354.8 285.9,351.4" fill="#ff3e00"/><polygon points="350.6,371.5 353.5,374.7 358.7,375.6 355.7,372.3" fill="#26ee00"/><polygon points="267.3,351.1 270.1,354.5 275.4,353.3 272.6,349.9" fill="#ff2c00"/><polygon points="315.7,359.8 318.6,363.1 323.8,363.1 320.9,359.8" fill="#ffbc00"/><polygon points="371.9,381 374.9,384.2 379.9,385.6 376.9,382.4" fill="#00eb12"/><polygon points="254,350.7 256.8,354.1 262,352.5 259.2,349.1" fill="#ff2300"/><polygon points="240.8,351 243.5,354.5 248.8,352.5 246,349" fill="#ff2300"/><polygon points="302.2,356.9 305.1,360.2 310.4,359.9 307.5,356.6" fill="#ff8200"/><polygon points="227.7,352.1 230.4,355.7 235.6,353.2 232.8,349.7" fill="#ff2d00"/><polygon points="337.2,367 340.2,370.2 345.4,370.7 342.4,367.5" fill="#b9f700"/><polygon points="214.8,354 217.4,357.6 222.6,354.7 219.8,351.1" fill="#ff4100"/><polygon points="288.8,354.8 291.7,358.1 297,357.4 294.1,354.1" fill="#ff5400"/><polygon points="358.7,375.6 361.7,378.7 366.8,379.8 363.8,376.6" fill="#00eb02"/><polygon points="323.8,363.1 326.8,366.3 332,366.6 329.1,363.3" fill="#fdd800"/><polygon points="275.4,353.3 278.2,356.6 283.5,355.6 280.7,352.2" fill="#ff3700"/><polygon points="262,352.5 264.8,355.9 270.1,354.5 267.3,351.1" fill="#ff2900"/><polygon points="345.4,370.7 348.3,373.9 353.5,374.7 350.6,371.5" fill="#60f200"/><polygon points="310.4,359.9 313.3,363.2 318.6,363.1 315.7,359.8" fill="#ffa200"/><polygon points="248.8,352.5 251.5,355.9 256.8,354.1 254,350.7" fill="#ff2500"/><polygon points="366.8,379.8 369.8,382.9 374.9,384.2 371.9,381" fill="#00eb0a"/><polygon points="235.6,353.2 238.3,356.7 243.5,354.5 240.8,351" fill="#ff2a00"/><polygon points="222.6,354.7 225.3,358.3 230.4,355.7 227.7,352.1" fill="#ff3800"/><polygon points="209.7,357 212.4,360.6 217.4,357.6 214.8,354" fill="#ff5800"/><polygon points="297,357.4 299.8,360.7 305.1,360.2 302.2,356.9" fill="#ff6d00"/><polygon points="332,366.6 335,369.7 340.2,370.2 337.2,367" fill="#faf700"/><polygon points="283.5,355.6 286.4,358.9 291.7,358.1 288.8,354.8" fill="#ff4700"/><polygon points="353.5,374.7 356.5,377.8 361.7,378.7 358.7,375.6" fill="#1fee00"/><polygon points="318.6,363.1 321.5,366.2 326.8,366.3 323.8,363.1" fill="#fec200"/><polygon points="270.1,354.5 272.9,357.8 278.2,356.6 275.4,353.3" fill="#ff3200"/><polygon points="374.9,384.2 377.8,387.3 382.9,388.7 379.9,385.6" fill="#00eb13"/><polygon points="256.8,354.1 259.6,357.5 264.8,355.9 262,352.5" fill="#ff2900"/><polygon points="305.1,360.2 308,363.4 313.3,363.2 310.4,359.9" fill="#ff8a00"/><polygon points="340.2,370.2 343.1,373.3 348.3,373.9 345.4,370.7" fill="#a9f600"/><polygon points="243.5,354.5 246.3,357.9 251.5,355.9 248.8,352.5" fill="#ff2900"/><polygon points="230.4,355.7 233.1,359.1 238.3,356.7 235.6,353.2" fill="#ff3300"/><polygon points="217.4,357.6 220.1,361.1 225.3,358.3 222.6,354.7" fill="#ff4a00"/><polygon points="361.7,378.7 364.6,381.8 369.8,382.9 366.8,379.8" fill="#00eb03"/><polygon points="291.7,358.1 294.5,361.3 299.8,360.7 297,357.4" fill="#ff5c00"/><polygon points="326.8,366.3 329.7,369.5 335,369.7 332,366.6" fill="#fcde00"/><polygon points="278.2,356.6 281.1,359.9 286.4,358.9 283.5,355.6" fill="#ff3d00"/><polygon points="348.3,373.9 351.3,377 356.5,377.8 353.5,374.7" fill="#52f100"/><polygon points="264.8,355.9 267.6,359.2 272.9,357.8 270.1,354.5" fill="#ff2f00"/><polygon points="313.3,363.2 316.2,366.3 321.5,366.2 318.6,363.1" fill="#ffaa00"/><polygon points="369.8,382.9 372.7,386 377.8,387.3 374.9,384.2" fill="#00eb0b"/><polygon points="251.5,355.9 254.3,359.3 259.6,357.5 256.8,354.1" fill="#ff2b00"/><polygon points="238.3,356.7 241.1,360.1 246.3,357.9 243.5,354.5" fill="#ff3000"/><polygon points="299.8,360.7 302.7,363.9 308,363.4 305.1,360.2" fill="#ff7500"/><polygon points="335,369.7 337.9,372.9 343.1,373.3 340.2,370.2" fill="#f3fa00"/><polygon points="225.3,358.3 228,361.7 233.1,359.1 230.4,355.7" fill="#ff3e00"/><polygon points="212.4,360.6 215,364.1 220.1,361.1 217.4,357.6" fill="#ff6100"/><polygon points="356.5,377.8 359.5,380.9 364.6,381.8 361.7,378.7" fill="#18ed00"/><polygon points="286.4,358.9 289.2,362.1 294.5,361.3 291.7,358.1" fill="#ff4e00"/><polygon points="377.8,387.3 380.8,390.3 385.9,391.7 382.9,388.7" fill="#00eb14"/><polygon points="321.5,366.2 324.4,369.4 329.7,369.5 326.8,366.3" fill="#fec700"/><polygon points="272.9,357.8 275.8,361.1 281.1,359.9 278.2,356.6" fill="#ff3700"/><polygon points="259.6,357.5 262.4,360.8 267.6,359.2 264.8,355.9" fill="#ff2e00"/><polygon points="343.1,373.3 346.1,376.4 351.3,377 348.3,373.9" fill="#9bf500"/><polygon points="308,363.4 310.9,366.6 316.2,366.3 313.3,363.2" fill="#ff9100"/><polygon points="246.3,357.9 249,361.3 254.3,359.3 251.5,355.9" fill="#ff2e00"/><polygon points="364.6,381.8 367.6,384.9 372.7,386 369.8,382.9" fill="#00eb04"/><polygon points="233.1,359.1 235.9,362.5 241.1,360.1 238.3,356.7" fill="#ff3800"/><polygon points="294.5,361.3 297.4,364.5 302.7,363.9 299.8,360.7" fill="#ff6300"/><polygon points="220.1,361.1 222.8,364.5 228,361.7 225.3,358.3" fill="#ff5200"/><polygon points="329.7,369.5 332.6,372.6 337.9,372.9 335,369.7" fill="#fce300"/><polygon points="281.1,359.9 283.9,363.1 289.2,362.1 286.4,358.9" fill="#ff4300"/><polygon points="351.3,377 354.3,380.1 359.5,380.9 356.5,377.8" fill="#46f100"/><polygon points="316.2,366.3 319.1,369.5 324.4,369.4 321.5,366.2" fill="#ffb000"/><polygon points="372.7,386 375.7,389 380.8,390.3 377.8,387.3" fill="#00eb0c"/><polygon points="267.6,359.2 270.4,362.5 275.8,361.1 272.9,357.8" fill="#ff3400"/><polygon points="254.3,359.3 257.1,362.6 262.4,360.8 259.6,357.5" fill="#ff3000"/><polygon points="337.9,372.9 340.8,375.9 346.1,376.4 343.1,373.3" fill="#e6f900"/><polygon points="302.7,363.9 305.6,367 310.9,366.6 308,363.4" fill="#ff7b00"/><polygon points="241.1,360.1 243.8,363.5 249,361.3 246.3,357.9" fill="#ff3500"/><polygon points="228,361.7 230.7,365.1 235.9,362.5 233.1,359.1" fill="#ff4500"/><polygon points="359.5,380.9 362.4,383.9 367.6,384.9 364.6,381.8" fill="#12ec00"/><polygon points="215,364.1 217.7,367.6 222.8,364.5 220.1,361.1" fill="#ff6800"/><polygon points="380.8,390.3 383.8,393.3 388.9,394.8 385.9,391.7" fill="#00eb19"/><polygon points="289.2,362.1 292.1,365.3 297.4,364.5 294.5,361.3" fill="#ff5400"/><polygon points="324.4,369.4 327.3,372.5 332.6,372.6 329.7,369.5" fill="#fecc00"/><polygon points="275.8,361.1 278.6,364.3 283.9,363.1 281.1,359.9" fill="#ff3c00"/><polygon points="346.1,376.4 349,379.4 354.3,380.1 351.3,377" fill="#90f500"/><polygon points="310.9,366.6 313.8,369.7 319.1,369.5 316.2,366.3" fill="#ff9700"/><polygon points="262.4,360.8 265.1,364.1 270.4,362.5 267.6,359.2" fill="#ff3300"/><polygon points="367.6,384.9 370.6,387.8 375.7,389 372.7,386" fill="#00eb05"/><polygon points="249,361.3 251.8,364.6 257.1,362.6 254.3,359.3" fill="#ff3300"/><polygon points="297.4,364.5 300.2,367.6 305.6,367 302.7,363.9" fill="#ff6900"/><polygon points="332.6,372.6 335.5,375.6 340.8,375.9 337.9,372.9" fill="#fbe800"/><polygon points="235.9,362.5 238.6,365.8 243.8,363.5 241.1,360.1" fill="#ff3d00"/><polygon points="222.8,364.5 225.5,367.9 230.7,365.1 228,361.7" fill="#ff5800"/><polygon points="354.3,380.1 357.2,383 362.4,383.9 359.5,380.9" fill="#3cf000"/><polygon points="283.9,363.1 286.7,366.3 292.1,365.3 289.2,362.1" fill="#ff4900"/><polygon points="375.7,389 378.7,392 383.8,393.3 380.8,390.3" fill="#00eb0d"/><polygon points="319.1,369.5 322,372.5 327.3,372.5 324.4,369.4" fill="#ffb600"/><polygon points="270.4,362.5 273.2,365.7 278.6,364.3 275.8,361.1" fill="#ff3800"/><polygon points="340.8,375.9 343.8,378.9 349,379.4 346.1,376.4" fill="#dbf800"/><polygon points="257.1,362.6 259.8,365.8 265.1,364.1 262.4,360.8" fill="#ff3400"/><polygon points="305.6,367 308.5,370.1 313.8,369.7 310.9,366.6" fill="#ff8100"/><polygon points="362.4,383.9 365.4,386.8 370.6,387.8 367.6,384.9" fill="#0dec00"/><polygon points="243.8,363.5 246.5,366.7 251.8,364.6 249,361.3" fill="#ff3900"/><polygon points="230.7,365.1 233.3,368.4 238.6,365.8 235.9,362.5" fill="#ff4b00"/><polygon points="292.1,365.3 294.9,368.4 300.2,367.6 297.4,364.5" fill="#ff5a00"/><polygon points="327.3,372.5 330.2,375.5 335.5,375.6 332.6,372.6" fill="#fdd000"/><polygon points="217.7,367.6 220.3,370.9 225.5,367.9 222.8,364.5" fill="#ff6e00"/><polygon points="278.6,364.3 281.4,367.4 286.7,366.3 283.9,363.1" fill="#ff4000"/><polygon points="349,379.4 352,382.4 357.2,383 354.3,380.1" fill="#87f400"/><polygon points="370.6,387.8 373.6,390.8 378.7,392 375.7,389" fill="#00eb06"/><polygon points="313.8,369.7 316.7,372.7 322,372.5 319.1,369.5" fill="#ff9c00"/><polygon points="265.1,364.1 267.9,367.2 273.2,365.7 270.4,362.5" fill="#ff3600"/><polygon points="251.8,364.6 254.5,367.8 259.8,365.8 257.1,362.6" fill="#ff3700"/><polygon points="335.5,375.6 338.5,378.6 343.8,378.9 340.8,375.9" fill="#fbeb00"/><polygon points="300.2,367.6 303.1,370.7 308.5,370.1 305.6,367" fill="#ff6d00"/><polygon points="238.6,365.8 241.3,369.1 246.5,366.7 243.8,363.5" fill="#ff4200"/><polygon points="357.2,383 360.2,386 365.4,386.8 362.4,383.9" fill="#38f000"/><polygon points="225.5,367.9 228.1,371.2 233.3,368.4 230.7,365.1" fill="#ff5d00"/><polygon points="286.7,366.3 289.5,369.4 294.9,368.4 292.1,365.3" fill="#ff4d00"/><polygon points="322,372.5 324.9,375.5 330.2,375.5 327.3,372.5" fill="#ffba00"/><polygon points="273.2,365.7 276,368.8 281.4,367.4 278.6,364.3" fill="#ff3b00"/><polygon points="343.8,378.9 346.7,381.9 352,382.4 349,379.4" fill="#d3f800"/><polygon points="308.5,370.1 311.3,373.1 316.7,372.7 313.8,369.7" fill="#ff8500"/><polygon points="365.4,386.8 368.4,389.7 373.6,390.8 370.6,387.8" fill="#09ec00"/><polygon points="259.8,365.8 262.6,369 267.9,367.2 265.1,364.1" fill="#ff3700"/><polygon points="246.5,366.7 249.2,369.9 254.5,367.8 251.8,364.6" fill="#ff3c00"/><polygon points="330.2,375.5 333.1,378.4 338.5,378.6 335.5,375.6" fill="#fdd300"/><polygon points="294.9,368.4 297.7,371.4 303.1,370.7 300.2,367.6" fill="#ff5e00"/><polygon points="233.3,368.4 236,371.6 241.3,369.1 238.6,365.8" fill="#ff5000"/><polygon points="220.3,370.9 223,374.2 228.1,371.2 225.5,367.9" fill="#ff7300"/><polygon points="352,382.4 354.9,385.3 360.2,386 357.2,383" fill="#80f400"/><polygon points="281.4,367.4 284.2,370.5 289.5,369.4 286.7,366.3" fill="#ff4400"/><polygon points="316.7,372.7 319.6,375.7 324.9,375.5 322,372.5" fill="#ffa000"/><polygon points="267.9,367.2 270.7,370.3 276,368.8 273.2,365.7" fill="#ff3900"/><polygon points="338.5,378.6 341.4,381.5 346.7,381.9 343.8,378.9" fill="#fbee00"/><polygon points="303.1,370.7 306,373.7 311.3,373.1 308.5,370.1" fill="#ff7100"/><polygon points="254.5,367.8 257.3,370.9 262.6,369 259.8,365.8" fill="#ff3900"/><polygon points="360.2,386 363.1,388.9 368.4,389.7 365.4,386.8" fill="#34ef00"/><polygon points="241.3,369.1 244,372.2 249.2,369.9 246.5,366.7" fill="#ff4500"/><polygon points="289.5,369.4 292.4,372.4 297.7,371.4 294.9,368.4" fill="#ff5100"/><polygon points="228.1,371.2 230.8,374.4 236,371.6 233.3,368.4" fill="#ff6100"/><polygon points="324.9,375.5 327.8,378.4 333.1,378.4 330.2,375.5" fill="#ffbd00"/><polygon points="346.7,381.9 349.6,384.7 354.9,385.3 352,382.4" fill="#ccf800"/><polygon points="276,368.8 278.8,371.8 284.2,370.5 281.4,367.4" fill="#ff3d00"/><polygon points="311.3,373.1 314.2,376 319.6,375.7 316.7,372.7" fill="#ff8800"/><polygon points="262.6,369 265.3,372 270.7,370.3 267.9,367.2" fill="#ff3900"/><polygon points="333.1,378.4 336.1,381.3 341.4,381.5 338.5,378.6" fill="#fdd500"/><polygon points="249.2,369.9 252,373 257.3,370.9 254.5,367.8" fill="#ff3e00"/><polygon points="297.7,371.4 300.6,374.4 306,373.7 303.1,370.7" fill="#ff6100"/><polygon points="354.9,385.3 357.9,388.1 363.1,388.9 360.2,386" fill="#7af300"/><polygon points="236,371.6 238.7,374.8 244,372.2 241.3,369.1" fill="#ff5300"/><polygon points="223,374.2 225.6,377.4 230.8,374.4 228.1,371.2" fill="#ff7600"/><polygon points="284.2,370.5 287,373.5 292.4,372.4 289.5,369.4" fill="#ff4700"/><polygon points="319.6,375.7 322.4,378.6 327.8,378.4 324.9,375.5" fill="#ffa300"/><polygon points="270.7,370.3 273.5,373.3 278.8,371.8 276,368.8" fill="#ff3b00"/><polygon points="341.4,381.5 344.3,384.4 349.6,384.7 346.7,381.9" fill="#fbf000"/><polygon points="306,373.7 308.8,376.6 314.2,376 311.3,373.1" fill="#ff7400"/><polygon points="257.3,370.9 260,373.9 265.3,372 262.6,369" fill="#ff3b00"/><polygon points="244,372.2 246.7,375.3 252,373 249.2,369.9" fill="#ff4800"/><polygon points="327.8,378.4 330.7,381.3 336.1,381.3 333.1,378.4" fill="#ffbe00"/><polygon points="292.4,372.4 295.2,375.3 300.6,374.4 297.7,371.4" fill="#ff5300"/><polygon points="230.8,374.4 233.5,377.5 238.7,374.8 236,371.6" fill="#ff6400"/><polygon points="349.6,384.7 352.6,387.6 357.9,388.1 354.9,385.3" fill="#c7f700"/><polygon points="278.8,371.8 281.6,374.8 287,373.5 284.2,370.5" fill="#ff4000"/><polygon points="314.2,376 317.1,378.9 322.4,378.6 319.6,375.7" fill="#ff8b00"/><polygon points="265.3,372 268.1,375 273.5,373.3 270.7,370.3" fill="#ff3b00"/><polygon points="336.1,381.3 339,384.2 344.3,384.4 341.4,381.5" fill="#fdd700"/><polygon points="300.6,374.4 303.4,377.3 308.8,376.6 306,373.7" fill="#ff6300"/><polygon points="252,373 254.7,376 260,373.9 257.3,370.9" fill="#ff4000"/><polygon points="238.7,374.8 241.4,377.9 246.7,375.3 244,372.2" fill="#ff5500"/><polygon points="287,373.5 289.8,376.4 295.2,375.3 292.4,372.4" fill="#ff4800"/><polygon points="322.4,378.6 325.3,381.4 330.7,381.3 327.8,378.4" fill="#ffa500"/><polygon points="225.6,377.4 228.2,380.5 233.5,377.5 230.8,374.4" fill="#ff7800"/><polygon points="344.3,384.4 347.3,387.2 352.6,387.6 349.6,384.7" fill="#fbf100"/><polygon points="273.5,373.3 276.2,376.3 281.6,374.8 278.8,371.8" fill="#ff3c00"/><polygon points="308.8,376.6 311.7,379.4 317.1,378.9 314.2,376" fill="#ff7500"/><polygon points="260,373.9 262.7,376.9 268.1,375 265.3,372" fill="#ff3c00"/><polygon points="330.7,381.3 333.6,384.1 339,384.2 336.1,381.3" fill="#fec000"/><polygon points="246.7,375.3 249.4,378.3 254.7,376 252,373" fill="#ff4a00"/><polygon points="295.2,375.3 298,378.2 303.4,377.3 300.6,374.4" fill="#ff5400"/><polygon points="233.5,377.5 236.1,380.6 241.4,377.9 238.7,374.8" fill="#ff6500"/><polygon points="281.6,374.8 284.4,377.7 289.8,376.4 287,373.5" fill="#ff4100"/><polygon points="317.1,378.9 319.9,381.7 325.3,381.4 322.4,378.6" fill="#ff8c00"/><polygon points="339,384.2 341.9,386.9 347.3,387.2 344.3,384.4" fill="#fdd800"/><polygon points="268.1,375 270.8,377.9 276.2,376.3 273.5,373.3" fill="#ff3b00"/><polygon points="303.4,377.3 306.3,380.1 311.7,379.4 308.8,376.6" fill="#ff6300"/><polygon points="254.7,376 257.4,379 262.7,376.9 260,373.9" fill="#ff4100"/><polygon points="325.3,381.4 328.2,384.2 333.6,384.1 330.7,381.3" fill="#ffa600"/><polygon points="241.4,377.9 244.1,380.8 249.4,378.3 246.7,375.3" fill="#ff5600"/><polygon points="289.8,376.4 292.6,379.3 298,378.2 295.2,375.3" fill="#ff4900"/><polygon points="228.2,380.5 230.9,383.5 236.1,380.6 233.5,377.5" fill="#ff7900"/><polygon points="276.2,376.3 279,379.1 284.4,377.7 281.6,374.8" fill="#ff3d00"/><polygon points="311.7,379.4 314.5,382.2 319.9,381.7 317.1,378.9" fill="#ff7600"/><polygon points="262.7,376.9 265.5,379.8 270.8,377.9 268.1,375" fill="#ff3d00"/><polygon points="333.6,384.1 336.5,386.9 341.9,386.9 339,384.2" fill="#fec000"/><polygon points="298,378.2 300.8,381 306.3,380.1 303.4,377.3" fill="#ff5500"/><polygon points="249.4,378.3 252,381.3 257.4,379 254.7,376" fill="#ff4a00"/><polygon points="236.1,380.6 238.8,383.5 244.1,380.8 241.4,377.9" fill="#ff6600"/><polygon points="319.9,381.7 322.8,384.5 328.2,384.2 325.3,381.4" fill="#ff8c00"/><polygon points="284.4,377.7 287.2,380.5 292.6,379.3 289.8,376.4" fill="#ff4100"/><polygon points="270.8,377.9 273.6,380.8 279,379.1 276.2,376.3" fill="#ff3b00"/><polygon points="306.3,380.1 309.1,382.9 314.5,382.2 311.7,379.4" fill="#ff6300"/><polygon points="257.4,379 260.1,381.9 265.5,379.8 262.7,376.9" fill="#ff4100"/><polygon points="328.2,384.2 331.1,386.9 336.5,386.9 333.6,384.1" fill="#ffa500"/><polygon points="292.6,379.3 295.4,382 300.8,381 298,378.2" fill="#ff4900"/><polygon points="244.1,380.8 246.7,383.8 252,381.3 249.4,378.3" fill="#ff5600"/><polygon points="230.9,383.5 233.5,386.5 238.8,383.5 236.1,380.6" fill="#ff7900"/><polygon points="279,379.1 281.8,381.9 287.2,380.5 284.4,377.7" fill="#ff3c00"/><polygon points="314.5,382.2 317.4,385 322.8,384.5 319.9,381.7" fill="#ff7600"/><polygon points="265.5,379.8 268.2,382.6 273.6,380.8 270.8,377.9" fill="#ff3c00"/><polygon points="300.8,381 303.7,383.7 309.1,382.9 306.3,380.1" fill="#ff5400"/><polygon points="252,381.3 254.7,384.1 260.1,381.9 257.4,379" fill="#ff4900"/><polygon points="322.8,384.5 325.7,387.2 331.1,386.9 328.2,384.2" fill="#ff8b00"/><polygon points="238.8,383.5 241.4,386.4 246.7,383.8 244.1,380.8" fill="#ff6500"/><polygon points="287.2,380.5 290,383.3 295.4,382 292.6,379.3" fill="#ff4000"/><polygon points="273.6,380.8 276.4,383.6 281.8,381.9 279,379.1" fill="#ff3a00"/><polygon points="309.1,382.9 312,385.6 317.4,385 314.5,382.2" fill="#ff6200"/><polygon points="260.1,381.9 262.8,384.7 268.2,382.6 265.5,379.8" fill="#ff4000"/><polygon points="295.4,382 298.2,384.8 303.7,383.7 300.8,381" fill="#ff4700"/><polygon points="246.7,383.8 249.4,386.6 254.7,384.1 252,381.3" fill="#ff5400"/><polygon points="233.5,386.5 236.1,389.3 241.4,386.4 238.8,383.5" fill="#ff7700"/><polygon points="317.4,385 320.3,387.6 325.7,387.2 322.8,384.5" fill="#ff7400"/><polygon points="281.8,381.9 284.5,384.7 290,383.3 287.2,380.5" fill="#ff3b00"/><polygon points="268.2,382.6 270.9,385.4 276.4,383.6 273.6,380.8" fill="#ff3b00"/><polygon points="303.7,383.7 306.5,386.4 312,385.6 309.1,382.9" fill="#ff5200"/><polygon points="254.7,384.1 257.4,386.9 262.8,384.7 260.1,381.9" fill="#ff4700"/><polygon points="290,383.3 292.8,386 298.2,384.8 295.4,382" fill="#ff3e00"/><polygon points="241.4,386.4 244.1,389.3 249.4,386.6 246.7,383.8" fill="#ff6200"/><polygon points="312,385.6 314.8,388.2 320.3,387.6 317.4,385" fill="#ff6000"/><polygon points="276.4,383.6 279.1,386.3 284.5,384.7 281.8,381.9" fill="#ff3900"/><polygon points="262.8,384.7 265.5,387.4 270.9,385.4 268.2,382.6" fill="#ff3d00"/><polygon points="298.2,384.8 301,387.4 306.5,386.4 303.7,383.7" fill="#ff4500"/><polygon points="249.4,386.6 252.1,389.4 257.4,386.9 254.7,384.1" fill="#ff5100"/><polygon points="284.5,384.7 287.3,387.4 292.8,386 290,383.3" fill="#ff3900"/><polygon points="236.1,389.3 238.7,392.1 244.1,389.3 241.4,386.4" fill="#ff7400"/><polygon points="270.9,385.4 273.7,388.1 279.1,386.3 276.4,383.6" fill="#ff3900"/><polygon points="306.5,386.4 309.3,389 314.8,388.2 312,385.6" fill="#ff5000"/><polygon points="257.4,386.9 260.1,389.6 265.5,387.4 262.8,384.7" fill="#ff4400"/><polygon points="292.8,386 295.6,388.6 301,387.4 298.2,384.8" fill="#ff3c00"/><polygon points="244.1,389.3 246.7,392 252.1,389.4 249.4,386.6" fill="#ff5f00"/><polygon points="279.1,386.3 281.9,388.9 287.3,387.4 284.5,384.7" fill="#ff3600"/><polygon points="265.5,387.4 268.2,390.1 273.7,388.1 270.9,385.4" fill="#ff3b00"/><polygon points="301,387.4 303.9,390 309.3,389 306.5,386.4" fill="#ff4200"/><polygon points="252.1,389.4 254.7,392.1 260.1,389.6 257.4,386.9" fill="#ff4e00"/><polygon points="287.3,387.4 290.1,390 295.6,388.6 292.8,386" fill="#ff3600"/><polygon points="238.7,392.1 241.3,394.9 246.7,392 244.1,389.3" fill="#ff7000"/><polygon points="273.7,388.1 276.4,390.7 281.9,388.9 279.1,386.3" fill="#ff3600"/><polygon points="260.1,389.6 262.8,392.3 268.2,390.1 265.5,387.4" fill="#ff4000"/><polygon points="295.6,388.6 298.4,391.2 303.9,390 301,387.4" fill="#ff3900"/><polygon points="246.7,392 249.3,394.7 254.7,392.1 252.1,389.4" fill="#ff5a00"/><polygon points="281.9,388.9 284.6,391.5 290.1,390 287.3,387.4" fill="#ff3300"/><polygon points="268.2,390.1 270.9,392.7 276.4,390.7 273.7,388.1" fill="#ff3800"/><polygon points="254.7,392.1 257.4,394.7 262.8,392.3 260.1,389.6" fill="#ff4900"/><polygon points="290.1,390 292.9,392.5 298.4,391.2 295.6,388.6" fill="#ff3300"/><polygon points="241.3,394.9 244,397.5 249.3,394.7 246.7,392" fill="#ff6b00"/><polygon points="276.4,390.7 279.1,393.3 284.6,391.5 281.9,388.9" fill="#ff3200"/><polygon points="262.8,392.3 265.5,394.8 270.9,392.7 268.2,390.1" fill="#ff3b00"/><polygon points="249.3,394.7 252,397.3 257.4,394.7 254.7,392.1" fill="#ff5500"/><polygon points="284.6,391.5 287.4,394 292.9,392.5 290.1,390" fill="#ff3000"/><polygon points="270.9,392.7 273.7,395.2 279.1,393.3 276.4,390.7" fill="#ff3300"/><polygon points="257.4,394.7 260,397.2 265.5,394.8 262.8,392.3" fill="#ff4300"/><polygon points="244,397.5 246.6,400.1 252,397.3 249.3,394.7" fill="#ff6400"/><polygon points="279.1,393.3 281.9,395.7 287.4,394 284.6,391.5" fill="#ff2e00"/><polygon points="265.5,394.8 268.2,397.3 273.7,395.2 270.9,392.7" fill="#ff3700"/><polygon points="252,397.3 254.6,399.8 260,397.2 257.4,394.7" fill="#ff4e00"/><polygon points="273.7,395.2 276.4,397.7 281.9,395.7 279.1,393.3" fill="#ff2f00"/><polygon points="260,397.2 262.7,399.7 268.2,397.3 265.5,394.8" fill="#ff3c00"/><polygon points="246.6,400.1 249.2,402.6 254.6,399.8 252,397.3" fill="#ff5d00"/><polygon points="268.2,397.3 270.9,399.8 276.4,397.7 273.7,395.2" fill="#ff3100"/><polygon points="254.6,399.8 257.3,402.2 262.7,399.7 260,397.2" fill="#ff4600"/><polygon points="262.7,399.7 265.4,402.1 270.9,399.8 268.2,397.3" fill="#ff3600"/><polygon points="249.2,402.6 251.8,405 257.3,402.2 254.6,399.8" fill="#ff5400"/><polygon points="257.3,402.2 259.9,404.6 265.4,402.1 262.7,399.7" fill="#ff3d00"/><polygon points="251.8,405 254.4,407.3 259.9,404.6 257.3,402.2" fill="#ff4a00"/></g><circle cx="187.2" cy="325.6" r="2" fill="#ffd0d0" stroke="#600" stroke-width="0.4"/><circle cx="253.8" cy="406.3" r="2" fill="#b00000" stroke="#600" stroke-width="0.4"/><circle cx="389" cy="395" r="2" fill="#b00000" stroke="#600" stroke-width="0.4"/><circle cx="287" cy="345.2" r="2" fill="#b00000" stroke="#600" stroke-width="0.4"/><circle cx="314.5" cy="302.7" r="2" fill="#ffd0d0" stroke="#600" stroke-width="0.4"/></g></svg></body></html>
